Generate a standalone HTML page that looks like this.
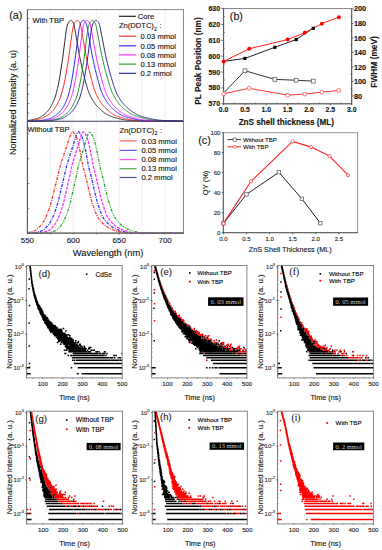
<!DOCTYPE html>
<html><head><meta charset="utf-8"><style>
html,body{margin:0;padding:0;background:#fff;width:382px;height:550px;overflow:hidden}
svg{display:block;font-family:"Liberation Sans", sans-serif}
text{stroke:#222;stroke-width:0.12px;paint-order:stroke}
text.w{stroke:none}
</style></head><body>
<svg width="382" height="550" viewBox="0 0 382 550">
<line x1="50.35" y1="9.60" x2="50.35" y2="233.10" stroke="#e4e4e4" stroke-width="0.6"/>
<line x1="73.30" y1="9.60" x2="73.30" y2="233.10" stroke="#e4e4e4" stroke-width="0.6"/>
<line x1="96.25" y1="9.60" x2="96.25" y2="233.10" stroke="#e4e4e4" stroke-width="0.6"/>
<line x1="119.20" y1="9.60" x2="119.20" y2="233.10" stroke="#e4e4e4" stroke-width="0.6"/>
<line x1="142.15" y1="9.60" x2="142.15" y2="233.10" stroke="#e4e4e4" stroke-width="0.6"/>
<line x1="165.10" y1="9.60" x2="165.10" y2="233.10" stroke="#e4e4e4" stroke-width="0.6"/>
<polyline points="27.40,120.59 27.71,120.55 28.03,120.51 28.34,120.46 28.65,120.41 28.96,120.36 29.28,120.31 29.59,120.26 29.90,120.21 30.22,120.15 30.53,120.10 30.84,120.04 31.15,119.98 31.47,119.92 31.78,119.86 32.09,119.80 32.41,119.73 32.72,119.67 33.03,119.60 33.34,119.53 33.66,119.47 33.97,119.40 34.28,119.33 34.59,119.25 34.91,119.18 35.22,119.11 35.53,119.03 35.85,118.96 36.16,118.88 36.47,118.80 36.78,118.71 37.10,118.61 37.41,118.50 37.72,118.38 38.04,118.26 38.35,118.13 38.66,117.99 38.97,117.84 39.29,117.69 39.60,117.53 39.91,117.36 40.23,117.18 40.54,117.00 40.85,116.81 41.16,116.61 41.48,116.41 41.79,116.20 42.10,115.98 42.42,115.76 42.73,115.54 43.04,115.30 43.35,115.06 43.67,114.82 43.98,114.57 44.29,114.31 44.61,114.05 44.92,113.79 45.23,113.52 45.54,113.24 45.86,112.96 46.17,112.68 46.48,112.39 46.80,112.09 47.11,111.77 47.42,111.44 47.73,111.08 48.05,110.71 48.36,110.32 48.67,109.91 48.98,109.49 49.30,109.04 49.61,108.58 49.92,108.10 50.24,107.60 50.55,107.08 50.86,106.55 51.17,106.00 51.49,105.42 51.80,104.83 52.11,104.23 52.43,103.60 52.74,102.96 53.05,102.29 53.36,101.61 53.68,100.92 53.99,100.20 54.30,99.46 54.62,98.69 54.93,97.84 55.24,96.91 55.55,95.90 55.87,94.82 56.18,93.68 56.49,92.48 56.81,91.23 57.12,89.94 57.43,88.60 57.74,87.23 58.06,85.83 58.37,84.37 58.68,82.82 59.00,81.19 59.31,79.48 59.62,77.71 59.93,75.88 60.25,73.99 60.56,72.04 60.87,70.06 61.19,68.03 61.50,65.96 61.81,63.87 62.12,61.75 62.44,59.62 62.75,57.42 63.06,55.06 63.37,52.59 63.69,50.06 64.00,47.51 64.31,44.99 64.63,42.54 64.94,40.21 65.25,37.84 65.56,35.38 65.88,32.96 66.19,30.71 66.50,28.74 66.82,27.19 67.13,26.05 67.44,25.02 67.75,24.10 68.07,23.30 68.38,22.62 68.69,22.09 69.01,21.69 69.32,21.34 69.63,21.01 69.94,20.73 70.26,20.51 70.57,20.36 70.88,20.30 71.20,20.36 71.51,20.52 71.82,20.78 72.13,21.12 72.45,21.50 72.76,21.92 73.07,22.40 73.39,23.07 73.70,23.92 74.01,24.93 74.32,26.26 74.64,27.88 74.95,29.67 75.26,31.51 75.58,33.29 75.89,35.02 76.20,36.79 76.51,38.61 76.83,40.45 77.14,42.32 77.45,44.19 77.76,46.06 78.08,47.91 78.39,49.74 78.70,51.53 79.02,53.27 79.33,54.96 79.64,56.57 79.95,58.12 80.27,59.65 80.58,61.16 80.89,62.63 81.21,64.09 81.52,65.51 81.83,66.91 82.14,68.28 82.46,69.62 82.77,70.94 83.08,72.22 83.40,73.48 83.71,74.71 84.02,75.91 84.33,77.11 84.65,78.30 84.96,79.50 85.27,80.68 85.59,81.86 85.90,83.02 86.21,84.16 86.52,85.27 86.84,86.37 87.15,87.42 87.46,88.45 87.78,89.44 88.09,90.38 88.40,91.28 88.71,92.14 89.03,92.93 89.34,93.67 89.65,94.36 89.97,95.02 90.28,95.67 90.59,96.30 90.90,96.92 91.22,97.52 91.53,98.11 91.84,98.68 92.15,99.24 92.47,99.78 92.78,100.31 93.09,100.82 93.41,101.32 93.72,101.81 94.03,102.28 94.34,102.74 94.66,103.18 94.97,103.62 95.28,104.04 95.60,104.44 95.91,104.84 96.22,105.22 96.53,105.59 96.85,105.94 97.16,106.29 97.47,106.62 97.79,106.94 98.10,107.26 98.41,107.57 98.72,107.87 99.04,108.18 99.35,108.48 99.66,108.78 99.98,109.07 100.29,109.36 100.60,109.64 100.91,109.92 101.23,110.20 101.54,110.47 101.85,110.74 102.17,111.01 102.48,111.27 102.79,111.52 103.10,111.77 103.42,112.02 103.73,112.26 104.04,112.50 104.36,112.73 104.67,112.96 104.98,113.18 105.29,113.39 105.61,113.61 105.92,113.81 106.23,114.01 106.54,114.21 106.86,114.39 107.17,114.58 107.48,114.76 107.80,114.93 108.11,115.09 108.42,115.25 108.73,115.40 109.05,115.55 109.36,115.69 109.67,115.82 109.99,115.95 110.30,116.07 110.61,116.18 110.92,116.29 111.24,116.40 111.55,116.50 111.86,116.60 112.18,116.71 112.49,116.81 112.80,116.91 113.11,117.01 113.43,117.11 113.74,117.20 114.05,117.30 114.37,117.39 114.68,117.49 114.99,117.58 115.30,117.67 115.62,117.76 115.93,117.85 116.24,117.94 116.56,118.03 116.87,118.11 117.18,118.20 117.49,118.28 117.81,118.37 118.12,118.45 118.43,118.53 118.75,118.60 119.06,118.68 119.37,118.76 119.68,118.83 120.00,118.90 120.31,118.98 120.62,119.05 120.93,119.11 121.25,119.18 121.56,119.25 121.87,119.31 122.19,119.38 122.50,119.44 122.81,119.50 123.12,119.56 123.44,119.61 123.75,119.67 124.06,119.72 124.38,119.78 124.69,119.83 125.00,119.88 125.31,119.92 125.63,119.97 125.94,120.02 126.25,120.06 126.57,120.10 126.88,120.14 127.19,120.18 127.50,120.21 127.82,120.25 128.13,120.28 128.44,120.31 128.76,120.34 129.07,120.37 129.38,120.39 129.69,120.42 130.01,120.44 130.32,120.46 130.63,120.48 130.95,120.49 131.26,120.51 131.57,120.53 131.88,120.54 132.20,120.56 132.51,120.57 132.82,120.59 133.14,120.60 133.45,120.62 133.76,120.63 134.07,120.64 134.39,120.66 134.70,120.67 135.01,120.69 135.32,120.70 135.64,120.72 135.95,120.73 136.26,120.74 136.58,120.76 136.89,120.77 137.20,120.78 137.51,120.79 137.83,120.81 138.14,120.82 138.45,120.83 138.77,120.85 139.08,120.86 139.39,120.87 139.70,120.88 140.02,120.89 140.33,120.90 140.64,120.92 140.96,120.93 141.27,120.94 141.58,120.95 141.89,120.96 142.21,120.97 142.52,120.98 142.83,120.99 143.15,121.00 143.46,121.01 143.77,121.02 144.08,121.03 144.40,121.04 144.71,121.05 145.02,121.06 145.34,121.07 145.65,121.08 145.96,121.09 146.27,121.10 146.59,121.10 146.90,121.11 147.21,121.12 147.53,121.13 147.84,121.14 148.15,121.14 148.46,121.15 148.78,121.16 149.09,121.16 149.40,121.17 149.71,121.18 150.03,121.19 150.34,121.19 150.65,121.20 150.97,121.20 151.28,121.20 151.59,121.20 151.90,121.20 152.22,121.20 152.53,121.20 152.84,121.20 153.16,121.20 153.47,121.20 153.78,121.20 154.09,121.20 154.41,121.20 154.72,121.20 155.03,121.20 155.35,121.20 155.66,121.20 155.97,121.20 156.28,121.20 156.60,121.20 156.91,121.20 157.22,121.20 157.54,121.20 157.85,121.20 158.16,121.20 158.47,121.20 158.79,121.20 159.10,121.20 159.41,121.20 159.73,121.20 160.04,121.20 160.35,121.20 160.66,121.20 160.98,121.20 161.29,121.20 161.60,121.20 161.92,121.20 162.23,121.20 162.54,121.20 162.85,121.20 163.17,121.20 163.48,121.20 163.79,121.20 164.10,121.20 164.42,121.20 164.73,121.20 165.04,121.20 165.36,121.20 165.67,121.20 165.98,121.20 166.29,121.20 166.61,121.20 166.92,121.20 167.23,121.20 167.55,121.20 167.86,121.20 168.17,121.20 168.48,121.20 168.80,121.20 169.11,121.20 169.42,121.20 169.74,121.20 170.05,121.20 170.36,121.20 170.67,121.20 170.99,121.20 171.30,121.20 171.61,121.20 171.93,121.20 172.24,121.20 172.55,121.20 172.86,121.20 173.18,121.20 173.49,121.20 173.80,121.20 174.12,121.20 174.43,121.20 174.74,121.20 175.05,121.20 175.37,121.20 175.68,121.20 175.99,121.20 176.31,121.20 176.62,121.20 176.93,121.20 177.24,121.20 177.56,121.20 177.87,121.20 178.18,121.20 178.49,121.20 178.81,121.20 179.12,121.20 179.43,121.20 179.75,121.20 180.06,121.20 180.37,121.20 180.68,121.20 181.00,121.20 181.31,121.20 181.62,121.20 181.94,121.20 182.25,121.20 182.56,121.20 182.87,121.20 183.19,121.20 183.50,121.20" fill="none" stroke="#222222" stroke-width="1.0" stroke-linejoin="round"/>
<polyline points="27.40,120.91 27.71,120.89 28.03,120.86 28.34,120.83 28.65,120.80 28.96,120.77 29.28,120.74 29.59,120.70 29.90,120.67 30.22,120.63 30.53,120.59 30.84,120.55 31.15,120.51 31.47,120.47 31.78,120.43 32.09,120.38 32.41,120.33 32.72,120.29 33.03,120.24 33.34,120.19 33.66,120.14 33.97,120.08 34.28,120.03 34.59,119.98 34.91,119.92 35.22,119.86 35.53,119.81 35.85,119.75 36.16,119.69 36.47,119.63 36.78,119.56 37.10,119.50 37.41,119.44 37.72,119.37 38.04,119.31 38.35,119.24 38.66,119.17 38.97,119.11 39.29,119.04 39.60,118.97 39.91,118.90 40.23,118.82 40.54,118.74 40.85,118.65 41.16,118.55 41.48,118.45 41.79,118.34 42.10,118.22 42.42,118.10 42.73,117.97 43.04,117.83 43.35,117.69 43.67,117.54 43.98,117.38 44.29,117.22 44.61,117.06 44.92,116.88 45.23,116.70 45.54,116.52 45.86,116.33 46.17,116.13 46.48,115.93 46.80,115.72 47.11,115.51 47.42,115.30 47.73,115.07 48.05,114.85 48.36,114.62 48.67,114.38 48.98,114.14 49.30,113.90 49.61,113.65 49.92,113.40 50.24,113.14 50.55,112.88 50.86,112.62 51.17,112.35 51.49,112.07 51.80,111.78 52.11,111.47 52.43,111.14 52.74,110.80 53.05,110.44 53.36,110.07 53.68,109.68 53.99,109.28 54.30,108.86 54.62,108.43 54.93,107.98 55.24,107.51 55.55,107.03 55.87,106.54 56.18,106.02 56.49,105.50 56.81,104.95 57.12,104.39 57.43,103.82 57.74,103.23 58.06,102.62 58.37,102.00 58.68,101.37 59.00,100.71 59.31,100.05 59.62,99.36 59.93,98.64 60.25,97.85 60.56,96.99 60.87,96.06 61.19,95.08 61.50,94.04 61.81,92.95 62.12,91.81 62.44,90.63 62.75,89.41 63.06,88.17 63.37,86.89 63.69,85.59 64.00,84.22 64.31,82.78 64.63,81.27 64.94,79.70 65.25,78.07 65.56,76.38 65.88,74.65 66.19,72.87 66.50,71.04 66.82,69.19 67.13,67.29 67.44,65.37 67.75,63.43 68.07,61.47 68.38,59.49 68.69,57.45 69.01,55.27 69.32,53.00 69.63,50.66 69.94,48.30 70.26,45.95 70.57,43.65 70.88,41.43 71.20,39.29 71.51,37.05 71.82,34.77 72.13,32.55 72.45,30.50 72.76,28.70 73.07,27.26 73.39,26.18 73.70,25.21 74.01,24.34 74.32,23.56 74.64,22.89 74.95,22.34 75.26,21.90 75.58,21.56 75.89,21.24 76.20,20.95 76.51,20.70 76.83,20.49 77.14,20.36 77.45,20.30 77.76,20.34 78.08,20.50 78.39,20.75 78.70,21.08 79.02,21.46 79.33,21.88 79.64,22.34 79.95,22.99 80.27,23.83 80.58,24.81 80.89,26.11 81.21,27.71 81.52,29.49 81.83,31.33 82.14,33.13 82.46,34.85 82.77,36.62 83.08,38.43 83.40,40.27 83.71,42.13 84.02,44.00 84.33,45.87 84.65,47.73 84.96,49.56 85.27,51.35 85.59,53.10 85.90,54.79 86.21,56.42 86.52,57.97 86.84,59.50 87.15,61.01 87.46,62.49 87.78,63.95 88.09,65.37 88.40,66.77 88.71,68.15 89.03,69.49 89.34,70.81 89.65,72.10 89.97,73.36 90.28,74.59 90.59,75.79 90.90,76.99 91.22,78.19 91.53,79.38 91.84,80.57 92.15,81.74 92.47,82.90 92.78,84.05 93.09,85.17 93.41,86.26 93.72,87.32 94.03,88.35 94.34,89.34 94.66,90.29 94.97,91.20 95.28,92.05 95.60,92.86 95.91,93.60 96.22,94.29 96.53,94.96 96.85,95.61 97.16,96.24 97.47,96.86 97.79,97.46 98.10,98.05 98.41,98.62 98.72,99.18 99.04,99.73 99.35,100.26 99.66,100.77 99.98,101.27 100.29,101.76 100.60,102.23 100.91,102.69 101.23,103.14 101.54,103.57 101.85,104.00 102.17,104.40 102.48,104.80 102.79,105.18 103.10,105.55 103.42,105.91 103.73,106.26 104.04,106.59 104.36,106.91 104.67,107.23 104.98,107.54 105.29,107.84 105.61,108.15 105.92,108.45 106.23,108.75 106.54,109.04 106.86,109.33 107.17,109.61 107.48,109.90 107.80,110.17 108.11,110.45 108.42,110.72 108.73,110.98 109.05,111.24 109.36,111.50 109.67,111.75 109.99,112.00 110.30,112.24 110.61,112.48 110.92,112.71 111.24,112.94 111.55,113.16 111.86,113.37 112.18,113.59 112.49,113.79 112.80,113.99 113.11,114.19 113.43,114.38 113.74,114.56 114.05,114.74 114.37,114.91 114.68,115.08 114.99,115.24 115.30,115.39 115.62,115.54 115.93,115.68 116.24,115.81 116.56,115.94 116.87,116.06 117.18,116.17 117.49,116.28 117.81,116.39 118.12,116.49 118.43,116.59 118.75,116.70 119.06,116.80 119.37,116.90 119.68,117.00 120.00,117.10 120.31,117.19 120.62,117.29 120.93,117.39 121.25,117.48 121.56,117.57 121.87,117.66 122.19,117.76 122.50,117.84 122.81,117.93 123.12,118.02 123.44,118.11 123.75,118.19 124.06,118.27 124.38,118.36 124.69,118.44 125.00,118.52 125.31,118.60 125.63,118.67 125.94,118.75 126.25,118.82 126.57,118.90 126.88,118.97 127.19,119.04 127.50,119.11 127.82,119.18 128.13,119.24 128.44,119.31 128.76,119.37 129.07,119.43 129.38,119.49 129.69,119.55 130.01,119.61 130.32,119.66 130.63,119.72 130.95,119.77 131.26,119.82 131.57,119.87 131.88,119.92 132.20,119.97 132.51,120.01 132.82,120.05 133.14,120.10 133.45,120.14 133.76,120.17 134.07,120.21 134.39,120.24 134.70,120.28 135.01,120.31 135.32,120.34 135.64,120.37 135.95,120.39 136.26,120.42 136.58,120.44 136.89,120.46 137.20,120.48 137.51,120.49 137.83,120.51 138.14,120.52 138.45,120.54 138.77,120.55 139.08,120.57 139.39,120.58 139.70,120.60 140.02,120.61 140.33,120.63 140.64,120.64 140.96,120.66 141.27,120.67 141.58,120.69 141.89,120.70 142.21,120.71 142.52,120.73 142.83,120.74 143.15,120.75 143.46,120.77 143.77,120.78 144.08,120.79 144.40,120.81 144.71,120.82 145.02,120.83 145.34,120.84 145.65,120.86 145.96,120.87 146.27,120.88 146.59,120.89 146.90,120.90 147.21,120.91 147.53,120.93 147.84,120.94 148.15,120.95 148.46,120.96 148.78,120.97 149.09,120.98 149.40,120.99 149.71,121.00 150.03,121.01 150.34,121.02 150.65,121.03 150.97,121.04 151.28,121.05 151.59,121.06 151.90,121.07 152.22,121.08 152.53,121.09 152.84,121.09 153.16,121.10 153.47,121.11 153.78,121.12 154.09,121.13 154.41,121.13 154.72,121.14 155.03,121.15 155.35,121.16 155.66,121.16 155.97,121.17 156.28,121.18 156.60,121.18 156.91,121.19 157.22,121.20 157.54,121.20 157.85,121.20 158.16,121.20 158.47,121.20 158.79,121.20 159.10,121.20 159.41,121.20 159.73,121.20 160.04,121.20 160.35,121.20 160.66,121.20 160.98,121.20 161.29,121.20 161.60,121.20 161.92,121.20 162.23,121.20 162.54,121.20 162.85,121.20 163.17,121.20 163.48,121.20 163.79,121.20 164.10,121.20 164.42,121.20 164.73,121.20 165.04,121.20 165.36,121.20 165.67,121.20 165.98,121.20 166.29,121.20 166.61,121.20 166.92,121.20 167.23,121.20 167.55,121.20 167.86,121.20 168.17,121.20 168.48,121.20 168.80,121.20 169.11,121.20 169.42,121.20 169.74,121.20 170.05,121.20 170.36,121.20 170.67,121.20 170.99,121.20 171.30,121.20 171.61,121.20 171.93,121.20 172.24,121.20 172.55,121.20 172.86,121.20 173.18,121.20 173.49,121.20 173.80,121.20 174.12,121.20 174.43,121.20 174.74,121.20 175.05,121.20 175.37,121.20 175.68,121.20 175.99,121.20 176.31,121.20 176.62,121.20 176.93,121.20 177.24,121.20 177.56,121.20 177.87,121.20 178.18,121.20 178.49,121.20 178.81,121.20 179.12,121.20 179.43,121.20 179.75,121.20 180.06,121.20 180.37,121.20 180.68,121.20 181.00,121.20 181.31,121.20 181.62,121.20 181.94,121.20 182.25,121.20 182.56,121.20 182.87,121.20 183.19,121.20 183.50,121.20" fill="none" stroke="#ff2020" stroke-width="1.0" stroke-linejoin="round"/>
<polyline points="27.40,121.17 27.71,121.17 28.03,121.17 28.34,121.16 28.65,121.16 28.96,121.16 29.28,121.15 29.59,121.15 29.90,121.15 30.22,121.14 30.53,121.14 30.84,121.13 31.15,121.13 31.47,121.13 31.78,121.12 32.09,121.12 32.41,121.11 32.72,121.11 33.03,121.10 33.34,121.10 33.66,121.10 33.97,121.09 34.28,121.08 34.59,121.07 34.91,121.06 35.22,121.04 35.53,121.03 35.85,121.01 36.16,120.99 36.47,120.97 36.78,120.94 37.10,120.92 37.41,120.89 37.72,120.86 38.04,120.83 38.35,120.79 38.66,120.76 38.97,120.72 39.29,120.69 39.60,120.65 39.91,120.61 40.23,120.56 40.54,120.52 40.85,120.47 41.16,120.43 41.48,120.38 41.79,120.33 42.10,120.27 42.42,120.22 42.73,120.17 43.04,120.11 43.35,120.05 43.67,120.00 43.98,119.94 44.29,119.88 44.61,119.81 44.92,119.75 45.23,119.69 45.54,119.62 45.86,119.55 46.17,119.48 46.48,119.42 46.80,119.35 47.11,119.27 47.42,119.20 47.73,119.13 48.05,119.05 48.36,118.98 48.67,118.90 48.98,118.82 49.30,118.73 49.61,118.64 49.92,118.53 50.24,118.42 50.55,118.30 50.86,118.17 51.17,118.03 51.49,117.88 51.80,117.73 52.11,117.57 52.43,117.40 52.74,117.23 53.05,117.05 53.36,116.86 53.68,116.67 53.99,116.47 54.30,116.26 54.62,116.04 54.93,115.82 55.24,115.60 55.55,115.37 55.87,115.13 56.18,114.89 56.49,114.64 56.81,114.38 57.12,114.12 57.43,113.86 57.74,113.59 58.06,113.32 58.37,113.04 58.68,112.76 59.00,112.47 59.31,112.17 59.62,111.86 59.93,111.53 60.25,111.18 60.56,110.82 60.87,110.43 61.19,110.03 61.50,109.61 61.81,109.17 62.12,108.71 62.44,108.24 62.75,107.74 63.06,107.23 63.37,106.70 63.69,106.15 64.00,105.59 64.31,105.00 64.63,104.40 64.94,103.78 65.25,103.14 65.56,102.48 65.88,101.80 66.19,101.11 66.50,100.40 66.82,99.67 67.13,98.92 67.44,98.09 67.75,97.17 68.07,96.19 68.38,95.13 68.69,94.00 69.01,92.82 69.32,91.58 69.63,90.30 69.94,88.98 70.26,87.62 70.57,86.23 70.88,84.78 71.20,83.26 71.51,81.65 71.82,79.96 72.13,78.21 72.45,76.39 72.76,74.52 73.07,72.59 73.39,70.61 73.70,68.60 74.01,66.54 74.32,64.46 74.64,62.35 74.95,60.22 75.26,58.05 75.58,55.73 75.89,53.29 76.20,50.77 76.51,48.22 76.83,45.69 77.14,43.21 77.45,40.85 77.76,38.51 78.08,36.06 78.39,33.62 78.70,31.31 79.02,29.25 79.33,27.58 79.64,26.35 79.95,25.29 80.27,24.34 80.58,23.51 80.89,22.80 81.21,22.22 81.52,21.79 81.83,21.43 82.14,21.10 82.46,20.80 82.77,20.56 83.08,20.39 83.40,20.31 83.71,20.33 84.02,20.46 84.33,20.69 84.65,20.99 84.96,21.36 85.27,21.76 85.59,22.18 85.90,22.75 86.21,23.52 86.52,24.43 86.84,25.57 87.15,27.03 87.46,28.71 87.78,30.51 88.09,32.30 88.40,34.00 88.71,35.71 89.03,37.47 89.34,39.26 89.65,41.08 89.97,42.91 90.28,44.74 90.59,46.57 90.90,48.38 91.22,50.17 91.53,51.91 91.84,53.61 92.15,55.25 92.47,56.82 92.78,58.34 93.09,59.84 93.41,61.31 93.72,62.75 94.03,64.18 94.34,65.57 94.66,66.94 94.97,68.28 95.28,69.60 95.60,70.89 95.91,72.15 96.22,73.39 96.53,74.59 96.85,75.77 97.16,76.95 97.47,78.12 97.79,79.29 98.10,80.46 98.41,81.61 98.72,82.75 99.04,83.87 99.35,84.97 99.66,86.05 99.98,87.10 100.29,88.12 100.60,89.10 100.91,90.04 101.23,90.94 101.54,91.79 101.85,92.60 102.17,93.35 102.48,94.04 102.79,94.70 103.10,95.34 103.42,95.97 103.73,96.58 104.04,97.18 104.36,97.77 104.67,98.34 104.98,98.89 105.29,99.43 105.61,99.96 105.92,100.47 106.23,100.97 106.54,101.46 106.86,101.93 107.17,102.39 107.48,102.84 107.80,103.27 108.11,103.69 108.42,104.10 108.73,104.50 109.05,104.88 109.36,105.26 109.67,105.62 109.99,105.97 110.30,106.30 110.61,106.63 110.92,106.94 111.24,107.25 111.55,107.56 111.86,107.86 112.18,108.16 112.49,108.45 112.80,108.74 113.11,109.03 113.43,109.31 113.74,109.59 114.05,109.87 114.37,110.14 114.68,110.41 114.99,110.68 115.30,110.94 115.62,111.19 115.93,111.44 116.24,111.69 116.56,111.93 116.87,112.17 117.18,112.41 117.49,112.64 117.81,112.86 118.12,113.08 118.43,113.29 118.75,113.50 119.06,113.71 119.37,113.91 119.68,114.10 120.00,114.29 120.31,114.47 120.62,114.65 120.93,114.82 121.25,114.99 121.56,115.15 121.87,115.30 122.19,115.45 122.50,115.59 122.81,115.73 123.12,115.85 123.44,115.98 123.75,116.09 124.06,116.20 124.38,116.31 124.69,116.41 125.00,116.51 125.31,116.62 125.63,116.72 125.94,116.81 126.25,116.91 126.57,117.01 126.88,117.11 127.19,117.20 127.50,117.30 127.82,117.39 128.13,117.48 128.44,117.57 128.76,117.66 129.07,117.75 129.38,117.84 129.69,117.93 130.01,118.01 130.32,118.10 130.63,118.18 130.95,118.26 131.26,118.34 131.57,118.42 131.88,118.50 132.20,118.58 132.51,118.65 132.82,118.73 133.14,118.80 133.45,118.87 133.76,118.95 134.07,119.01 134.39,119.08 134.70,119.15 135.01,119.22 135.32,119.28 135.64,119.34 135.95,119.40 136.26,119.46 136.58,119.52 136.89,119.58 137.20,119.63 137.51,119.69 137.83,119.74 138.14,119.79 138.45,119.84 138.77,119.89 139.08,119.94 139.39,119.98 139.70,120.02 140.02,120.07 140.33,120.11 140.64,120.14 140.96,120.18 141.27,120.22 141.58,120.25 141.89,120.28 142.21,120.31 142.52,120.34 142.83,120.37 143.15,120.39 143.46,120.42 143.77,120.44 144.08,120.46 144.40,120.48 144.71,120.49 145.02,120.51 145.34,120.52 145.65,120.54 145.96,120.55 146.27,120.57 146.59,120.58 146.90,120.60 147.21,120.61 147.53,120.63 147.84,120.64 148.15,120.65 148.46,120.67 148.78,120.68 149.09,120.70 149.40,120.71 149.71,120.72 150.03,120.74 150.34,120.75 150.65,120.76 150.97,120.78 151.28,120.79 151.59,120.80 151.90,120.81 152.22,120.83 152.53,120.84 152.84,120.85 153.16,120.86 153.47,120.87 153.78,120.88 154.09,120.90 154.41,120.91 154.72,120.92 155.03,120.93 155.35,120.94 155.66,120.95 155.97,120.96 156.28,120.97 156.60,120.98 156.91,120.99 157.22,121.00 157.54,121.01 157.85,121.02 158.16,121.03 158.47,121.04 158.79,121.05 159.10,121.06 159.41,121.07 159.73,121.08 160.04,121.09 160.35,121.09 160.66,121.10 160.98,121.11 161.29,121.12 161.60,121.13 161.92,121.13 162.23,121.14 162.54,121.15 162.85,121.16 163.17,121.16 163.48,121.17 163.79,121.18 164.10,121.18 164.42,121.19 164.73,121.20 165.04,121.20 165.36,121.20 165.67,121.20 165.98,121.20 166.29,121.20 166.61,121.20 166.92,121.20 167.23,121.20 167.55,121.20 167.86,121.20 168.17,121.20 168.48,121.20 168.80,121.20 169.11,121.20 169.42,121.20 169.74,121.20 170.05,121.20 170.36,121.20 170.67,121.20 170.99,121.20 171.30,121.20 171.61,121.20 171.93,121.20 172.24,121.20 172.55,121.20 172.86,121.20 173.18,121.20 173.49,121.20 173.80,121.20 174.12,121.20 174.43,121.20 174.74,121.20 175.05,121.20 175.37,121.20 175.68,121.20 175.99,121.20 176.31,121.20 176.62,121.20 176.93,121.20 177.24,121.20 177.56,121.20 177.87,121.20 178.18,121.20 178.49,121.20 178.81,121.20 179.12,121.20 179.43,121.20 179.75,121.20 180.06,121.20 180.37,121.20 180.68,121.20 181.00,121.20 181.31,121.20 181.62,121.20 181.94,121.20 182.25,121.20 182.56,121.20 182.87,121.20 183.19,121.20 183.50,121.20" fill="none" stroke="#2020ff" stroke-width="1.0" stroke-linejoin="round"/>
<polyline points="27.40,121.21 27.71,121.21 28.03,121.21 28.34,121.20 28.65,121.20 28.96,121.20 29.28,121.19 29.59,121.19 29.90,121.19 30.22,121.18 30.53,121.18 30.84,121.18 31.15,121.17 31.47,121.17 31.78,121.17 32.09,121.16 32.41,121.16 32.72,121.16 33.03,121.15 33.34,121.15 33.66,121.14 33.97,121.14 34.28,121.14 34.59,121.13 34.91,121.13 35.22,121.12 35.53,121.12 35.85,121.12 36.16,121.11 36.47,121.11 36.78,121.10 37.10,121.10 37.41,121.09 37.72,121.09 38.04,121.08 38.35,121.06 38.66,121.05 38.97,121.03 39.29,121.02 39.60,121.00 39.91,120.98 40.23,120.95 40.54,120.93 40.85,120.90 41.16,120.87 41.48,120.84 41.79,120.81 42.10,120.78 42.42,120.74 42.73,120.71 43.04,120.67 43.35,120.63 43.67,120.58 43.98,120.54 44.29,120.50 44.61,120.45 44.92,120.40 45.23,120.35 45.54,120.30 45.86,120.25 46.17,120.20 46.48,120.14 46.80,120.08 47.11,120.03 47.42,119.97 47.73,119.91 48.05,119.85 48.36,119.78 48.67,119.72 48.98,119.65 49.30,119.59 49.61,119.52 49.92,119.45 50.24,119.38 50.55,119.31 50.86,119.24 51.17,119.17 51.49,119.09 51.80,119.02 52.11,118.94 52.43,118.86 52.74,118.78 53.05,118.69 53.36,118.59 53.68,118.48 53.99,118.36 54.30,118.23 54.62,118.10 54.93,117.96 55.24,117.81 55.55,117.65 55.87,117.49 56.18,117.32 56.49,117.14 56.81,116.96 57.12,116.77 57.43,116.57 57.74,116.36 58.06,116.15 58.37,115.94 58.68,115.71 59.00,115.49 59.31,115.25 59.62,115.01 59.93,114.76 60.25,114.51 60.56,114.26 60.87,114.00 61.19,113.73 61.50,113.46 61.81,113.18 62.12,112.90 62.44,112.62 62.75,112.33 63.06,112.02 63.37,111.70 63.69,111.36 64.00,111.00 64.31,110.63 64.63,110.24 64.94,109.82 65.25,109.39 65.56,108.95 65.88,108.48 66.19,107.99 66.50,107.49 66.82,106.97 67.13,106.43 67.44,105.88 67.75,105.30 68.07,104.71 68.38,104.09 68.69,103.46 69.01,102.82 69.32,102.15 69.63,101.47 69.94,100.76 70.26,100.04 70.57,99.30 70.88,98.52 71.20,97.65 71.51,96.70 71.82,95.67 72.13,94.58 72.45,93.43 72.76,92.22 73.07,90.96 73.39,89.65 73.70,88.31 74.01,86.94 74.32,85.53 74.64,84.04 74.95,82.48 75.26,80.83 75.58,79.11 75.89,77.33 76.20,75.48 76.51,73.58 76.83,71.62 77.14,69.63 77.45,67.59 77.76,65.52 78.08,63.42 78.39,61.30 78.70,59.16 79.02,56.93 79.33,54.54 79.64,52.06 79.95,49.52 80.27,46.97 80.58,44.46 80.89,42.03 81.21,39.72 81.52,37.31 81.83,34.85 82.14,32.46 82.46,30.26 82.77,28.37 83.08,26.93 83.40,25.82 83.71,24.81 84.02,23.92 84.33,23.14 84.65,22.50 84.96,21.99 85.27,21.62 85.59,21.27 85.90,20.95 86.21,20.68 86.52,20.47 86.84,20.34 87.15,20.30 87.46,20.38 87.78,20.55 88.09,20.81 88.40,21.14 88.71,21.51 89.03,21.91 89.34,22.36 89.65,22.99 89.97,23.79 90.28,24.73 90.59,25.94 90.90,27.45 91.22,29.14 91.53,30.90 91.84,32.65 92.15,34.31 92.47,36.00 92.78,37.72 93.09,39.48 93.41,41.27 93.72,43.06 94.03,44.86 94.34,46.66 94.66,48.43 94.97,50.18 95.28,51.89 95.60,53.56 95.91,55.17 96.22,56.72 96.53,58.21 96.85,59.68 97.16,61.12 97.47,62.54 97.79,63.94 98.10,65.32 98.41,66.66 98.72,67.99 99.04,69.29 99.35,70.56 99.66,71.80 99.98,73.02 100.29,74.21 100.60,75.38 100.91,76.53 101.23,77.68 101.54,78.83 101.85,79.97 102.17,81.11 102.48,82.24 102.79,83.34 103.10,84.43 103.42,85.50 103.73,86.55 104.04,87.56 104.36,88.54 104.67,89.49 104.98,90.40 105.29,91.26 105.61,92.08 105.92,92.86 106.23,93.57 106.54,94.24 106.86,94.88 107.17,95.51 107.48,96.12 107.80,96.72 108.11,97.30 108.42,97.87 108.73,98.43 109.05,98.97 109.36,99.50 109.67,100.01 109.99,100.51 110.30,101.00 110.61,101.48 110.92,101.94 111.24,102.39 111.55,102.83 111.86,103.26 112.18,103.67 112.49,104.07 112.80,104.46 113.11,104.84 113.43,105.21 113.74,105.56 114.05,105.91 114.37,106.24 114.68,106.56 114.99,106.88 115.30,107.18 115.62,107.48 115.93,107.77 116.24,108.07 116.56,108.36 116.87,108.64 117.18,108.93 117.49,109.21 117.81,109.48 118.12,109.76 118.43,110.02 118.75,110.29 119.06,110.55 119.37,110.81 119.68,111.06 120.00,111.31 120.31,111.56 120.62,111.80 120.93,112.03 121.25,112.27 121.56,112.49 121.87,112.72 122.19,112.93 122.50,113.15 122.81,113.36 123.12,113.56 123.44,113.76 123.75,113.95 124.06,114.14 124.38,114.33 124.69,114.50 125.00,114.68 125.31,114.84 125.63,115.01 125.94,115.16 126.25,115.31 126.57,115.46 126.88,115.60 127.19,115.73 127.50,115.86 127.82,115.98 128.13,116.09 128.44,116.20 128.76,116.30 129.07,116.40 129.38,116.50 129.69,116.60 130.01,116.70 130.32,116.80 130.63,116.90 130.95,116.99 131.26,117.09 131.57,117.18 131.88,117.27 132.20,117.36 132.51,117.45 132.82,117.54 133.14,117.63 133.45,117.72 133.76,117.81 134.07,117.89 134.39,117.98 134.70,118.06 135.01,118.14 135.32,118.22 135.64,118.30 135.95,118.38 136.26,118.46 136.58,118.54 136.89,118.61 137.20,118.69 137.51,118.76 137.83,118.83 138.14,118.90 138.45,118.97 138.77,119.04 139.08,119.10 139.39,119.17 139.70,119.23 140.02,119.29 140.33,119.36 140.64,119.42 140.96,119.47 141.27,119.53 141.58,119.59 141.89,119.64 142.21,119.69 142.52,119.75 142.83,119.80 143.15,119.84 143.46,119.89 143.77,119.94 144.08,119.98 144.40,120.02 144.71,120.06 145.02,120.10 145.34,120.14 145.65,120.18 145.96,120.21 146.27,120.25 146.59,120.28 146.90,120.31 147.21,120.34 147.53,120.36 147.84,120.39 148.15,120.41 148.46,120.43 148.78,120.45 149.09,120.47 149.40,120.49 149.71,120.50 150.03,120.52 150.34,120.53 150.65,120.55 150.97,120.56 151.28,120.58 151.59,120.59 151.90,120.60 152.22,120.62 152.53,120.63 152.84,120.65 153.16,120.66 153.47,120.67 153.78,120.69 154.09,120.70 154.41,120.71 154.72,120.73 155.03,120.74 155.35,120.75 155.66,120.77 155.97,120.78 156.28,120.79 156.60,120.80 156.91,120.82 157.22,120.83 157.54,120.84 157.85,120.85 158.16,120.86 158.47,120.87 158.79,120.89 159.10,120.90 159.41,120.91 159.73,120.92 160.04,120.93 160.35,120.94 160.66,120.95 160.98,120.96 161.29,120.97 161.60,120.98 161.92,120.99 162.23,121.00 162.54,121.01 162.85,121.02 163.17,121.03 163.48,121.04 163.79,121.05 164.10,121.06 164.42,121.07 164.73,121.07 165.04,121.08 165.36,121.09 165.67,121.10 165.98,121.11 166.29,121.12 166.61,121.12 166.92,121.13 167.23,121.14 167.55,121.15 167.86,121.15 168.17,121.16 168.48,121.17 168.80,121.17 169.11,121.18 169.42,121.19 169.74,121.19 170.05,121.20 170.36,121.20 170.67,121.20 170.99,121.20 171.30,121.20 171.61,121.20 171.93,121.20 172.24,121.20 172.55,121.20 172.86,121.20 173.18,121.20 173.49,121.20 173.80,121.20 174.12,121.20 174.43,121.20 174.74,121.20 175.05,121.20 175.37,121.20 175.68,121.20 175.99,121.20 176.31,121.20 176.62,121.20 176.93,121.20 177.24,121.20 177.56,121.20 177.87,121.20 178.18,121.20 178.49,121.20 178.81,121.20 179.12,121.20 179.43,121.20 179.75,121.20 180.06,121.20 180.37,121.20 180.68,121.20 181.00,121.20 181.31,121.20 181.62,121.20 181.94,121.20 182.25,121.20 182.56,121.20 182.87,121.20 183.19,121.20 183.50,121.20" fill="none" stroke="#ff20ff" stroke-width="1.0" stroke-linejoin="round"/>
<polyline points="27.40,121.25 27.71,121.25 28.03,121.24 28.34,121.24 28.65,121.24 28.96,121.24 29.28,121.23 29.59,121.23 29.90,121.23 30.22,121.23 30.53,121.22 30.84,121.22 31.15,121.22 31.47,121.22 31.78,121.21 32.09,121.21 32.41,121.21 32.72,121.21 33.03,121.20 33.34,121.20 33.66,121.20 33.97,121.19 34.28,121.19 34.59,121.19 34.91,121.18 35.22,121.18 35.53,121.18 35.85,121.17 36.16,121.17 36.47,121.17 36.78,121.16 37.10,121.16 37.41,121.16 37.72,121.15 38.04,121.15 38.35,121.14 38.66,121.14 38.97,121.14 39.29,121.13 39.60,121.13 39.91,121.13 40.23,121.12 40.54,121.12 40.85,121.11 41.16,121.11 41.48,121.10 41.79,121.10 42.10,121.09 42.42,121.09 42.73,121.08 43.04,121.07 43.35,121.06 43.67,121.04 43.98,121.02 44.29,121.01 44.61,120.99 44.92,120.96 45.23,120.94 45.54,120.91 45.86,120.89 46.17,120.86 46.48,120.83 46.80,120.79 47.11,120.76 47.42,120.72 47.73,120.69 48.05,120.65 48.36,120.61 48.67,120.57 48.98,120.52 49.30,120.48 49.61,120.43 49.92,120.38 50.24,120.33 50.55,120.28 50.86,120.23 51.17,120.18 51.49,120.12 51.80,120.06 52.11,120.01 52.43,119.95 52.74,119.89 53.05,119.83 53.36,119.76 53.68,119.70 53.99,119.64 54.30,119.57 54.62,119.50 54.93,119.43 55.24,119.36 55.55,119.29 55.87,119.22 56.18,119.15 56.49,119.08 56.81,119.00 57.12,118.93 57.43,118.85 57.74,118.77 58.06,118.67 58.37,118.57 58.68,118.46 59.00,118.34 59.31,118.22 59.62,118.09 59.93,117.95 60.25,117.80 60.56,117.64 60.87,117.48 61.19,117.31 61.50,117.14 61.81,116.95 62.12,116.76 62.44,116.57 62.75,116.37 63.06,116.16 63.37,115.94 63.69,115.72 64.00,115.50 64.31,115.26 64.63,115.03 64.94,114.78 65.25,114.53 65.56,114.28 65.88,114.02 66.19,113.76 66.50,113.49 66.82,113.22 67.13,112.94 67.44,112.66 67.75,112.37 68.07,112.08 68.38,111.76 68.69,111.43 69.01,111.08 69.32,110.71 69.63,110.32 69.94,109.92 70.26,109.50 70.57,109.06 70.88,108.60 71.20,108.13 71.51,107.64 71.82,107.12 72.13,106.60 72.45,106.05 72.76,105.49 73.07,104.90 73.39,104.30 73.70,103.69 74.01,103.05 74.32,102.40 74.64,101.73 74.95,101.04 75.26,100.33 75.58,99.61 75.89,98.86 76.20,98.03 76.51,97.12 76.83,96.14 77.14,95.09 77.45,93.98 77.76,92.80 78.08,91.58 78.39,90.31 78.70,89.00 79.02,87.65 79.33,86.28 79.64,84.85 79.95,83.35 80.27,81.76 80.58,80.10 80.89,78.37 81.21,76.57 81.52,74.72 81.83,72.82 82.14,70.86 82.46,68.87 82.77,66.84 83.08,64.78 83.40,62.70 83.71,60.59 84.02,58.46 84.33,56.19 84.65,53.80 84.96,51.32 85.27,48.79 85.59,46.28 85.90,43.81 86.21,41.44 86.52,39.14 86.84,36.74 87.15,34.31 87.46,31.97 87.78,29.84 88.09,28.05 88.40,26.72 88.71,25.64 89.03,24.66 89.34,23.79 89.65,23.04 89.97,22.42 90.28,21.94 90.59,21.57 90.90,21.23 91.22,20.92 91.53,20.66 91.84,20.45 92.15,20.33 92.47,20.30 92.78,20.38 93.09,20.54 93.41,20.78 93.72,21.08 94.03,21.42 94.34,21.80 94.66,22.19 94.97,22.72 95.28,23.42 95.60,24.24 95.91,25.23 96.22,26.50 96.53,28.00 96.85,29.63 97.16,31.31 97.47,32.94 97.79,34.51 98.10,36.10 98.41,37.74 98.72,39.40 99.04,41.09 99.35,42.79 99.66,44.49 99.98,46.19 100.29,47.87 100.60,49.53 100.91,51.17 101.23,52.76 101.54,54.32 101.85,55.81 102.17,57.25 102.48,58.65 102.79,60.03 103.10,61.40 103.42,62.74 103.73,64.06 104.04,65.35 104.36,66.63 104.67,67.88 104.98,69.11 105.29,70.32 105.61,71.50 105.92,72.66 106.23,73.79 106.54,74.90 106.86,75.99 107.17,77.08 107.48,78.17 107.80,79.26 108.11,80.34 108.42,81.41 108.73,82.47 109.05,83.51 109.36,84.54 109.67,85.55 109.99,86.54 110.30,87.50 110.61,88.43 110.92,89.33 111.24,90.20 111.55,91.03 111.86,91.81 112.18,92.56 112.49,93.26 112.80,93.91 113.11,94.53 113.43,95.13 113.74,95.71 114.05,96.29 114.37,96.85 114.68,97.40 114.99,97.94 115.30,98.46 115.62,98.97 115.93,99.47 116.24,99.96 116.56,100.44 116.87,100.90 117.18,101.36 117.49,101.80 117.81,102.23 118.12,102.65 118.43,103.05 118.75,103.45 119.06,103.84 119.37,104.21 119.68,104.58 120.00,104.93 120.31,105.28 120.62,105.61 120.93,105.94 121.25,106.25 121.56,106.56 121.87,106.85 122.19,107.14 122.50,107.42 122.81,107.70 123.12,107.98 123.44,108.25 123.75,108.53 124.06,108.80 124.38,109.06 124.69,109.33 125.00,109.59 125.31,109.84 125.63,110.09 125.94,110.34 126.25,110.59 126.57,110.83 126.88,111.07 127.19,111.31 127.50,111.54 127.82,111.77 128.13,111.99 128.44,112.21 128.76,112.43 129.07,112.64 129.38,112.85 129.69,113.05 130.01,113.25 130.32,113.45 130.63,113.64 130.95,113.83 131.26,114.01 131.57,114.18 131.88,114.36 132.20,114.52 132.51,114.69 132.82,114.85 133.14,115.00 133.45,115.15 133.76,115.29 134.07,115.43 134.39,115.56 134.70,115.69 135.01,115.81 135.32,115.93 135.64,116.04 135.95,116.14 136.26,116.24 136.58,116.34 136.89,116.43 137.20,116.53 137.51,116.62 137.83,116.71 138.14,116.81 138.45,116.90 138.77,116.99 139.08,117.08 139.39,117.17 139.70,117.25 140.02,117.34 140.33,117.43 140.64,117.51 140.96,117.60 141.27,117.68 141.58,117.76 141.89,117.84 142.21,117.92 142.52,118.00 142.83,118.08 143.15,118.16 143.46,118.24 143.77,118.31 144.08,118.39 144.40,118.46 144.71,118.53 145.02,118.60 145.34,118.67 145.65,118.74 145.96,118.81 146.27,118.88 146.59,118.94 146.90,119.01 147.21,119.07 147.53,119.13 147.84,119.19 148.15,119.25 148.46,119.31 148.78,119.37 149.09,119.43 149.40,119.48 149.71,119.53 150.03,119.59 150.34,119.64 150.65,119.69 150.97,119.74 151.28,119.78 151.59,119.83 151.90,119.88 152.22,119.92 152.53,119.96 152.84,120.00 153.16,120.04 153.47,120.08 153.78,120.12 154.09,120.15 154.41,120.19 154.72,120.22 155.03,120.25 155.35,120.28 155.66,120.31 155.97,120.33 156.28,120.36 156.60,120.38 156.91,120.41 157.22,120.43 157.54,120.45 157.85,120.46 158.16,120.48 158.47,120.50 158.79,120.51 159.10,120.52 159.41,120.54 159.73,120.55 160.04,120.57 160.35,120.58 160.66,120.59 160.98,120.61 161.29,120.62 161.60,120.63 161.92,120.65 162.23,120.66 162.54,120.67 162.85,120.68 163.17,120.70 163.48,120.71 163.79,120.72 164.10,120.73 164.42,120.75 164.73,120.76 165.04,120.77 165.36,120.78 165.67,120.79 165.98,120.81 166.29,120.82 166.61,120.83 166.92,120.84 167.23,120.85 167.55,120.86 167.86,120.87 168.17,120.88 168.48,120.89 168.80,120.91 169.11,120.92 169.42,120.93 169.74,120.94 170.05,120.95 170.36,120.96 170.67,120.97 170.99,120.98 171.30,120.98 171.61,120.99 171.93,121.00 172.24,121.01 172.55,121.02 172.86,121.03 173.18,121.04 173.49,121.05 173.80,121.06 174.12,121.06 174.43,121.07 174.74,121.08 175.05,121.09 175.37,121.10 175.68,121.10 175.99,121.11 176.31,121.12 176.62,121.13 176.93,121.13 177.24,121.14 177.56,121.15 177.87,121.15 178.18,121.16 178.49,121.17 178.81,121.17 179.12,121.18 179.43,121.18 179.75,121.19 180.06,121.20 180.37,121.20 180.68,121.20 181.00,121.20 181.31,121.20 181.62,121.20 181.94,121.20 182.25,121.20 182.56,121.20 182.87,121.20 183.19,121.20 183.50,121.20" fill="none" stroke="#208f20" stroke-width="1.0" stroke-linejoin="round"/>
<polyline points="27.40,121.27 27.71,121.26 28.03,121.26 28.34,121.26 28.65,121.26 28.96,121.26 29.28,121.26 29.59,121.25 29.90,121.25 30.22,121.25 30.53,121.25 30.84,121.24 31.15,121.24 31.47,121.24 31.78,121.24 32.09,121.24 32.41,121.23 32.72,121.23 33.03,121.23 33.34,121.23 33.66,121.22 33.97,121.22 34.28,121.22 34.59,121.22 34.91,121.21 35.22,121.21 35.53,121.21 35.85,121.20 36.16,121.20 36.47,121.20 36.78,121.20 37.10,121.19 37.41,121.19 37.72,121.19 38.04,121.18 38.35,121.18 38.66,121.18 38.97,121.17 39.29,121.17 39.60,121.17 39.91,121.16 40.23,121.16 40.54,121.16 40.85,121.15 41.16,121.15 41.48,121.14 41.79,121.14 42.10,121.14 42.42,121.13 42.73,121.13 43.04,121.12 43.35,121.12 43.67,121.12 43.98,121.11 44.29,121.11 44.61,121.10 44.92,121.10 45.23,121.09 45.54,121.09 45.86,121.08 46.17,121.07 46.48,121.06 46.80,121.04 47.11,121.02 47.42,121.01 47.73,120.99 48.05,120.96 48.36,120.94 48.67,120.92 48.98,120.89 49.30,120.86 49.61,120.83 49.92,120.80 50.24,120.76 50.55,120.73 50.86,120.69 51.17,120.65 51.49,120.61 51.80,120.57 52.11,120.53 52.43,120.48 52.74,120.44 53.05,120.39 53.36,120.34 53.68,120.29 53.99,120.24 54.30,120.19 54.62,120.13 54.93,120.08 55.24,120.02 55.55,119.96 55.87,119.90 56.18,119.84 56.49,119.78 56.81,119.72 57.12,119.65 57.43,119.59 57.74,119.52 58.06,119.46 58.37,119.39 58.68,119.32 59.00,119.25 59.31,119.18 59.62,119.10 59.93,119.03 60.25,118.96 60.56,118.88 60.87,118.80 61.19,118.71 61.50,118.62 61.81,118.51 62.12,118.40 62.44,118.28 62.75,118.15 63.06,118.01 63.37,117.87 63.69,117.72 64.00,117.56 64.31,117.40 64.63,117.23 64.94,117.05 65.25,116.87 65.56,116.68 65.88,116.48 66.19,116.28 66.50,116.07 66.82,115.85 67.13,115.63 67.44,115.41 67.75,115.17 68.07,114.94 68.38,114.69 68.69,114.45 69.01,114.19 69.32,113.94 69.63,113.67 69.94,113.41 70.26,113.14 70.57,112.86 70.88,112.58 71.20,112.29 71.51,112.00 71.82,111.68 72.13,111.35 72.45,111.00 72.76,110.63 73.07,110.24 73.39,109.84 73.70,109.42 74.01,108.98 74.32,108.52 74.64,108.05 74.95,107.56 75.26,107.05 75.58,106.53 75.89,105.98 76.20,105.42 76.51,104.84 76.83,104.25 77.14,103.64 77.45,103.00 77.76,102.36 78.08,101.69 78.39,101.01 78.70,100.31 79.02,99.59 79.33,98.85 79.64,98.03 79.95,97.13 80.27,96.16 80.58,95.12 80.89,94.02 81.21,92.86 81.52,91.65 81.83,90.39 82.14,89.10 82.46,87.77 82.77,86.41 83.08,85.00 83.40,83.52 83.71,81.96 84.02,80.32 84.33,78.62 84.65,76.85 84.96,75.02 85.27,73.15 85.59,71.22 85.90,69.26 86.21,67.25 86.52,65.22 86.84,63.16 87.15,61.08 87.46,58.98 87.78,56.77 88.09,54.43 88.40,51.99 88.71,49.50 89.03,47.00 89.34,44.54 89.65,42.16 89.97,39.89 90.28,37.54 90.59,35.12 90.90,32.76 91.22,30.57 91.53,28.67 91.84,27.16 92.15,26.04 92.47,25.03 92.78,24.13 93.09,23.34 93.41,22.67 93.72,22.13 94.03,21.73 94.34,21.38 94.66,21.06 94.97,20.77 95.28,20.54 95.60,20.38 95.91,20.30 96.22,20.32 96.53,20.44 96.85,20.63 97.16,20.89 97.47,21.20 97.79,21.55 98.10,21.92 98.41,22.33 98.72,22.89 99.04,23.60 99.35,24.43 99.66,25.44 99.98,26.72 100.29,28.20 100.60,29.80 100.91,31.43 101.23,33.02 101.54,34.54 101.85,36.10 102.17,37.69 102.48,39.31 102.79,40.95 103.10,42.60 103.42,44.25 103.73,45.91 104.04,47.55 104.36,49.17 104.67,50.77 104.98,52.34 105.29,53.86 105.61,55.33 105.92,56.75 106.23,58.13 106.54,59.48 106.86,60.81 107.17,62.13 107.48,63.42 107.80,64.70 108.11,65.95 108.42,67.18 108.73,68.39 109.05,69.58 109.36,70.74 109.67,71.89 109.99,73.01 110.30,74.11 110.61,75.18 110.92,76.24 111.24,77.30 111.55,78.36 111.86,79.41 112.18,80.47 112.49,81.51 112.80,82.54 113.11,83.56 113.43,84.56 113.74,85.54 114.05,86.50 114.37,87.43 114.68,88.34 114.99,89.22 115.30,90.07 115.62,90.88 115.93,91.66 116.24,92.40 116.56,93.09 116.87,93.74 117.18,94.34 117.49,94.93 117.81,95.51 118.12,96.07 118.43,96.62 118.75,97.16 119.06,97.69 119.37,98.20 119.68,98.71 120.00,99.20 120.31,99.68 120.62,100.15 120.93,100.61 121.25,101.06 121.56,101.50 121.87,101.93 122.19,102.34 122.50,102.75 122.81,103.14 123.12,103.53 123.44,103.90 123.75,104.26 124.06,104.62 124.38,104.96 124.69,105.30 125.00,105.62 125.31,105.94 125.63,106.24 125.94,106.54 126.25,106.83 126.57,107.11 126.88,107.38 127.19,107.66 127.50,107.93 127.82,108.20 128.13,108.46 128.44,108.73 128.76,108.99 129.07,109.24 129.38,109.50 129.69,109.75 130.01,110.00 130.32,110.24 130.63,110.48 130.95,110.72 131.26,110.95 131.57,111.19 131.88,111.41 132.20,111.64 132.51,111.86 132.82,112.07 133.14,112.29 133.45,112.50 133.76,112.70 134.07,112.90 134.39,113.10 134.70,113.29 135.01,113.48 135.32,113.67 135.64,113.85 135.95,114.03 136.26,114.20 136.58,114.37 136.89,114.53 137.20,114.69 137.51,114.84 137.83,114.99 138.14,115.13 138.45,115.27 138.77,115.41 139.08,115.54 139.39,115.66 139.70,115.78 140.02,115.90 140.33,116.01 140.64,116.11 140.96,116.21 141.27,116.30 141.58,116.40 141.89,116.49 142.21,116.58 142.52,116.67 142.83,116.76 143.15,116.85 143.46,116.94 143.77,117.03 144.08,117.11 144.40,117.20 144.71,117.29 145.02,117.37 145.34,117.45 145.65,117.54 145.96,117.62 146.27,117.70 146.59,117.78 146.90,117.86 147.21,117.94 147.53,118.01 147.84,118.09 148.15,118.16 148.46,118.24 148.78,118.31 149.09,118.38 149.40,118.46 149.71,118.53 150.03,118.60 150.34,118.66 150.65,118.73 150.97,118.80 151.28,118.86 151.59,118.93 151.90,118.99 152.22,119.05 152.53,119.11 152.84,119.17 153.16,119.23 153.47,119.29 153.78,119.35 154.09,119.40 154.41,119.46 154.72,119.51 155.03,119.56 155.35,119.61 155.66,119.66 155.97,119.71 156.28,119.76 156.60,119.80 156.91,119.85 157.22,119.89 157.54,119.93 157.85,119.97 158.16,120.01 158.47,120.05 158.79,120.09 159.10,120.12 159.41,120.16 159.73,120.19 160.04,120.22 160.35,120.25 160.66,120.28 160.98,120.31 161.29,120.33 161.60,120.36 161.92,120.38 162.23,120.40 162.54,120.42 162.85,120.44 163.17,120.46 163.48,120.48 163.79,120.49 164.10,120.51 164.42,120.52 164.73,120.53 165.04,120.55 165.36,120.56 165.67,120.57 165.98,120.59 166.29,120.60 166.61,120.61 166.92,120.63 167.23,120.64 167.55,120.65 167.86,120.66 168.17,120.68 168.48,120.69 168.80,120.70 169.11,120.71 169.42,120.73 169.74,120.74 170.05,120.75 170.36,120.76 170.67,120.77 170.99,120.78 171.30,120.80 171.61,120.81 171.93,120.82 172.24,120.83 172.55,120.84 172.86,120.85 173.18,120.86 173.49,120.87 173.80,120.88 174.12,120.89 174.43,120.90 174.74,120.91 175.05,120.92 175.37,120.93 175.68,120.94 175.99,120.95 176.31,120.96 176.62,120.97 176.93,120.98 177.24,120.99 177.56,121.00 177.87,121.01 178.18,121.02 178.49,121.03 178.81,121.03 179.12,121.04 179.43,121.05 179.75,121.06 180.06,121.07 180.37,121.08 180.68,121.08 181.00,121.09 181.31,121.10 181.62,121.11 181.94,121.11 182.25,121.12 182.56,121.13 182.87,121.13 183.19,121.14 183.50,121.15" fill="none" stroke="#202090" stroke-width="1.0" stroke-linejoin="round"/>
<polyline points="27.40,232.66 27.71,232.60 28.03,232.54 28.34,232.48 28.65,232.41 28.96,232.34 29.28,232.27 29.59,232.19 29.90,232.11 30.22,232.03 30.53,231.95 30.84,231.87 31.15,231.78 31.47,231.69 31.78,231.60 32.09,231.51 32.41,231.41 32.72,231.31 33.03,231.22 33.34,231.12 33.66,231.02 33.97,230.91 34.28,230.79 34.59,230.66 34.91,230.51 35.22,230.34 35.53,230.16 35.85,229.96 36.16,229.75 36.47,229.53 36.78,229.29 37.10,229.04 37.41,228.78 37.72,228.51 38.04,228.23 38.35,227.94 38.66,227.64 38.97,227.33 39.29,227.02 39.60,226.69 39.91,226.36 40.23,226.02 40.54,225.67 40.85,225.32 41.16,224.97 41.48,224.61 41.79,224.23 42.10,223.83 42.42,223.39 42.73,222.93 43.04,222.45 43.35,221.94 43.67,221.40 43.98,220.85 44.29,220.27 44.61,219.68 44.92,219.06 45.23,218.44 45.54,217.80 45.86,217.14 46.17,216.48 46.48,215.80 46.80,215.10 47.11,214.37 47.42,213.61 47.73,212.83 48.05,212.01 48.36,211.16 48.67,210.29 48.98,209.39 49.30,208.47 49.61,207.52 49.92,206.56 50.24,205.57 50.55,204.57 50.86,203.54 51.17,202.49 51.49,201.38 51.80,200.20 52.11,198.98 52.43,197.72 52.74,196.44 53.05,195.13 53.36,193.83 53.68,192.53 53.99,191.25 54.30,190.00 54.62,188.76 54.93,187.51 55.24,186.27 55.55,185.03 55.87,183.78 56.18,182.53 56.49,181.28 56.81,180.03 57.12,178.77 57.43,177.51 57.74,176.22 58.06,174.90 58.37,173.57 58.68,172.22 59.00,170.89 59.31,169.57 59.62,168.29 59.93,167.05 60.25,165.87 60.56,164.75 60.87,163.71 61.19,162.73 61.50,161.78 61.81,160.84 62.12,159.91 62.44,158.97 62.75,158.03 63.06,157.09 63.37,156.17 63.69,155.24 64.00,154.32 64.31,153.40 64.63,152.49 64.94,151.57 65.25,150.65 65.56,149.73 65.88,148.80 66.19,147.86 66.50,146.91 66.82,145.94 67.13,144.97 67.44,144.00 67.75,143.03 68.07,142.06 68.38,141.10 68.69,140.16 69.01,139.24 69.32,138.34 69.63,137.46 69.94,136.59 70.26,135.68 70.57,134.80 70.88,134.01 71.20,133.38 71.51,132.93 71.82,132.51 72.13,132.15 72.45,131.88 72.76,131.71 73.07,131.94 73.39,132.26 73.70,132.63 74.01,133.04 74.32,133.49 74.64,133.97 74.95,134.49 75.26,135.06 75.58,135.69 75.89,136.38 76.20,137.12 76.51,137.91 76.83,138.75 77.14,139.64 77.45,140.59 77.76,141.66 78.08,142.83 78.39,144.07 78.70,145.37 79.02,146.71 79.33,148.05 79.64,149.43 79.95,150.87 80.27,152.36 80.58,153.90 80.89,155.47 81.21,157.06 81.52,158.69 81.83,160.46 82.14,162.27 82.46,163.96 82.77,165.43 83.08,166.78 83.40,168.05 83.71,169.26 84.02,170.41 84.33,171.54 84.65,172.65 84.96,173.75 85.27,174.87 85.59,176.03 85.90,177.23 86.21,178.50 86.52,179.82 86.84,181.19 87.15,182.59 87.46,184.00 87.78,185.41 88.09,186.82 88.40,188.20 88.71,189.54 89.03,190.83 89.34,192.07 89.65,193.31 89.97,194.53 90.28,195.75 90.59,196.94 90.90,198.11 91.22,199.25 91.53,200.37 91.84,201.45 92.15,202.49 92.47,203.49 92.78,204.44 93.09,205.38 93.41,206.32 93.72,207.24 94.03,208.16 94.34,209.06 94.66,209.95 94.97,210.81 95.28,211.65 95.60,212.46 95.91,213.24 96.22,213.99 96.53,214.70 96.85,215.37 97.16,215.99 97.47,216.57 97.79,217.10 98.10,217.59 98.41,218.05 98.72,218.51 99.04,218.95 99.35,219.38 99.66,219.80 99.98,220.20 100.29,220.60 100.60,220.98 100.91,221.35 101.23,221.71 101.54,222.06 101.85,222.40 102.17,222.73 102.48,223.05 102.79,223.36 103.10,223.66 103.42,223.95 103.73,224.23 104.04,224.50 104.36,224.77 104.67,225.02 104.98,225.27 105.29,225.51 105.61,225.75 105.92,225.97 106.23,226.19 106.54,226.40 106.86,226.61 107.17,226.82 107.48,227.02 107.80,227.21 108.11,227.40 108.42,227.59 108.73,227.77 109.05,227.95 109.36,228.13 109.67,228.30 109.99,228.46 110.30,228.62 110.61,228.78 110.92,228.93 111.24,229.08 111.55,229.22 111.86,229.36 112.18,229.49 112.49,229.62 112.80,229.74 113.11,229.86 113.43,229.97 113.74,230.08 114.05,230.18 114.37,230.28 114.68,230.38 114.99,230.47 115.30,230.57 115.62,230.67 115.93,230.76 116.24,230.86 116.56,230.95 116.87,231.05 117.18,231.14 117.49,231.23 117.81,231.33 118.12,231.42 118.43,231.51 118.75,231.60 119.06,231.68 119.37,231.77 119.68,231.85 120.00,231.94 120.31,232.02 120.62,232.09 120.93,232.17 121.25,232.25 121.56,232.32 121.87,232.39 122.19,232.45 122.50,232.52 122.81,232.58 123.12,232.64 123.44,232.70 123.75,232.75 124.06,232.80 124.38,232.84 124.69,232.89 125.00,232.93 125.31,232.96 125.63,232.99 125.94,233.02 126.25,233.04 126.57,233.06 126.88,233.08 127.19,233.09 127.50,233.10 127.82,233.10 128.13,233.10 128.44,233.10 128.76,233.10 129.07,233.10 129.38,233.10 129.69,233.10 130.01,233.10 130.32,233.10 130.63,233.10 130.95,233.10 131.26,233.10 131.57,233.10 131.88,233.10 132.20,233.10 132.51,233.10 132.82,233.10 133.14,233.10 133.45,233.10 133.76,233.10 134.07,233.10 134.39,233.10 134.70,233.10 135.01,233.10 135.32,233.10 135.64,233.10 135.95,233.10 136.26,233.10 136.58,233.10 136.89,233.10 137.20,233.10 137.51,233.10 137.83,233.10 138.14,233.10 138.45,233.10 138.77,233.10 139.08,233.10 139.39,233.10 139.70,233.10 140.02,233.10 140.33,233.10 140.64,233.10 140.96,233.10 141.27,233.10 141.58,233.10 141.89,233.10 142.21,233.10 142.52,233.10 142.83,233.10 143.15,233.10 143.46,233.10 143.77,233.10 144.08,233.10 144.40,233.10 144.71,233.10 145.02,233.10 145.34,233.10 145.65,233.10 145.96,233.10 146.27,233.10 146.59,233.10 146.90,233.10 147.21,233.10 147.53,233.10 147.84,233.10 148.15,233.10 148.46,233.10 148.78,233.10 149.09,233.10 149.40,233.10 149.71,233.10 150.03,233.10 150.34,233.10 150.65,233.10 150.97,233.10 151.28,233.10 151.59,233.10 151.90,233.10 152.22,233.10 152.53,233.10 152.84,233.10 153.16,233.10 153.47,233.10 153.78,233.10 154.09,233.10 154.41,233.10 154.72,233.10 155.03,233.10 155.35,233.10 155.66,233.10 155.97,233.10 156.28,233.10 156.60,233.10 156.91,233.10 157.22,233.10 157.54,233.10 157.85,233.10 158.16,233.10 158.47,233.10 158.79,233.10 159.10,233.10 159.41,233.10 159.73,233.10 160.04,233.10 160.35,233.10 160.66,233.10 160.98,233.10 161.29,233.10 161.60,233.10 161.92,233.10 162.23,233.10 162.54,233.10 162.85,233.10 163.17,233.10 163.48,233.10 163.79,233.10 164.10,233.10 164.42,233.10 164.73,233.10 165.04,233.10 165.36,233.10 165.67,233.10 165.98,233.10 166.29,233.10 166.61,233.10 166.92,233.10 167.23,233.10 167.55,233.10 167.86,233.10 168.17,233.10 168.48,233.10 168.80,233.10 169.11,233.10 169.42,233.10 169.74,233.10 170.05,233.10 170.36,233.10 170.67,233.10 170.99,233.10 171.30,233.10 171.61,233.10 171.93,233.10 172.24,233.10 172.55,233.10 172.86,233.10 173.18,233.10 173.49,233.10 173.80,233.10 174.12,233.10 174.43,233.10 174.74,233.10 175.05,233.10 175.37,233.10 175.68,233.10 175.99,233.10 176.31,233.10 176.62,233.10 176.93,233.10 177.24,233.10 177.56,233.10 177.87,233.10 178.18,233.10 178.49,233.10 178.81,233.10 179.12,233.10 179.43,233.10 179.75,233.10 180.06,233.10 180.37,233.10 180.68,233.10 181.00,233.10 181.31,233.10 181.62,233.10 181.94,233.10 182.25,233.10 182.56,233.10 182.87,233.10 183.19,233.10 183.50,233.10" fill="none" stroke="#ff3030" stroke-width="1.3" stroke-linejoin="round" stroke-dasharray="3,1.2,1,1.2"/>
<polyline points="27.40,233.10 27.71,233.10 28.03,233.10 28.34,233.10 28.65,233.10 28.96,233.10 29.28,233.10 29.59,233.10 29.90,233.10 30.22,233.10 30.53,233.10 30.84,233.10 31.15,233.09 31.47,233.09 31.78,233.07 32.09,233.05 32.41,233.03 32.72,233.00 33.03,232.97 33.34,232.93 33.66,232.90 33.97,232.85 34.28,232.80 34.59,232.75 34.91,232.70 35.22,232.64 35.53,232.58 35.85,232.51 36.16,232.44 36.47,232.37 36.78,232.30 37.10,232.22 37.41,232.14 37.72,232.06 38.04,231.97 38.35,231.89 38.66,231.80 38.97,231.70 39.29,231.61 39.60,231.51 39.91,231.41 40.23,231.31 40.54,231.21 40.85,231.11 41.16,231.00 41.48,230.89 41.79,230.76 42.10,230.62 42.42,230.46 42.73,230.28 43.04,230.08 43.35,229.87 43.67,229.65 43.98,229.41 44.29,229.15 44.61,228.89 44.92,228.61 45.23,228.32 45.54,228.02 45.86,227.71 46.17,227.39 46.48,227.06 46.80,226.73 47.11,226.38 47.42,226.03 47.73,225.67 48.05,225.30 48.36,224.93 48.67,224.56 48.98,224.16 49.30,223.73 49.61,223.27 49.92,222.79 50.24,222.27 50.55,221.73 50.86,221.16 51.17,220.58 51.49,219.97 51.80,219.34 52.11,218.69 52.43,218.03 52.74,217.35 53.05,216.66 53.36,215.96 53.68,215.24 53.99,214.49 54.30,213.70 54.62,212.88 54.93,212.03 55.24,211.15 55.55,210.24 55.87,209.30 56.18,208.34 56.49,207.35 56.81,206.34 57.12,205.31 57.43,204.25 57.74,203.18 58.06,202.07 58.37,200.88 58.68,199.63 59.00,198.34 59.31,197.01 59.62,195.66 59.93,194.30 60.25,192.94 60.56,191.60 60.87,190.29 61.19,189.00 61.50,187.70 61.81,186.41 62.12,185.11 62.44,183.81 62.75,182.51 63.06,181.21 63.37,179.90 63.69,178.59 64.00,177.28 64.31,175.93 64.63,174.55 64.94,173.15 65.25,171.76 65.56,170.37 65.88,169.01 66.19,167.70 66.50,166.43 66.82,165.24 67.13,164.12 67.44,163.07 67.75,162.07 68.07,161.10 68.38,160.13 68.69,159.15 69.01,158.17 69.32,157.20 69.63,156.23 69.94,155.27 70.26,154.31 70.57,153.35 70.88,152.40 71.20,151.44 71.51,150.48 71.82,149.52 72.13,148.55 72.45,147.57 72.76,146.57 73.07,145.57 73.39,144.55 73.70,143.54 74.01,142.53 74.32,141.53 74.64,140.54 74.95,139.57 75.26,138.62 75.58,137.70 75.89,136.80 76.20,135.86 76.51,134.93 76.83,134.09 77.14,133.42 77.45,132.94 77.76,132.50 78.08,132.14 78.39,131.86 78.70,131.70 79.02,131.99 79.33,132.33 79.64,132.72 79.95,133.16 80.27,133.63 80.58,134.14 80.89,134.68 81.21,135.29 81.52,135.97 81.83,136.70 82.14,137.49 82.46,138.34 82.77,139.23 83.08,140.17 83.40,141.22 83.71,142.39 84.02,143.65 84.33,144.98 84.65,146.34 84.96,147.72 85.27,149.13 85.59,150.61 85.90,152.14 86.21,153.72 86.52,155.33 86.84,156.97 87.15,158.65 87.46,160.47 87.78,162.33 88.09,164.07 88.40,165.57 88.71,166.95 89.03,168.25 89.34,169.48 89.65,170.67 89.97,171.82 90.28,172.96 90.59,174.10 90.90,175.27 91.22,176.48 91.53,177.74 91.84,179.07 92.15,180.46 92.47,181.89 92.78,183.34 93.09,184.79 93.41,186.25 93.72,187.68 94.03,189.08 94.34,190.43 94.66,191.72 94.97,193.00 95.28,194.26 95.60,195.52 95.91,196.75 96.22,197.96 96.53,199.14 96.85,200.30 97.16,201.41 97.47,202.49 97.79,203.52 98.10,204.50 98.41,205.47 98.72,206.43 99.04,207.38 99.35,208.32 99.66,209.25 99.98,210.16 100.29,211.04 100.60,211.90 100.91,212.73 101.23,213.52 101.54,214.27 101.85,214.99 102.17,215.66 102.48,216.28 102.79,216.86 103.10,217.37 103.42,217.86 103.73,218.33 104.04,218.80 104.36,219.24 104.67,219.68 104.98,220.10 105.29,220.51 105.61,220.90 105.92,221.29 106.23,221.66 106.54,222.02 106.86,222.38 107.17,222.72 107.48,223.04 107.80,223.36 108.11,223.67 108.42,223.97 108.73,224.26 109.05,224.54 109.36,224.81 109.67,225.08 109.99,225.33 110.30,225.58 110.61,225.81 110.92,226.04 111.24,226.27 111.55,226.49 111.86,226.70 112.18,226.91 112.49,227.11 112.80,227.31 113.11,227.51 113.43,227.70 113.74,227.88 114.05,228.06 114.37,228.24 114.68,228.41 114.99,228.58 115.30,228.74 115.62,228.90 115.93,229.05 116.24,229.20 116.56,229.34 116.87,229.48 117.18,229.61 117.49,229.74 117.81,229.86 118.12,229.98 118.43,230.09 118.75,230.19 119.06,230.29 119.37,230.39 119.68,230.49 120.00,230.59 120.31,230.69 120.62,230.79 120.93,230.89 121.25,230.99 121.56,231.08 121.87,231.18 122.19,231.27 122.50,231.37 122.81,231.46 123.12,231.55 123.44,231.64 123.75,231.73 124.06,231.82 124.38,231.91 124.69,231.99 125.00,232.07 125.31,232.15 125.63,232.23 125.94,232.30 126.25,232.38 126.57,232.45 126.88,232.51 127.19,232.58 127.50,232.64 127.82,232.69 128.13,232.75 128.44,232.80 128.76,232.85 129.07,232.89 129.38,232.93 129.69,232.97 130.01,233.00 130.32,233.03 130.63,233.05 130.95,233.07 131.26,233.08 131.57,233.09 131.88,233.10 132.20,233.10 132.51,233.10 132.82,233.10 133.14,233.10 133.45,233.10 133.76,233.10 134.07,233.10 134.39,233.10 134.70,233.10 135.01,233.10 135.32,233.10 135.64,233.10 135.95,233.10 136.26,233.10 136.58,233.10 136.89,233.10 137.20,233.10 137.51,233.10 137.83,233.10 138.14,233.10 138.45,233.10 138.77,233.10 139.08,233.10 139.39,233.10 139.70,233.10 140.02,233.10 140.33,233.10 140.64,233.10 140.96,233.10 141.27,233.10 141.58,233.10 141.89,233.10 142.21,233.10 142.52,233.10 142.83,233.10 143.15,233.10 143.46,233.10 143.77,233.10 144.08,233.10 144.40,233.10 144.71,233.10 145.02,233.10 145.34,233.10 145.65,233.10 145.96,233.10 146.27,233.10 146.59,233.10 146.90,233.10 147.21,233.10 147.53,233.10 147.84,233.10 148.15,233.10 148.46,233.10 148.78,233.10 149.09,233.10 149.40,233.10 149.71,233.10 150.03,233.10 150.34,233.10 150.65,233.10 150.97,233.10 151.28,233.10 151.59,233.10 151.90,233.10 152.22,233.10 152.53,233.10 152.84,233.10 153.16,233.10 153.47,233.10 153.78,233.10 154.09,233.10 154.41,233.10 154.72,233.10 155.03,233.10 155.35,233.10 155.66,233.10 155.97,233.10 156.28,233.10 156.60,233.10 156.91,233.10 157.22,233.10 157.54,233.10 157.85,233.10 158.16,233.10 158.47,233.10 158.79,233.10 159.10,233.10 159.41,233.10 159.73,233.10 160.04,233.10 160.35,233.10 160.66,233.10 160.98,233.10 161.29,233.10 161.60,233.10 161.92,233.10 162.23,233.10 162.54,233.10 162.85,233.10 163.17,233.10 163.48,233.10 163.79,233.10 164.10,233.10 164.42,233.10 164.73,233.10 165.04,233.10 165.36,233.10 165.67,233.10 165.98,233.10 166.29,233.10 166.61,233.10 166.92,233.10 167.23,233.10 167.55,233.10 167.86,233.10 168.17,233.10 168.48,233.10 168.80,233.10 169.11,233.10 169.42,233.10 169.74,233.10 170.05,233.10 170.36,233.10 170.67,233.10 170.99,233.10 171.30,233.10 171.61,233.10 171.93,233.10 172.24,233.10 172.55,233.10 172.86,233.10 173.18,233.10 173.49,233.10 173.80,233.10 174.12,233.10 174.43,233.10 174.74,233.10 175.05,233.10 175.37,233.10 175.68,233.10 175.99,233.10 176.31,233.10 176.62,233.10 176.93,233.10 177.24,233.10 177.56,233.10 177.87,233.10 178.18,233.10 178.49,233.10 178.81,233.10 179.12,233.10 179.43,233.10 179.75,233.10 180.06,233.10 180.37,233.10 180.68,233.10 181.00,233.10 181.31,233.10 181.62,233.10 181.94,233.10 182.25,233.10 182.56,233.10 182.87,233.10 183.19,233.10 183.50,233.10" fill="none" stroke="#3030ff" stroke-width="1.3" stroke-linejoin="round" stroke-dasharray="3,1.2,1,1.2"/>
<polyline points="27.40,233.10 27.71,233.10 28.03,233.10 28.34,233.10 28.65,233.10 28.96,233.10 29.28,233.10 29.59,233.10 29.90,233.10 30.22,233.10 30.53,233.10 30.84,233.10 31.15,233.10 31.47,233.10 31.78,233.10 32.09,233.10 32.41,233.10 32.72,233.10 33.03,233.10 33.34,233.10 33.66,233.10 33.97,233.10 34.28,233.10 34.59,233.10 34.91,233.10 35.22,233.10 35.53,233.10 35.85,233.10 36.16,233.10 36.47,233.10 36.78,233.10 37.10,233.10 37.41,233.10 37.72,233.10 38.04,233.09 38.35,233.08 38.66,233.06 38.97,233.04 39.29,233.02 39.60,232.99 39.91,232.95 40.23,232.91 40.54,232.87 40.85,232.82 41.16,232.76 41.48,232.71 41.79,232.65 42.10,232.58 42.42,232.52 42.73,232.44 43.04,232.37 43.35,232.29 43.67,232.21 43.98,232.13 44.29,232.04 44.61,231.95 44.92,231.86 45.23,231.76 45.54,231.67 45.86,231.57 46.17,231.47 46.48,231.36 46.80,231.26 47.11,231.15 47.42,231.04 47.73,230.93 48.05,230.80 48.36,230.65 48.67,230.49 48.98,230.30 49.30,230.10 49.61,229.88 49.92,229.65 50.24,229.40 50.55,229.13 50.86,228.86 51.17,228.57 51.49,228.26 51.80,227.95 52.11,227.62 52.43,227.28 52.74,226.94 53.05,226.58 53.36,226.22 53.68,225.85 53.99,225.47 54.30,225.08 54.62,224.69 54.93,224.29 55.24,223.85 55.55,223.38 55.87,222.88 56.18,222.35 56.49,221.78 56.81,221.20 57.12,220.58 57.43,219.95 57.74,219.29 58.06,218.61 58.37,217.92 58.68,217.21 59.00,216.49 59.31,215.75 59.62,214.99 59.93,214.19 60.25,213.36 60.56,212.49 60.87,211.58 61.19,210.65 61.50,209.68 61.81,208.69 62.12,207.66 62.44,206.62 62.75,205.54 63.06,204.45 63.37,203.33 63.69,202.18 64.00,200.94 64.31,199.64 64.63,198.29 64.94,196.91 65.25,195.50 65.56,194.08 65.88,192.66 66.19,191.27 66.50,189.91 66.82,188.56 67.13,187.21 67.44,185.86 67.75,184.50 68.07,183.15 68.38,181.79 68.69,180.43 69.01,179.06 69.32,177.69 69.63,176.30 69.94,174.86 70.26,173.41 70.57,171.95 70.88,170.51 71.20,169.09 71.51,167.71 71.82,166.39 72.13,165.15 72.45,163.99 72.76,162.91 73.07,161.87 73.39,160.86 73.70,159.85 74.01,158.82 74.32,157.80 74.64,156.78 74.95,155.78 75.26,154.78 75.58,153.78 75.89,152.78 76.20,151.78 76.51,150.78 76.83,149.78 77.14,148.77 77.45,147.75 77.76,146.71 78.08,145.66 78.39,144.61 78.70,143.55 79.02,142.50 79.33,141.45 79.64,140.42 79.95,139.41 80.27,138.43 80.58,137.48 80.89,136.53 81.21,135.54 81.52,134.60 81.83,133.78 82.14,133.18 82.46,132.71 82.77,132.29 83.08,131.96 83.40,131.74 83.71,131.88 84.02,132.21 84.33,132.58 84.65,133.00 84.96,133.46 85.27,133.96 85.59,134.49 85.90,135.08 86.21,135.73 86.52,136.44 86.84,137.22 87.15,138.04 87.46,138.91 87.78,139.83 88.09,140.85 88.40,141.98 88.71,143.21 89.03,144.51 89.34,145.87 89.65,147.25 89.97,148.64 90.28,150.09 90.59,151.61 90.90,153.17 91.22,154.77 91.53,156.41 91.84,158.06 92.15,159.83 92.47,161.70 92.78,163.49 93.09,165.07 93.41,166.49 93.72,167.81 94.03,169.06 94.34,170.26 94.66,171.43 94.97,172.57 95.28,173.71 95.60,174.86 95.91,176.06 96.22,177.30 96.53,178.61 96.85,179.98 97.16,181.39 97.47,182.83 97.79,184.29 98.10,185.75 98.41,187.19 98.72,188.60 99.04,189.97 99.35,191.28 99.66,192.56 99.98,193.83 100.29,195.09 100.60,196.33 100.91,197.55 101.23,198.74 101.54,199.90 101.85,201.03 102.17,202.12 102.48,203.17 102.79,204.16 103.10,205.13 103.42,206.10 103.73,207.05 104.04,208.00 104.36,208.93 104.67,209.85 104.98,210.74 105.29,211.61 105.61,212.44 105.92,213.25 106.23,214.02 106.54,214.75 106.86,215.44 107.17,216.08 107.48,216.66 107.80,217.20 108.11,217.69 108.42,218.17 108.73,218.64 109.05,219.09 109.36,219.53 109.67,219.95 109.99,220.37 110.30,220.77 110.61,221.16 110.92,221.54 111.24,221.90 111.55,222.26 111.86,222.60 112.18,222.93 112.49,223.25 112.80,223.57 113.11,223.87 113.43,224.16 113.74,224.45 114.05,224.72 114.37,224.99 114.68,225.24 114.99,225.49 115.30,225.73 115.62,225.97 115.93,226.19 116.24,226.41 116.56,226.63 116.87,226.84 117.18,227.04 117.49,227.24 117.81,227.44 118.12,227.63 118.43,227.82 118.75,228.00 119.06,228.18 119.37,228.35 119.68,228.52 120.00,228.69 120.31,228.85 120.62,229.00 120.93,229.15 121.25,229.29 121.56,229.43 121.87,229.57 122.19,229.70 122.50,229.82 122.81,229.94 123.12,230.05 123.44,230.16 123.75,230.26 124.06,230.36 124.38,230.46 124.69,230.56 125.00,230.66 125.31,230.76 125.63,230.85 125.94,230.95 126.25,231.05 126.57,231.15 126.88,231.24 127.19,231.34 127.50,231.43 127.82,231.52 128.13,231.61 128.44,231.70 128.76,231.79 129.07,231.88 129.38,231.96 129.69,232.04 130.01,232.12 130.32,232.20 130.63,232.28 130.95,232.35 131.26,232.42 131.57,232.49 131.88,232.55 132.20,232.62 132.51,232.68 132.82,232.73 133.14,232.78 133.45,232.83 133.76,232.88 134.07,232.92 134.39,232.96 134.70,232.99 135.01,233.02 135.32,233.04 135.64,233.06 135.95,233.08 136.26,233.09 136.58,233.10 136.89,233.10 137.20,233.10 137.51,233.10 137.83,233.10 138.14,233.10 138.45,233.10 138.77,233.10 139.08,233.10 139.39,233.10 139.70,233.10 140.02,233.10 140.33,233.10 140.64,233.10 140.96,233.10 141.27,233.10 141.58,233.10 141.89,233.10 142.21,233.10 142.52,233.10 142.83,233.10 143.15,233.10 143.46,233.10 143.77,233.10 144.08,233.10 144.40,233.10 144.71,233.10 145.02,233.10 145.34,233.10 145.65,233.10 145.96,233.10 146.27,233.10 146.59,233.10 146.90,233.10 147.21,233.10 147.53,233.10 147.84,233.10 148.15,233.10 148.46,233.10 148.78,233.10 149.09,233.10 149.40,233.10 149.71,233.10 150.03,233.10 150.34,233.10 150.65,233.10 150.97,233.10 151.28,233.10 151.59,233.10 151.90,233.10 152.22,233.10 152.53,233.10 152.84,233.10 153.16,233.10 153.47,233.10 153.78,233.10 154.09,233.10 154.41,233.10 154.72,233.10 155.03,233.10 155.35,233.10 155.66,233.10 155.97,233.10 156.28,233.10 156.60,233.10 156.91,233.10 157.22,233.10 157.54,233.10 157.85,233.10 158.16,233.10 158.47,233.10 158.79,233.10 159.10,233.10 159.41,233.10 159.73,233.10 160.04,233.10 160.35,233.10 160.66,233.10 160.98,233.10 161.29,233.10 161.60,233.10 161.92,233.10 162.23,233.10 162.54,233.10 162.85,233.10 163.17,233.10 163.48,233.10 163.79,233.10 164.10,233.10 164.42,233.10 164.73,233.10 165.04,233.10 165.36,233.10 165.67,233.10 165.98,233.10 166.29,233.10 166.61,233.10 166.92,233.10 167.23,233.10 167.55,233.10 167.86,233.10 168.17,233.10 168.48,233.10 168.80,233.10 169.11,233.10 169.42,233.10 169.74,233.10 170.05,233.10 170.36,233.10 170.67,233.10 170.99,233.10 171.30,233.10 171.61,233.10 171.93,233.10 172.24,233.10 172.55,233.10 172.86,233.10 173.18,233.10 173.49,233.10 173.80,233.10 174.12,233.10 174.43,233.10 174.74,233.10 175.05,233.10 175.37,233.10 175.68,233.10 175.99,233.10 176.31,233.10 176.62,233.10 176.93,233.10 177.24,233.10 177.56,233.10 177.87,233.10 178.18,233.10 178.49,233.10 178.81,233.10 179.12,233.10 179.43,233.10 179.75,233.10 180.06,233.10 180.37,233.10 180.68,233.10 181.00,233.10 181.31,233.10 181.62,233.10 181.94,233.10 182.25,233.10 182.56,233.10 182.87,233.10 183.19,233.10 183.50,233.10" fill="none" stroke="#ff30ff" stroke-width="1.3" stroke-linejoin="round" stroke-dasharray="3,1.2"/>
<polyline points="27.40,233.10 27.71,233.10 28.03,233.10 28.34,233.10 28.65,233.10 28.96,233.10 29.28,233.10 29.59,233.10 29.90,233.10 30.22,233.10 30.53,233.10 30.84,233.10 31.15,233.10 31.47,233.10 31.78,233.10 32.09,233.10 32.41,233.10 32.72,233.10 33.03,233.10 33.34,233.10 33.66,233.10 33.97,233.10 34.28,233.10 34.59,233.10 34.91,233.10 35.22,233.10 35.53,233.10 35.85,233.10 36.16,233.10 36.47,233.10 36.78,233.10 37.10,233.10 37.41,233.10 37.72,233.10 38.04,233.10 38.35,233.10 38.66,233.10 38.97,233.10 39.29,233.10 39.60,233.10 39.91,233.10 40.23,233.10 40.54,233.10 40.85,233.10 41.16,233.10 41.48,233.10 41.79,233.10 42.10,233.10 42.42,233.10 42.73,233.10 43.04,233.10 43.35,233.10 43.67,233.10 43.98,233.10 44.29,233.10 44.61,233.10 44.92,233.10 45.23,233.09 45.54,233.08 45.86,233.07 46.17,233.05 46.48,233.02 46.80,232.99 47.11,232.96 47.42,232.92 47.73,232.87 48.05,232.82 48.36,232.77 48.67,232.71 48.98,232.65 49.30,232.58 49.61,232.52 49.92,232.44 50.24,232.37 50.55,232.29 50.86,232.20 51.17,232.12 51.49,232.03 51.80,231.94 52.11,231.84 52.43,231.74 52.74,231.64 53.05,231.54 53.36,231.44 53.68,231.33 53.99,231.22 54.30,231.11 54.62,231.00 54.93,230.88 55.24,230.74 55.55,230.58 55.87,230.41 56.18,230.21 56.49,229.99 56.81,229.76 57.12,229.52 57.43,229.25 57.74,228.97 58.06,228.68 58.37,228.38 58.68,228.06 59.00,227.73 59.31,227.39 59.62,227.04 59.93,226.67 60.25,226.30 60.56,225.93 60.87,225.54 61.19,225.15 61.50,224.75 61.81,224.34 62.12,223.90 62.44,223.42 62.75,222.91 63.06,222.37 63.37,221.79 63.69,221.19 64.00,220.56 64.31,219.91 64.63,219.24 64.94,218.55 65.25,217.84 65.56,217.11 65.88,216.37 66.19,215.61 66.50,214.83 66.82,214.00 67.13,213.14 67.44,212.24 67.75,211.31 68.07,210.34 68.38,209.35 68.69,208.32 69.01,207.27 69.32,206.18 69.63,205.08 69.94,203.95 70.26,202.80 70.57,201.58 70.88,200.28 71.20,198.92 71.51,197.52 71.82,196.08 72.13,194.64 72.45,193.19 72.76,191.76 73.07,190.36 73.39,188.97 73.70,187.59 74.01,186.21 74.32,184.83 74.64,183.44 74.95,182.05 75.26,180.66 75.58,179.27 75.89,177.87 76.20,176.45 76.51,174.98 76.83,173.50 77.14,172.01 77.45,170.53 77.76,169.08 78.08,167.67 78.39,166.33 78.70,165.06 79.02,163.89 79.33,162.79 79.64,161.73 79.95,160.70 80.27,159.66 80.58,158.61 80.89,157.57 81.21,156.53 81.52,155.50 81.83,154.48 82.14,153.46 82.46,152.44 82.77,151.42 83.08,150.40 83.40,149.37 83.71,148.34 84.02,147.29 84.33,146.22 84.65,145.14 84.96,144.06 85.27,142.98 85.59,141.91 85.90,140.85 86.21,139.81 86.52,138.79 86.84,137.81 87.15,136.84 87.46,135.84 87.78,134.85 88.09,133.98 88.40,133.30 88.71,132.81 89.03,132.37 89.34,132.01 89.65,131.76 89.97,131.84 90.28,132.15 90.59,132.51 90.90,132.91 91.22,133.35 91.53,133.83 91.84,134.34 92.15,134.90 92.47,135.52 92.78,136.20 93.09,136.94 93.41,137.73 93.72,138.57 94.03,139.45 94.34,140.39 94.66,141.45 94.97,142.62 95.28,143.86 95.60,145.17 95.91,146.51 96.22,147.87 96.53,149.25 96.85,150.70 97.16,152.20 97.47,153.75 97.79,155.33 98.10,156.94 98.41,158.58 98.72,160.36 99.04,162.19 99.35,163.90 99.66,165.40 99.98,166.76 100.29,168.05 100.60,169.26 100.91,170.43 101.23,171.57 101.54,172.68 101.85,173.80 102.17,174.94 102.48,176.11 102.79,177.33 103.10,178.61 103.42,179.95 103.73,181.34 104.04,182.75 104.36,184.18 104.67,185.61 104.98,187.02 105.29,188.41 105.61,189.76 105.92,191.05 106.23,192.30 106.54,193.55 106.86,194.79 107.17,196.01 107.48,197.21 107.80,198.38 108.11,199.53 108.42,200.65 108.73,201.73 109.05,202.77 109.36,203.77 109.67,204.72 109.99,205.67 110.30,206.61 110.61,207.55 110.92,208.47 111.24,209.37 111.55,210.26 111.86,211.12 112.18,211.96 112.49,212.77 112.80,213.54 113.11,214.28 113.43,214.98 113.74,215.64 114.05,216.25 114.37,216.82 114.68,217.33 114.99,217.81 115.30,218.27 115.62,218.73 115.93,219.17 116.24,219.60 116.56,220.01 116.87,220.41 117.18,220.81 117.49,221.19 117.81,221.56 118.12,221.91 118.43,222.26 118.75,222.60 119.06,222.92 119.37,223.24 119.68,223.55 120.00,223.84 120.31,224.13 120.62,224.41 120.93,224.68 121.25,224.94 121.56,225.19 121.87,225.44 122.19,225.68 122.50,225.91 122.81,226.13 123.12,226.35 123.44,226.56 123.75,226.77 124.06,226.97 124.38,227.17 124.69,227.36 125.00,227.55 125.31,227.74 125.63,227.92 125.94,228.10 126.25,228.27 126.57,228.44 126.88,228.60 127.19,228.76 127.50,228.91 127.82,229.06 128.13,229.21 128.44,229.35 128.76,229.48 129.07,229.61 129.38,229.73 129.69,229.85 130.01,229.97 130.32,230.08 130.63,230.18 130.95,230.28 131.26,230.38 131.57,230.47 131.88,230.57 132.20,230.67 132.51,230.77 132.82,230.86 133.14,230.96 133.45,231.05 133.76,231.15 134.07,231.24 134.39,231.33 134.70,231.43 135.01,231.52 135.32,231.61 135.64,231.69 135.95,231.78 136.26,231.87 136.58,231.95 136.89,232.03 137.20,232.11 137.51,232.19 137.83,232.26 138.14,232.33 138.45,232.40 138.77,232.47 139.08,232.53 139.39,232.60 139.70,232.65 140.02,232.71 140.33,232.76 140.64,232.81 140.96,232.86 141.27,232.90 141.58,232.94 141.89,232.97 142.21,233.00 142.52,233.03 142.83,233.05 143.15,233.07 143.46,233.08 143.77,233.09 144.08,233.10 144.40,233.10 144.71,233.10 145.02,233.10 145.34,233.10 145.65,233.10 145.96,233.10 146.27,233.10 146.59,233.10 146.90,233.10 147.21,233.10 147.53,233.10 147.84,233.10 148.15,233.10 148.46,233.10 148.78,233.10 149.09,233.10 149.40,233.10 149.71,233.10 150.03,233.10 150.34,233.10 150.65,233.10 150.97,233.10 151.28,233.10 151.59,233.10 151.90,233.10 152.22,233.10 152.53,233.10 152.84,233.10 153.16,233.10 153.47,233.10 153.78,233.10 154.09,233.10 154.41,233.10 154.72,233.10 155.03,233.10 155.35,233.10 155.66,233.10 155.97,233.10 156.28,233.10 156.60,233.10 156.91,233.10 157.22,233.10 157.54,233.10 157.85,233.10 158.16,233.10 158.47,233.10 158.79,233.10 159.10,233.10 159.41,233.10 159.73,233.10 160.04,233.10 160.35,233.10 160.66,233.10 160.98,233.10 161.29,233.10 161.60,233.10 161.92,233.10 162.23,233.10 162.54,233.10 162.85,233.10 163.17,233.10 163.48,233.10 163.79,233.10 164.10,233.10 164.42,233.10 164.73,233.10 165.04,233.10 165.36,233.10 165.67,233.10 165.98,233.10 166.29,233.10 166.61,233.10 166.92,233.10 167.23,233.10 167.55,233.10 167.86,233.10 168.17,233.10 168.48,233.10 168.80,233.10 169.11,233.10 169.42,233.10 169.74,233.10 170.05,233.10 170.36,233.10 170.67,233.10 170.99,233.10 171.30,233.10 171.61,233.10 171.93,233.10 172.24,233.10 172.55,233.10 172.86,233.10 173.18,233.10 173.49,233.10 173.80,233.10 174.12,233.10 174.43,233.10 174.74,233.10 175.05,233.10 175.37,233.10 175.68,233.10 175.99,233.10 176.31,233.10 176.62,233.10 176.93,233.10 177.24,233.10 177.56,233.10 177.87,233.10 178.18,233.10 178.49,233.10 178.81,233.10 179.12,233.10 179.43,233.10 179.75,233.10 180.06,233.10 180.37,233.10 180.68,233.10 181.00,233.10 181.31,233.10 181.62,233.10 181.94,233.10 182.25,233.10 182.56,233.10 182.87,233.10 183.19,233.10 183.50,233.10" fill="none" stroke="#30a030" stroke-width="1.3" stroke-linejoin="round" stroke-dasharray="3,1.2,1,1.2,1,1.2"/>
<rect x="27.4" y="9.6" width="156.1" height="223.5" fill="none" stroke="#8a8a8a" stroke-width="1"/>
<line x1="27.40" y1="9.60" x2="27.40" y2="233.10" stroke="#555" stroke-width="1"/>
<line x1="27.40" y1="121.30" x2="183.50" y2="121.30" stroke="#3a3a5a" stroke-width="1.1"/>
<line x1="27.40" y1="233.10" x2="183.50" y2="233.10" stroke="#555" stroke-width="1"/>
<line x1="27.40" y1="113.00" x2="29.20" y2="113.00" stroke="#555" stroke-width="0.8"/>
<line x1="27.40" y1="103.55" x2="29.20" y2="103.55" stroke="#555" stroke-width="0.8"/>
<line x1="27.40" y1="94.10" x2="29.20" y2="94.10" stroke="#555" stroke-width="0.8"/>
<line x1="27.40" y1="84.65" x2="29.20" y2="84.65" stroke="#555" stroke-width="0.8"/>
<line x1="27.40" y1="75.20" x2="29.20" y2="75.20" stroke="#555" stroke-width="0.8"/>
<line x1="27.40" y1="65.75" x2="29.20" y2="65.75" stroke="#555" stroke-width="0.8"/>
<line x1="27.40" y1="56.30" x2="29.20" y2="56.30" stroke="#555" stroke-width="0.8"/>
<line x1="27.40" y1="46.85" x2="29.20" y2="46.85" stroke="#555" stroke-width="0.8"/>
<line x1="27.40" y1="37.40" x2="29.20" y2="37.40" stroke="#555" stroke-width="0.8"/>
<line x1="27.40" y1="27.95" x2="29.20" y2="27.95" stroke="#555" stroke-width="0.8"/>
<line x1="27.40" y1="18.50" x2="29.20" y2="18.50" stroke="#555" stroke-width="0.8"/>
<line x1="27.40" y1="208.30" x2="29.20" y2="208.30" stroke="#555" stroke-width="0.8"/>
<line x1="27.40" y1="183.50" x2="29.20" y2="183.50" stroke="#555" stroke-width="0.8"/>
<line x1="27.40" y1="158.70" x2="29.20" y2="158.70" stroke="#555" stroke-width="0.8"/>
<line x1="27.40" y1="133.90" x2="29.20" y2="133.90" stroke="#555" stroke-width="0.8"/>
<line x1="27.40" y1="233.10" x2="27.40" y2="234.50" stroke="#555" stroke-width="0.8"/>
<line x1="50.35" y1="233.10" x2="50.35" y2="234.50" stroke="#555" stroke-width="0.8"/>
<line x1="73.30" y1="233.10" x2="73.30" y2="234.50" stroke="#555" stroke-width="0.8"/>
<line x1="96.25" y1="233.10" x2="96.25" y2="234.50" stroke="#555" stroke-width="0.8"/>
<line x1="119.20" y1="233.10" x2="119.20" y2="234.50" stroke="#555" stroke-width="0.8"/>
<line x1="142.15" y1="233.10" x2="142.15" y2="234.50" stroke="#555" stroke-width="0.8"/>
<line x1="165.10" y1="233.10" x2="165.10" y2="234.50" stroke="#555" stroke-width="0.8"/>
<text x="15.80" y="18.50" font-size="10.8" text-anchor="middle" fill="#111">(a)</text>
<text x="32.40" y="22.60" font-size="7.5" text-anchor="start" fill="#111">With TBP</text>
<text x="27.50" y="132.30" font-size="7.5" text-anchor="start" fill="#111">Without TBP</text>
<line x1="119.00" y1="16.30" x2="135.80" y2="16.30" stroke="#222" stroke-width="1.2"/>
<text x="137.80" y="19.05" font-size="7.6" text-anchor="start" fill="#111">Core</text>
<text x="118.90" y="28.40" font-size="7.6" text-anchor="start" fill="#111">Zn(DDTC)<tspan font-size="5.2" dy="2.2">2</tspan><tspan dy="-2.2" dx="2.8">:</tspan></text>
<line x1="119.00" y1="36.20" x2="136.10" y2="36.20" stroke="#ff3030" stroke-width="1.2"/>
<text x="140.50" y="38.95" font-size="7.6" text-anchor="start" fill="#111">0.03 mmol</text>
<line x1="119.00" y1="45.80" x2="136.10" y2="45.80" stroke="#3030ff" stroke-width="1.2"/>
<text x="140.50" y="48.55" font-size="7.6" text-anchor="start" fill="#111">0.05 mmol</text>
<line x1="119.00" y1="54.90" x2="136.10" y2="54.90" stroke="#ff30ff" stroke-width="1.2"/>
<text x="140.50" y="57.65" font-size="7.6" text-anchor="start" fill="#111">0.08 mmol</text>
<line x1="119.00" y1="64.10" x2="136.10" y2="64.10" stroke="#30a030" stroke-width="1.2"/>
<text x="140.50" y="66.85" font-size="7.6" text-anchor="start" fill="#111">0.13 mmol</text>
<line x1="119.00" y1="73.30" x2="136.10" y2="73.30" stroke="#303090" stroke-width="1.2"/>
<text x="140.50" y="76.05" font-size="7.6" text-anchor="start" fill="#111">0.2 mmol</text>
<text x="119.40" y="132.60" font-size="7.6" text-anchor="start" fill="#111">Zn(DDTC)<tspan font-size="5.2" dy="2.2">2</tspan><tspan dy="-2.2" dx="2.8">:</tspan></text>
<line x1="119.60" y1="140.90" x2="136.60" y2="140.90" stroke="#ff6060" stroke-width="1.2"/>
<text x="141.40" y="143.65" font-size="7.6" text-anchor="start" fill="#111">0.03 mmol</text>
<line x1="119.60" y1="150.40" x2="136.60" y2="150.40" stroke="#5a5aff" stroke-width="1.2"/>
<text x="141.40" y="153.15" font-size="7.6" text-anchor="start" fill="#111">0.05 mmol</text>
<line x1="119.60" y1="159.60" x2="136.60" y2="159.60" stroke="#ff50ff" stroke-width="1.2"/>
<text x="141.40" y="162.35" font-size="7.6" text-anchor="start" fill="#111">0.08 mmol</text>
<line x1="119.60" y1="168.70" x2="136.60" y2="168.70" stroke="#50a850" stroke-width="1.2"/>
<text x="141.40" y="171.45" font-size="7.6" text-anchor="start" fill="#111">0.13 mmol</text>
<line x1="119.60" y1="177.50" x2="136.60" y2="177.50" stroke="#5050a0" stroke-width="1.2"/>
<text x="141.40" y="180.25" font-size="7.6" text-anchor="start" fill="#111">0.2 mmol</text>
<text x="27.40" y="243.00" font-size="7.9" text-anchor="middle" fill="#111">550</text>
<text x="73.30" y="243.00" font-size="7.9" text-anchor="middle" fill="#111">600</text>
<text x="119.20" y="243.00" font-size="7.9" text-anchor="middle" fill="#111">650</text>
<text x="165.10" y="243.00" font-size="7.9" text-anchor="middle" fill="#111">700</text>
<text x="108.10" y="256.10" font-size="9.3" text-anchor="middle" fill="#111">Wavelength (nm)</text>
<text x="16.30" y="102.50" font-size="9.0" text-anchor="middle" fill="#111" transform="rotate(-90 16.30 102.50)">Normalized Intensity (a. u)</text>
<rect x="223.6" y="8.6" width="128.1" height="95.2" fill="none" stroke="#777" stroke-width="0.9"/>
<line x1="223.60" y1="8.60" x2="223.60" y2="103.80" stroke="#555" stroke-width="0.9"/>
<line x1="223.60" y1="103.80" x2="351.70" y2="103.80" stroke="#555" stroke-width="0.9"/>
<line x1="351.70" y1="8.60" x2="351.70" y2="103.80" stroke="#555" stroke-width="0.9"/>
<line x1="221.40" y1="103.80" x2="223.60" y2="103.80" stroke="#444" stroke-width="0.8"/>
<text x="220.10" y="106.30" font-size="7.0" text-anchor="end" font-weight="bold" fill="#111">570</text>
<line x1="221.40" y1="87.93" x2="223.60" y2="87.93" stroke="#444" stroke-width="0.8"/>
<text x="220.10" y="90.43" font-size="7.0" text-anchor="end" font-weight="bold" fill="#111">580</text>
<line x1="221.40" y1="72.07" x2="223.60" y2="72.07" stroke="#444" stroke-width="0.8"/>
<text x="220.10" y="74.57" font-size="7.0" text-anchor="end" font-weight="bold" fill="#111">590</text>
<line x1="221.40" y1="56.20" x2="223.60" y2="56.20" stroke="#444" stroke-width="0.8"/>
<text x="220.10" y="58.70" font-size="7.0" text-anchor="end" font-weight="bold" fill="#111">600</text>
<line x1="221.40" y1="40.33" x2="223.60" y2="40.33" stroke="#444" stroke-width="0.8"/>
<text x="220.10" y="42.83" font-size="7.0" text-anchor="end" font-weight="bold" fill="#111">610</text>
<line x1="221.40" y1="24.47" x2="223.60" y2="24.47" stroke="#444" stroke-width="0.8"/>
<text x="220.10" y="26.97" font-size="7.0" text-anchor="end" font-weight="bold" fill="#111">620</text>
<line x1="221.40" y1="8.60" x2="223.60" y2="8.60" stroke="#444" stroke-width="0.8"/>
<text x="220.10" y="11.10" font-size="7.0" text-anchor="end" font-weight="bold" fill="#111">630</text>
<line x1="223.60" y1="95.87" x2="224.90" y2="95.87" stroke="#555" stroke-width="0.7"/>
<line x1="223.60" y1="80.00" x2="224.90" y2="80.00" stroke="#555" stroke-width="0.7"/>
<line x1="223.60" y1="64.13" x2="224.90" y2="64.13" stroke="#555" stroke-width="0.7"/>
<line x1="223.60" y1="48.27" x2="224.90" y2="48.27" stroke="#555" stroke-width="0.7"/>
<line x1="223.60" y1="32.40" x2="224.90" y2="32.40" stroke="#555" stroke-width="0.7"/>
<line x1="223.60" y1="16.53" x2="224.90" y2="16.53" stroke="#555" stroke-width="0.7"/>
<line x1="351.70" y1="96.00" x2="353.50" y2="96.00" stroke="#444" stroke-width="0.8"/>
<text x="354.00" y="98.60" font-size="7.3" text-anchor="start" font-weight="bold" fill="#111">80</text>
<line x1="351.70" y1="81.48" x2="353.50" y2="81.48" stroke="#444" stroke-width="0.8"/>
<text x="354.00" y="84.08" font-size="7.3" text-anchor="start" font-weight="bold" fill="#111">100</text>
<line x1="351.70" y1="66.96" x2="353.50" y2="66.96" stroke="#444" stroke-width="0.8"/>
<text x="354.00" y="69.56" font-size="7.3" text-anchor="start" font-weight="bold" fill="#111">120</text>
<line x1="351.70" y1="52.44" x2="353.50" y2="52.44" stroke="#444" stroke-width="0.8"/>
<text x="354.00" y="55.04" font-size="7.3" text-anchor="start" font-weight="bold" fill="#111">140</text>
<line x1="351.70" y1="37.92" x2="353.50" y2="37.92" stroke="#444" stroke-width="0.8"/>
<text x="354.00" y="40.52" font-size="7.3" text-anchor="start" font-weight="bold" fill="#111">160</text>
<line x1="351.70" y1="23.40" x2="353.50" y2="23.40" stroke="#444" stroke-width="0.8"/>
<text x="354.00" y="26.00" font-size="7.3" text-anchor="start" font-weight="bold" fill="#111">180</text>
<line x1="351.70" y1="8.88" x2="353.50" y2="8.88" stroke="#444" stroke-width="0.8"/>
<text x="354.00" y="11.48" font-size="7.3" text-anchor="start" font-weight="bold" fill="#111">200</text>
<line x1="351.70" y1="88.74" x2="350.40" y2="88.74" stroke="#555" stroke-width="0.7"/>
<line x1="351.70" y1="74.22" x2="350.40" y2="74.22" stroke="#555" stroke-width="0.7"/>
<line x1="351.70" y1="59.70" x2="350.40" y2="59.70" stroke="#555" stroke-width="0.7"/>
<line x1="351.70" y1="45.18" x2="350.40" y2="45.18" stroke="#555" stroke-width="0.7"/>
<line x1="351.70" y1="30.66" x2="350.40" y2="30.66" stroke="#555" stroke-width="0.7"/>
<line x1="351.70" y1="16.14" x2="350.40" y2="16.14" stroke="#555" stroke-width="0.7"/>
<line x1="223.60" y1="103.80" x2="223.60" y2="105.30" stroke="#444" stroke-width="0.8"/>
<text x="223.60" y="112.30" font-size="6.9" text-anchor="middle" font-weight="bold" fill="#111">0.0</text>
<line x1="244.95" y1="103.80" x2="244.95" y2="105.30" stroke="#444" stroke-width="0.8"/>
<text x="244.95" y="112.30" font-size="6.9" text-anchor="middle" font-weight="bold" fill="#111">0.5</text>
<line x1="266.30" y1="103.80" x2="266.30" y2="105.30" stroke="#444" stroke-width="0.8"/>
<text x="266.30" y="112.30" font-size="6.9" text-anchor="middle" font-weight="bold" fill="#111">1.0</text>
<line x1="287.65" y1="103.80" x2="287.65" y2="105.30" stroke="#444" stroke-width="0.8"/>
<text x="287.65" y="112.30" font-size="6.9" text-anchor="middle" font-weight="bold" fill="#111">1.5</text>
<line x1="309.00" y1="103.80" x2="309.00" y2="105.30" stroke="#444" stroke-width="0.8"/>
<text x="309.00" y="112.30" font-size="6.9" text-anchor="middle" font-weight="bold" fill="#111">2.0</text>
<line x1="330.35" y1="103.80" x2="330.35" y2="105.30" stroke="#444" stroke-width="0.8"/>
<text x="330.35" y="112.30" font-size="6.9" text-anchor="middle" font-weight="bold" fill="#111">2.5</text>
<line x1="351.70" y1="103.80" x2="351.70" y2="105.30" stroke="#444" stroke-width="0.8"/>
<text x="351.70" y="112.30" font-size="6.9" text-anchor="middle" font-weight="bold" fill="#111">3.0</text>
<line x1="234.28" y1="103.80" x2="234.28" y2="102.50" stroke="#555" stroke-width="0.7"/>
<line x1="255.62" y1="103.80" x2="255.62" y2="102.50" stroke="#555" stroke-width="0.7"/>
<line x1="276.98" y1="103.80" x2="276.98" y2="102.50" stroke="#555" stroke-width="0.7"/>
<line x1="298.32" y1="103.80" x2="298.32" y2="102.50" stroke="#555" stroke-width="0.7"/>
<line x1="319.67" y1="103.80" x2="319.67" y2="102.50" stroke="#555" stroke-width="0.7"/>
<line x1="341.02" y1="103.80" x2="341.02" y2="102.50" stroke="#555" stroke-width="0.7"/>
<text x="236.40" y="19.50" font-size="10.7" text-anchor="middle" fill="#111">(b)</text>
<text x="286.30" y="125.10" font-size="8.15" text-anchor="middle" font-weight="bold" fill="#111">ZnS shell thickness (ML)</text>
<text x="200.70" y="61.00" font-size="8.3" text-anchor="middle" font-weight="bold" fill="#111" transform="rotate(-90 200.70 61.00)">PL Peak Position (nm)</text>
<text x="377.00" y="61.90" font-size="8.36" text-anchor="middle" font-weight="bold" fill="#111" transform="rotate(-90 377.00 61.90)">FWHM (meV)</text>
<polyline points="223.60,61.44 244.95,58.42 274.84,47.31 296.19,39.54 313.27,28.27" fill="none" stroke="#222" stroke-width="1.0" stroke-linejoin="round"/>
<polyline points="223.60,93.10 244.95,70.74 274.84,79.37 296.19,80.25 313.27,81.12" fill="none" stroke="#333" stroke-width="1.0" stroke-linejoin="round"/>
<polyline points="223.60,93.82 249.22,88.30 287.65,95.13 304.73,94.11 321.81,92.08 338.89,90.56" fill="none" stroke="#ff3535" stroke-width="1.0" stroke-linejoin="round"/>
<rect x="243.05" y="68.84" width="3.8" height="3.8" fill="#fff" stroke="#666" stroke-width="0.8"/>
<rect x="272.94" y="77.47" width="3.8" height="3.8" fill="#fff" stroke="#666" stroke-width="0.8"/>
<rect x="294.29" y="78.35" width="3.8" height="3.8" fill="#fff" stroke="#666" stroke-width="0.8"/>
<rect x="311.37" y="79.22" width="3.8" height="3.8" fill="#fff" stroke="#666" stroke-width="0.8"/>
<circle cx="223.60" cy="93.82" r="1.9" fill="#fff" stroke="#ff5050" stroke-width="0.8"/>
<circle cx="249.22" cy="88.30" r="1.9" fill="#fff" stroke="#ff5050" stroke-width="0.8"/>
<circle cx="287.65" cy="95.13" r="1.9" fill="#fff" stroke="#ff5050" stroke-width="0.8"/>
<circle cx="304.73" cy="94.11" r="1.9" fill="#fff" stroke="#ff5050" stroke-width="0.8"/>
<circle cx="321.81" cy="92.08" r="1.9" fill="#fff" stroke="#ff5050" stroke-width="0.8"/>
<circle cx="338.89" cy="90.56" r="1.9" fill="#fff" stroke="#ff5050" stroke-width="0.8"/>
<polyline points="223.60,61.44 249.22,48.74 287.65,39.54 304.73,32.72 321.81,23.67 338.89,17.17" fill="none" stroke="#ff2020" stroke-width="1.0" stroke-linejoin="round"/>
<rect x="243.35" y="56.82" width="3.2" height="3.2" fill="#000"/>
<rect x="273.24" y="45.71" width="3.2" height="3.2" fill="#000"/>
<rect x="294.59" y="37.94" width="3.2" height="3.2" fill="#000"/>
<rect x="311.67" y="26.67" width="3.2" height="3.2" fill="#000"/>
<circle cx="223.60" cy="61.44" r="2.0" fill="#ff0000"/>
<circle cx="249.22" cy="48.74" r="2.0" fill="#ff0000"/>
<circle cx="287.65" cy="39.54" r="2.0" fill="#ff0000"/>
<circle cx="304.73" cy="32.72" r="2.0" fill="#ff0000"/>
<circle cx="321.81" cy="23.67" r="2.0" fill="#ff0000"/>
<circle cx="338.89" cy="17.17" r="2.0" fill="#ff0000"/>
<rect x="223.3" y="132.7" width="134.3" height="100.0" fill="none" stroke="#888" stroke-width="0.9"/>
<line x1="223.30" y1="132.70" x2="223.30" y2="232.70" stroke="#555" stroke-width="0.9"/>
<line x1="223.30" y1="232.70" x2="357.60" y2="232.70" stroke="#555" stroke-width="0.9"/>
<line x1="221.70" y1="232.60" x2="223.30" y2="232.60" stroke="#444" stroke-width="0.8"/>
<text x="220.40" y="234.70" font-size="6.0" text-anchor="end" fill="#222">0</text>
<line x1="221.70" y1="212.60" x2="223.30" y2="212.60" stroke="#444" stroke-width="0.8"/>
<text x="220.40" y="214.70" font-size="6.0" text-anchor="end" fill="#222">20</text>
<line x1="221.70" y1="192.60" x2="223.30" y2="192.60" stroke="#444" stroke-width="0.8"/>
<text x="220.40" y="194.70" font-size="6.0" text-anchor="end" fill="#222">40</text>
<line x1="221.70" y1="172.60" x2="223.30" y2="172.60" stroke="#444" stroke-width="0.8"/>
<text x="220.40" y="174.70" font-size="6.0" text-anchor="end" fill="#222">60</text>
<line x1="221.70" y1="152.60" x2="223.30" y2="152.60" stroke="#444" stroke-width="0.8"/>
<text x="220.40" y="154.70" font-size="6.0" text-anchor="end" fill="#222">80</text>
<line x1="221.70" y1="132.60" x2="223.30" y2="132.60" stroke="#444" stroke-width="0.8"/>
<text x="220.40" y="134.70" font-size="6.0" text-anchor="end" fill="#222">100</text>
<line x1="223.30" y1="222.60" x2="224.30" y2="222.60" stroke="#555" stroke-width="0.6"/>
<line x1="223.30" y1="202.60" x2="224.30" y2="202.60" stroke="#555" stroke-width="0.6"/>
<line x1="223.30" y1="182.60" x2="224.30" y2="182.60" stroke="#555" stroke-width="0.6"/>
<line x1="223.30" y1="162.60" x2="224.30" y2="162.60" stroke="#555" stroke-width="0.6"/>
<line x1="223.30" y1="142.60" x2="224.30" y2="142.60" stroke="#555" stroke-width="0.6"/>
<line x1="223.40" y1="232.70" x2="223.40" y2="234.30" stroke="#444" stroke-width="0.8"/>
<text x="223.40" y="240.70" font-size="6.0" text-anchor="middle" fill="#222">0.0</text>
<line x1="246.48" y1="232.70" x2="246.48" y2="234.30" stroke="#444" stroke-width="0.8"/>
<text x="246.48" y="240.70" font-size="6.0" text-anchor="middle" fill="#222">0.5</text>
<line x1="269.56" y1="232.70" x2="269.56" y2="234.30" stroke="#444" stroke-width="0.8"/>
<text x="269.56" y="240.70" font-size="6.0" text-anchor="middle" fill="#222">1.0</text>
<line x1="292.64" y1="232.70" x2="292.64" y2="234.30" stroke="#444" stroke-width="0.8"/>
<text x="292.64" y="240.70" font-size="6.0" text-anchor="middle" fill="#222">1.5</text>
<line x1="315.72" y1="232.70" x2="315.72" y2="234.30" stroke="#444" stroke-width="0.8"/>
<text x="315.72" y="240.70" font-size="6.0" text-anchor="middle" fill="#222">2.0</text>
<line x1="338.80" y1="232.70" x2="338.80" y2="234.30" stroke="#444" stroke-width="0.8"/>
<text x="338.80" y="240.70" font-size="6.0" text-anchor="middle" fill="#222">2.5</text>
<line x1="234.94" y1="232.70" x2="234.94" y2="231.70" stroke="#555" stroke-width="0.6"/>
<line x1="258.02" y1="232.70" x2="258.02" y2="231.70" stroke="#555" stroke-width="0.6"/>
<line x1="281.10" y1="232.70" x2="281.10" y2="231.70" stroke="#555" stroke-width="0.6"/>
<line x1="304.18" y1="232.70" x2="304.18" y2="231.70" stroke="#555" stroke-width="0.6"/>
<line x1="327.26" y1="232.70" x2="327.26" y2="231.70" stroke="#555" stroke-width="0.6"/>
<line x1="350.34" y1="232.70" x2="350.34" y2="231.70" stroke="#555" stroke-width="0.6"/>
<text x="204.50" y="143.60" font-size="10.8" text-anchor="middle" fill="#111">(c)</text>
<text x="290.20" y="251.50" font-size="7.25" text-anchor="middle" fill="#111">ZnS Shell Thickness (ML)</text>
<text x="207.80" y="182.90" font-size="7.5" text-anchor="middle" fill="#111" transform="rotate(-90 207.80 182.90)">QY (%)</text>
<polyline points="223.40,223.40 246.48,194.40 278.79,172.30 301.87,198.80 320.34,223.20" fill="none" stroke="#222" stroke-width="1.0" stroke-linejoin="round"/>
<polyline points="223.40,223.40 251.10,181.30 292.64,141.40 311.10,147.10 329.57,156.10 348.03,175.10" fill="none" stroke="#ff2020" stroke-width="1.1" stroke-linejoin="round"/>
<rect x="221.70" y="221.70" width="3.4" height="3.4" fill="#fff" stroke="#555" stroke-width="0.7"/>
<rect x="244.78" y="192.70" width="3.4" height="3.4" fill="#fff" stroke="#555" stroke-width="0.7"/>
<rect x="277.09" y="170.60" width="3.4" height="3.4" fill="#fff" stroke="#555" stroke-width="0.7"/>
<rect x="300.17" y="197.10" width="3.4" height="3.4" fill="#fff" stroke="#555" stroke-width="0.7"/>
<rect x="318.64" y="221.50" width="3.4" height="3.4" fill="#fff" stroke="#555" stroke-width="0.7"/>
<circle cx="223.40" cy="223.40" r="1.6" fill="#fff" stroke="#ff3030" stroke-width="0.7"/>
<circle cx="251.10" cy="181.30" r="1.6" fill="#fff" stroke="#ff3030" stroke-width="0.7"/>
<circle cx="292.64" cy="141.40" r="1.6" fill="#fff" stroke="#ff3030" stroke-width="0.7"/>
<circle cx="311.10" cy="147.10" r="1.6" fill="#fff" stroke="#ff3030" stroke-width="0.7"/>
<circle cx="329.57" cy="156.10" r="1.6" fill="#fff" stroke="#ff3030" stroke-width="0.7"/>
<circle cx="348.03" cy="175.10" r="1.6" fill="#fff" stroke="#ff3030" stroke-width="0.7"/>
<line x1="227.50" y1="139.60" x2="241.00" y2="139.60" stroke="#222" stroke-width="0.9"/>
<rect x="233.10" y="138.00" width="3.2" height="3.2" fill="#fff" stroke="#555" stroke-width="0.7"/>
<text x="243.00" y="141.80" font-size="6.05" text-anchor="start" fill="#111">Without TBP</text>
<line x1="227.50" y1="146.80" x2="241.00" y2="146.80" stroke="#ff2020" stroke-width="1.0"/>
<circle cx="234.7" cy="146.8" r="1.5" fill="#fff" stroke="#ff3030" stroke-width="0.7"/>
<text x="243.00" y="149.00" font-size="6.05" text-anchor="start" fill="#111">With TBP</text>
<clipPath id="cpd"><rect x="26.4" y="265.5" width="95.80000000000001" height="112.39999999999998"/></clipPath>
<g clip-path="url(#cpd)">
<path d="M29.25 265.5h1.5v1h-1.5zM29.25 266.5h1.75v1.25h-1.75zM29.5 267.75h1.5v0.25h-1.5zM29.5 268h1.75v1.75h-1.75zM29.75 269.75h1.5v0.5h-1.5zM29.75 270.25h1.75v1.75h-1.75zM30 272h1.5v0.5h-1.5zM30 272.5h1.75v1.75h-1.75zM30.25 274.25h1.5v1h-1.5zM30.25 275.25h1.75v1.25h-1.75zM30.25 276.5h2v0.25h-2zM30.5 276.75h1.75v1.5h-1.75zM30.75 278.25h1.5v1h-1.5zM28.5 278.25h1.5v1.5h-1.5zM30.75 279.25h1.75v1.5h-1.75zM31 280.75h1.5v0.25h-1.5zM31 281h1.75v2.25h-1.75zM31 283.25h2v0.25h-2zM31.25 283.5h1.75v0.5h-1.75zM31.25 284h2v0.25h-2zM31.5 284.25h1.75v0.5h-1.75zM31.5 284.75h2v2h-2zM31.75 286.75h1.75v0.25h-1.75zM32 287h1.5v0.25h-1.5zM32 287.25h1.75v0.5h-1.75zM32 287.75h2v0.75h-2zM28.25 288h1.5v1.5h-1.5zM32.25 288.5h2v1.75h-2zM32.5 290.25h2v1h-2zM32.75 291.25h2v1.25h-2zM32.75 292.5h2.25v0.25h-2.25zM33 292.75h2v0.5h-2zM33 293.25h2.25v0.25h-2.25zM33.25 293.5h2v0.75h-2zM33.25 294.25h2.25v0.75h-2.25zM33.25 295h2.75v0.25h-2.75zM33.5 295.25h2.5v1.25h-2.5zM33.75 296.5h2.75v0.25h-2.75zM34 296.75h2.5v1.25h-2.5zM34.25 298h2.25v0.25h-2.25zM34.25 298.25h2.5v0.5h-2.5zM34.5 298.75h2.5v0.75h-2.5zM34.75 299.5h2.25v0.25h-2.25zM34.75 299.75h2.75v0.75h-2.75zM35 300.5h2.5v0.25h-2.5zM35 300.75h2.75v0.5h-2.75zM35.25 301.25h2.75v0.5h-2.75zM35.5 301.75h2.75v1.25h-2.75zM35.75 303h2.5v0.25h-2.5zM36 303.25h2.75v1h-2.75zM36.25 304.25h3v0.5h-3zM36.25 304.75h3.25v0.25h-3.25zM36.5 305h3.5v0.5h-3.5zM36.75 305.5h3.5v0.5h-3.5zM28.75 304.75h1.5v1.5h-1.5zM37 306h3.5v0.75h-3.5zM37.25 306.75h3.5v1h-3.5zM37.25 307.75h4.25v0.25h-4.25zM37.5 308h4v0.25h-4zM37.5 308.25h4.75v0.5h-4.75zM37.75 308.75h4.5v0.5h-4.5zM37.75 309.25h4.75v0.75h-4.75zM38.75 310h3.75v0.25h-3.75zM38.75 310.25h4.5v1h-4.5zM39.25 311.25h4v1h-4zM39.25 312.25h4.25v0.25h-4.25zM39.25 312.5h4.5v0.5h-4.5zM39.75 313h4v0.75h-4zM39.75 313.75h4.25v0.5h-4.25zM40.25 314.25h5.25v1h-5.25zM41 315.25h4.5v0.5h-4.5zM41 315.75h5.5v0.75h-5.5zM41.75 316.5h4.75v0.5h-4.75zM41.75 317h6v0.25h-6zM41.75 317.25h6.5v0.75h-6.5zM42 318h6.25v0.25h-6.25zM42.25 318.25h6v0.5h-6zM42.5 318.75h6v0.75h-6zM42.5 319.5h6.75v0.5h-6.75zM43 320h6.25v0.5h-6.25zM43 320.5h7v0.25h-7zM43 320.75h7.5v0.25h-7.5zM44.25 321h6.25v0.75h-6.25zM44 321.75h7.75v0.5h-7.75zM44 322.25h8v0.25h-8zM44 322.5h8.25v0.75h-8.25zM44.25 323.25h8v0.25h-8zM28.5 322.25h1.5v1.5h-1.5zM45 323.5h8.25v1h-8.25zM46 324.5h7.25v0.25h-7.25zM46 324.75h8.25v0.25h-8.25zM46 325h9.75v0.75h-9.75zM46.75 325.75h9.25v1h-9.25zM56.25 326.5h1.5v0.75h-1.5zM47 326.75h9v0.5h-9zM47 327.25h10.75v0.5h-10.75zM47.5 327.75h10.25v0.25h-10.25zM47.5 328h10v0.25h-10zM49.25 328.25h8.25v0.25h-8.25zM47.5 328.25h1.5v0.25h-1.5zM59.25 328.5h1.5v0.25h-1.5zM47.5 328.5h11.5v0.25h-11.5zM62.75 327.75h1.5v1.5h-1.5zM59.25 328.75h3v0.75h-3zM48.75 328.75h10.25v0.75h-10.25zM48.75 329.5h13.5v0.5h-13.5zM48.75 330h13.75v0.25h-13.75zM49.25 330.25h13.25v0.75h-13.25zM50 331h12.5v0.25h-12.5zM65.25 330.25h1.5v1.5h-1.5zM49.75 331.25h13v1.25h-13zM49.75 332.5h15.75v0.25h-15.75zM52.25 332.75h13.25v0.75h-13.25zM52.25 333.5h13.5v0.5h-13.5zM66.25 334h1.5v0.5h-1.5zM53 334h12.75v0.5h-12.75zM53 334.5h14.75v0.5h-14.75zM68 334h1.5v1h-1.5zM53.75 335h14v0.5h-14zM68 335h2.5v0.5h-2.5zM54 335.5h13.75v0.5h-13.75zM54 336h13.5v0.5h-13.5zM69 335.5h1.5v1h-1.5zM56.75 336.5h10.75v0.25h-10.75zM68.75 336.75h1.5v0.5h-1.5zM55.75 336.75h12.25v0.5h-12.25zM55.75 337.25h15.75v0.25h-15.75zM57.5 337.5h14v0.5h-14zM55.75 337.5h1.5v0.5h-1.5zM55.75 338h16.75v0.25h-16.75zM57 338.25h15.5v1h-15.5zM57 339.25h17v0.25h-17zM58 339.5h16v1.25h-16zM60.5 340.75h13.5v0.75h-13.5zM75 340h1.5v1.5h-1.5zM58 340.75h2.25v1h-2.25zM77.75 340.75h1.5v1h-1.5zM61.5 341.5h12v0.25h-12zM56.75 341.75h3.5v0.5h-3.5zM76.75 341.75h2.5v0.5h-2.5zM60.75 341.75h15.5v0.5h-15.5zM76.75 342.25h2.25v1h-2.25zM62.5 342.25h13.75v1h-13.75zM60.75 342.25h1.5v1h-1.5zM56.75 342.25h1.5v1h-1.5zM62.75 343.25h13.25v0.25h-13.25zM62.75 343.5h15v0.5h-15zM63.25 344h14.5v0.5h-14.5zM79 343.5h2v1h-2zM63.25 344.5h14.75v0.5h-14.75zM60 343.5h1.5v1.5h-1.5zM69.75 345h8.25v0.5h-8.25zM78.5 344.5h2.5v1h-2.5zM65.25 345h3.25v0.5h-3.25zM64.5 345.5h18v0.5h-18zM28.5 345.25h1.5v1.5h-1.5zM64.5 346h14.75v0.75h-14.75zM83.5 345.5h1.5v1.25h-1.5zM80.25 346h2.25v0.75h-2.25zM64.5 346.75h21v0.25h-21zM88.5 346.75h3v1.25h-3zM81.25 347h2.25v1h-2.25zM84 347h1.5v1h-1.5zM65.5 347h15.5v1h-15.5zM65.5 348h21.25v0.25h-21.25zM88 348h3.5v0.25h-3.5zM66.25 348.25h20.5v1.25h-20.5zM88 348.25h2.25v1.25h-2.25zM65.5 349.5h2v1.5h-2zM68.5 349.5h17.5v1.5h-17.5zM86.75 349.5h1.5v1.5h-1.5zM63.75 349.5h1.5v1.5h-1.5zM90.5 349.5h4.5v1.5h-4.5zM87.25 351h4v1.5h-4zM68.25 351h18.75v1.5h-18.75zM95.25 351h2.75v1.5h-2.75zM98.25 351h1.5v1.5h-1.5zM103.75 351h2v1.5h-2zM101.75 352.75h3.75v1.5h-3.75zM72.75 352.75h25.25v1.5h-25.25zM106.25 352.75h1.5v1.5h-1.5zM98.5 352.75h2.75v1.5h-2.75zM121.25 352.75h1v1.5h-1zM64.25 352.75h2.25v1.5h-2.25zM113.25 354.75h2v1.5h-2zM105.25 354.75h1.5v1.5h-1.5zM67.5 354.75h1.5v1.5h-1.5zM70 354.75h2.75v1.5h-2.75zM115.5 354.75h1.5v1.5h-1.5zM73 354.75h31.75v1.5h-31.75zM121.75 357h0.5v1.5h-0.5zM109.25 357h4.25v1.5h-4.25zM71.75 357h37.25v1.5h-37.25zM114 357h1.5v1.5h-1.5zM117.5 357h3.5v1.5h-3.5zM119.5 359.5h2.75v1.5h-2.75zM73.75 359.5h1.5v1.5h-1.5zM72 359.5h1.5v1.5h-1.5zM110.75 359.5h8.5v1.5h-8.5zM75.75 359.5h34.75v1.5h-34.75zM73.75 362.75h48.5v1.5h-48.5zM28.75 362.75h1.5v1.5h-1.5zM28.75 366.5h1.5v0.5h-1.5zM26.5 367h3.75v1h-3.75zM26.5 368h3.5v0.5h-3.5zM77.75 367h44.5v1.5h-44.5zM70.75 367h1.5v1.5h-1.5zM81.5 373h1.5v1.5h-1.5zM83.25 373h39v1.5h-39zM26.5 373h4.25v1.5h-4.25zM76.75 373h2v1.5h-2z" fill="#000"/>
</g>
<rect x="26.4" y="265.5" width="95.80000000000001" height="112.39999999999998" fill="none" stroke="#777" stroke-width="0.9"/>
<line x1="25.10" y1="266.80" x2="27.20" y2="266.80" stroke="#444" stroke-width="0.7"/>
<text x="23.90" y="269.00" font-size="6.0" text-anchor="end" fill="#333">10<tspan font-size="4.2" dy="-2.8">0</tspan></text>
<line x1="26.40" y1="290.33" x2="27.40" y2="290.33" stroke="#555" stroke-width="0.5"/>
<line x1="26.40" y1="284.41" x2="27.40" y2="284.41" stroke="#555" stroke-width="0.5"/>
<line x1="26.40" y1="280.20" x2="27.40" y2="280.20" stroke="#555" stroke-width="0.5"/>
<line x1="26.40" y1="276.94" x2="27.40" y2="276.94" stroke="#555" stroke-width="0.5"/>
<line x1="26.40" y1="274.27" x2="27.40" y2="274.27" stroke="#555" stroke-width="0.5"/>
<line x1="26.40" y1="272.02" x2="27.40" y2="272.02" stroke="#555" stroke-width="0.5"/>
<line x1="26.40" y1="270.06" x2="27.40" y2="270.06" stroke="#555" stroke-width="0.5"/>
<line x1="26.40" y1="268.34" x2="27.40" y2="268.34" stroke="#555" stroke-width="0.5"/>
<line x1="25.10" y1="300.47" x2="27.20" y2="300.47" stroke="#444" stroke-width="0.7"/>
<text x="23.90" y="302.67" font-size="6.0" text-anchor="end" fill="#333">10<tspan font-size="4.2" dy="-2.8">-1</tspan></text>
<line x1="26.40" y1="324.00" x2="27.40" y2="324.00" stroke="#555" stroke-width="0.5"/>
<line x1="26.40" y1="318.08" x2="27.40" y2="318.08" stroke="#555" stroke-width="0.5"/>
<line x1="26.40" y1="313.87" x2="27.40" y2="313.87" stroke="#555" stroke-width="0.5"/>
<line x1="26.40" y1="310.61" x2="27.40" y2="310.61" stroke="#555" stroke-width="0.5"/>
<line x1="26.40" y1="307.94" x2="27.40" y2="307.94" stroke="#555" stroke-width="0.5"/>
<line x1="26.40" y1="305.69" x2="27.40" y2="305.69" stroke="#555" stroke-width="0.5"/>
<line x1="26.40" y1="303.73" x2="27.40" y2="303.73" stroke="#555" stroke-width="0.5"/>
<line x1="26.40" y1="302.01" x2="27.40" y2="302.01" stroke="#555" stroke-width="0.5"/>
<line x1="25.10" y1="334.14" x2="27.20" y2="334.14" stroke="#444" stroke-width="0.7"/>
<text x="23.90" y="336.34" font-size="6.0" text-anchor="end" fill="#333">10<tspan font-size="4.2" dy="-2.8">-2</tspan></text>
<line x1="26.40" y1="357.67" x2="27.40" y2="357.67" stroke="#555" stroke-width="0.5"/>
<line x1="26.40" y1="351.75" x2="27.40" y2="351.75" stroke="#555" stroke-width="0.5"/>
<line x1="26.40" y1="347.54" x2="27.40" y2="347.54" stroke="#555" stroke-width="0.5"/>
<line x1="26.40" y1="344.28" x2="27.40" y2="344.28" stroke="#555" stroke-width="0.5"/>
<line x1="26.40" y1="341.61" x2="27.40" y2="341.61" stroke="#555" stroke-width="0.5"/>
<line x1="26.40" y1="339.36" x2="27.40" y2="339.36" stroke="#555" stroke-width="0.5"/>
<line x1="26.40" y1="337.40" x2="27.40" y2="337.40" stroke="#555" stroke-width="0.5"/>
<line x1="26.40" y1="335.68" x2="27.40" y2="335.68" stroke="#555" stroke-width="0.5"/>
<line x1="25.10" y1="367.81" x2="27.20" y2="367.81" stroke="#444" stroke-width="0.7"/>
<text x="23.90" y="370.01" font-size="6.0" text-anchor="end" fill="#333">10<tspan font-size="4.2" dy="-2.8">-3</tspan></text>
<line x1="26.40" y1="375.28" x2="27.40" y2="375.28" stroke="#555" stroke-width="0.5"/>
<line x1="26.40" y1="373.03" x2="27.40" y2="373.03" stroke="#555" stroke-width="0.5"/>
<line x1="26.40" y1="371.07" x2="27.40" y2="371.07" stroke="#555" stroke-width="0.5"/>
<line x1="26.40" y1="369.35" x2="27.40" y2="369.35" stroke="#555" stroke-width="0.5"/>
<line x1="42.80" y1="377.90" x2="42.80" y2="378.90" stroke="#444" stroke-width="0.7"/>
<text x="42.80" y="385.70" font-size="6.2" text-anchor="middle" fill="#222">100</text>
<line x1="62.65" y1="377.90" x2="62.65" y2="378.90" stroke="#444" stroke-width="0.7"/>
<text x="62.65" y="385.70" font-size="6.2" text-anchor="middle" fill="#222">200</text>
<line x1="82.50" y1="377.90" x2="82.50" y2="378.90" stroke="#444" stroke-width="0.7"/>
<text x="82.50" y="385.70" font-size="6.2" text-anchor="middle" fill="#222">300</text>
<line x1="102.35" y1="377.90" x2="102.35" y2="378.90" stroke="#444" stroke-width="0.7"/>
<text x="102.35" y="385.70" font-size="6.2" text-anchor="middle" fill="#222">400</text>
<line x1="122.20" y1="377.90" x2="122.20" y2="378.90" stroke="#444" stroke-width="0.7"/>
<text x="122.20" y="385.70" font-size="6.2" text-anchor="middle" fill="#222">500</text>
<line x1="32.88" y1="377.90" x2="32.88" y2="378.70" stroke="#555" stroke-width="0.6"/>
<line x1="52.72" y1="377.90" x2="52.72" y2="378.70" stroke="#555" stroke-width="0.6"/>
<line x1="72.58" y1="377.90" x2="72.58" y2="378.70" stroke="#555" stroke-width="0.6"/>
<line x1="92.42" y1="377.90" x2="92.42" y2="378.70" stroke="#555" stroke-width="0.6"/>
<line x1="112.28" y1="377.90" x2="112.28" y2="378.70" stroke="#555" stroke-width="0.6"/>
<text x="59.20" y="399.50" font-size="7.3" text-anchor="start" fill="#111">Time (ns)</text>
<text x="11.70" y="321.50" font-size="7.9" text-anchor="middle" fill="#111" transform="rotate(-90 11.70 321.50)">Normalized Intensity (a. u.)</text>
<text x="38.50" y="276.70" font-size="9.6" text-anchor="start" fill="#222">(d)</text>
<rect x="85.9" y="273.4" width="1.6" height="1.6" fill="#000"/>
<text x="95.50" y="276.50" font-size="6.5" text-anchor="start" fill="#000">CdSe</text>
<clipPath id="cpe"><rect x="151.6" y="265.5" width="95.30000000000001" height="112.39999999999998"/></clipPath>
<g clip-path="url(#cpe)">
<path d="M156 266h0.25v0.5h-0.25zM156.25 267.25h0.25v0.5h-0.25zM156.75 268.5h0.25v0.75h-0.25zM157 269.75h0.25v0.25h-0.25zM157.25 270.75h0.25v0.25h-0.25zM153.5 270h1.5v1.5h-1.5zM157.5 271.5h0.25v0.5h-0.25zM157.75 272.25h0.25v0.75h-0.25zM158 273.25h0.25v0.25h-0.25zM158 273.5h0.5v0.5h-0.5zM158.25 274h0.25v0.75h-0.25zM158.25 274.75h0.5v0.25h-0.5zM158.5 275h0.25v0.75h-0.25zM158.75 275.75h0.25v1h-0.25zM159 276.75h0.25v0.5h-0.25zM159 277.25h0.5v0.25h-0.5zM159.25 277.5h0.25v0.75h-0.25zM159.5 278.25h0.25v0.25h-0.25zM159.5 278.5h0.5v1h-0.5zM159.75 279.5h0.25v0.5h-0.25zM159.75 280h0.5v0.25h-0.5zM160 280.25h0.25v0.5h-0.25zM160.25 280.75h0.25v0.5h-0.25zM160.5 281.5h0.25v0.25h-0.25zM160.5 281.75h0.5v1h-0.5zM161 282.75h0.25v1.25h-0.25zM161.25 284h0.5v1h-0.5zM161.25 285h0.75v0.25h-0.75zM161.5 285.25h0.75v0.5h-0.75zM161.75 285.75h0.5v0.75h-0.5zM161.75 286.5h0.75v0.25h-0.75zM162 286.75h0.75v0.5h-0.75zM162.25 287.25h0.75v0.5h-0.75zM162.5 287.75h0.5v0.25h-0.5zM162.5 288h0.75v0.75h-0.75zM162.75 288.75h0.5v0.25h-0.5zM162.75 289h0.75v0.25h-0.75zM162.75 289.25h1v0.5h-1zM163 289.75h0.75v0.25h-0.75zM153.75 289h1.5v1.5h-1.5zM163.25 290h0.75v0.75h-0.75zM163.5 290.75h0.5v0.25h-0.5zM163.75 291h0.5v0.25h-0.5zM163.75 291.25h0.75v0.5h-0.75zM163.75 291.75h1v0.75h-1zM164 292.5h1.25v0.25h-1.25zM164.25 292.75h1v0.25h-1zM164.5 293h0.75v0.25h-0.75zM164.5 293.25h1v1h-1zM164.5 294.25h1.25v0.25h-1.25zM165.25 294.5h0.5v0.5h-0.5zM165.25 295h0.75v0.25h-0.75zM166.25 295.75h0.25v1h-0.25zM166 296.75h1v0.25h-1zM166 297h1.25v0.25h-1.25zM166.25 297.25h1v0.5h-1zM166.75 297.75h0.5v0.5h-0.5zM166.75 298.25h1v1h-1zM167 299.25h1.25v0.5h-1.25zM167.25 299.75h1.25v0.25h-1.25zM168 300h0.5v0.75h-0.5zM168 300.75h0.75v0.25h-0.75zM168.5 301h0.25v0.75h-0.25zM168.5 301.75h0.75v0.5h-0.75zM168.5 302.25h1v0.25h-1zM168.25 302.5h2v1h-2zM168.75 303.5h1.5v0.25h-1.5zM153.75 303h1.5v1.5h-1.5zM169.25 303.75h1v1h-1zM169.25 304.75h1.5v0.25h-1.5zM170 305h0.75v0.25h-0.75zM170 305.25h1.5v1h-1.5zM171.25 306.25h0.5v0.5h-0.5zM171.25 306.75h0.75v0.75h-0.75zM171.25 307.5h1.75v0.25h-1.75zM171.75 307.75h1.25v1.25h-1.25zM172.25 309h0.75v0.75h-0.75zM172.5 309.75h1.25v0.25h-1.25zM172.5 310h1.5v0.5h-1.5zM172.5 310.5h1.75v0.25h-1.75zM173.25 310.75h1v0.25h-1zM174.5 310.75h1.5v0.25h-1.5zM173.75 311h2.25v1h-2.25zM174.25 312h1.75v0.75h-1.75zM174.25 312.75h2.75v0.25h-2.75zM176 313h1v1.75h-1zM175.5 314.75h0.25v0.25h-0.25zM177.25 315h0.25v0.25h-0.25zM178.5 314.5h1.5v0.75h-1.5zM177.25 315.25h2.75v0.25h-2.75zM177.5 315.5h2.5v0.5h-2.5zM177.5 316h2v0.5h-2zM177.5 316.5h2.25v0.25h-2.25zM177.5 316.75h3.25v0.25h-3.25zM177.75 317h3v0.25h-3zM178.25 317.25h3.5v0.5h-3.5zM179.75 317.75h2v0.75h-2zM180 318.5h1.75v0.25h-1.75zM180.25 318.75h1.5v0.25h-1.5zM181 319h2.75v0.25h-2.75zM181.25 319.25h2.5v0.75h-2.5zM181.25 320h3.25v0.75h-3.25zM181.5 320.75h3v0.25h-3zM183 321h1.5v0.5h-1.5zM153.75 320h1.5v1.5h-1.5zM183 321.5h1.25v0.25h-1.25zM183 321.75h1.5v0.5h-1.5zM183 322.25h2v0.25h-2zM184.5 322.5h0.5v0.25h-0.5zM184.5 322.75h1.25v0.25h-1.25zM184.5 323h2.25v0.75h-2.25zM185.75 323.75h1v0.25h-1zM186 324h0.75v0.25h-0.75zM187.25 324.25h0.25v0.25h-0.25zM187.25 324.5h2.25v0.5h-2.25zM187.25 325h2.75v0.25h-2.75zM187.25 325.25h1.5v0.5h-1.5zM186.75 325.75h2v0.5h-2zM190.25 326.25h0.5v0.25h-0.5zM190.25 326.5h1v0.25h-1zM186.75 326.25h0.75v0.5h-0.75zM189 326.75h2.25v0.5h-2.25zM191.25 328.25h0.5v0.5h-0.5zM191 328.75h1.75v0.5h-1.75zM193.5 327.75h1.5v1.5h-1.5zM191 329.25h2v0.75h-2zM193.5 329.5h1.5v0.5h-1.5zM192.5 330h2.5v0.25h-2.5zM195.5 330h1.5v0.25h-1.5zM192.5 330.25h4.5v0.5h-4.5zM194.75 330.75h3.75v0.75h-3.75zM196.5 331.5h2v0.5h-2zM196.5 332h3.5v0.25h-3.5zM194.75 331.5h0.25v1.25h-0.25zM196.5 332.25h1.75v0.75h-1.75zM194 332.75h1v0.25h-1zM198.5 332.25h1.5v0.75h-1.5zM195.25 333h4.75v0.5h-4.75zM200.75 333.5h2.5v0.5h-2.5zM195.25 333.5h4.5v0.5h-4.5zM197 334h3v0.5h-3zM200.25 334h3v0.5h-3zM198 334.5h5.25v0.5h-5.25zM184.25 334.5h0.5v0.5h-0.5zM208.25 335h1.5v0.5h-1.5zM198 335h5v0.5h-5zM204.75 335h1.5v1h-1.5zM199.75 335.5h4.75v0.5h-4.75zM203.5 336h2.75v0.5h-2.75zM207 335.5h2.75v1h-2.75zM207 336.5h1.5v0.25h-1.5zM201 336h1v0.75h-1zM208 336.75h0.5v0.25h-0.5zM203.5 336.5h1.5v0.75h-1.5zM203.5 337.25h0.25v0.25h-0.25zM201.75 336.75h0.25v0.75h-0.25zM205.5 336.75h1v1.25h-1zM205.25 338h1.25v0.25h-1.25zM208 337.25h0.5v1h-0.5zM201.75 337.5h2v0.75h-2zM207 338.25h1.5v0.25h-1.5zM205.25 338.25h1.5v0.25h-1.5zM201 338.25h2.75v0.25h-2.75zM203.25 338.5h0.5v0.25h-0.5zM210.25 338.5h1.5v0.75h-1.5zM206.25 338.5h3.25v0.75h-3.25zM203.25 338.75h1.5v0.5h-1.5zM206.25 339.25h5.5v0.75h-5.5zM215.75 339.25h1.5v1.5h-1.5zM207 340h1.25v0.75h-1.25zM213.25 340h1.5v1.5h-1.5zM191.25 340.75h0.25v0.75h-0.25zM211.25 340h1v1.5h-1zM205.25 341.5h1.25v0.25h-1.25zM210.25 341.75h0.25v0.5h-0.25zM210 342.25h0.5v0.25h-0.5zM216.25 341.75h1.5v0.75h-1.5zM221.75 341.75h2.75v0.75h-2.75zM190.25 341.75h1.25v0.75h-1.25zM212 341.75h1.25v0.75h-1.25zM207 342.25h1.5v0.25h-1.5zM214.25 341.75h1.5v0.75h-1.5zM190.25 342.5h1v0.75h-1zM217 342.5h2.25v0.75h-2.25zM222 342.5h2.5v0.75h-2.5zM217 343.25h0.25v0.25h-0.25zM217.75 343.25h1.5v0.25h-1.5zM213.5 342.5h2v1h-2zM222.5 343.25h1.5v0.25h-1.5zM222 343.5h2.25v0.5h-2.25zM215.25 343.5h0.25v0.5h-0.25zM219 343.5h0.25v1h-0.25zM227.25 343.5h1.5v1h-1.5zM230.25 343.5h1.5v1h-1.5zM212.75 344h0.5v0.5h-0.5zM229.75 344.5h2v0.5h-2zM217.25 343.5h0.25v1.5h-0.25zM221.75 344h2.5v1h-2.5zM226 344.5h3v1h-3zM216.5 345h1.25v0.5h-1.25zM221 345h1.75v0.5h-1.75zM229.75 345h1.5v0.5h-1.5zM213.5 345h0.5v0.5h-0.5zM218.25 345h0.25v0.5h-0.25zM226 345.5h0.75v0.5h-0.75zM217.75 345.5h0.75v0.5h-0.75zM228.25 345.5h3v0.5h-3zM228.75 346h2.25v0.75h-2.25zM217.75 346h1.5v0.75h-1.5zM238.25 345.5h2v1.25h-2zM236.75 346.75h3.5v0.25h-3.5zM228.25 346.75h0.25v0.25h-0.25zM222.75 345.5h1.5v1.5h-1.5zM225.75 346.75h1v0.25h-1zM228.75 346.75h3v0.25h-3zM222.75 347h5.75v1h-5.75zM238.5 347h1.5v1h-1.5zM229.5 347h2.25v1h-2.25zM236.75 347h1.5v1h-1.5zM220.75 347h0.5v1h-0.5zM198.25 347h0.25v1.25h-0.25zM230 348h1.75v0.25h-1.75zM228.25 348h0.25v0.25h-0.25zM238.5 348h3.25v0.25h-3.25zM244.5 348h1v0.25h-1zM231.5 348.25h1.5v1.25h-1.5zM222 348.25h0.5v1.25h-0.5zM226.25 348h0.25v1.5h-0.25zM238.75 348.25h3v1.25h-3zM230 348.25h0.75v1.25h-0.75zM235 348h3.25v1.5h-3.25zM244 348.25h1.5v1.25h-1.5zM244.75 349.5h2.25v1.5h-2.25zM235.75 349.5h0.5v1.5h-0.5zM198.75 349.5h0.5v1.5h-0.5zM240.25 349.5h0.5v1.5h-0.5zM229.5 349.5h3.25v1.5h-3.25zM225 349.5h1.25v1.5h-1.25zM238.25 351h3v1.5h-3zM241.5 351h5v1.5h-5zM232 352.75h0.25v1.5h-0.25zM242.25 352.75h1v1.5h-1zM203.25 352.75h1.5v1.5h-1.5zM235.75 352.75h1.75v1.5h-1.75zM246.5 352.75h0.5v1.5h-0.5zM240.75 354.75h0.75v1.5h-0.75zM243.75 354.75h0.75v1.5h-0.75zM206 359.5h1.5v1.5h-1.5zM212.75 362.75h0.25v1.5h-0.25zM217.25 367h0.75v1.5h-0.75zM207.5 367h0.25v1.5h-0.25zM213.25 367h0.5v1.5h-0.5zM155 373h0.75v1.5h-0.75z" fill="#ff0000"/>
<path d="M154.25 265.5h1.75v1h-1.75zM154.25 266.5h2v1.25h-2zM154.25 267.75h2.25v0.25h-2.25zM154.5 268h2v0.25h-2zM154.5 268.25h2.25v0.5h-2.25zM154.75 268.75h2v0.5h-2zM154.75 269.25h2.25v0.25h-2.25zM155 269.5h2v0.5h-2zM155.25 270h2v1h-2zM155.25 271h2.25v0.25h-2.25zM155.5 271.25h2v0.75h-2zM155.5 272h2.25v0.25h-2.25zM155.75 272.25h2v0.75h-2zM153.5 271.75h1.5v1.5h-1.5zM155.75 273h2.25v0.25h-2.25zM156 273.25h2v0.75h-2zM156.25 274h2v1h-2zM156.5 275h2v0.75h-2zM156.5 275.75h2.25v0.25h-2.25zM156.75 276h2v0.75h-2zM156.75 276.75h2.25v0.5h-2.25zM157 277.25h2v0.25h-2zM157 277.5h2.25v0.25h-2.25zM157.25 277.75h2v0.5h-2zM157.25 278.25h2.25v0.5h-2.25zM157.5 278.75h2v0.75h-2zM153.5 278.5h1.5v1.5h-1.5zM157.75 279.5h2v0.75h-2zM157.75 280.25h2.25v0.5h-2.25zM157.75 280.75h2.5v0.5h-2.5zM158 281.25h2.5v0.5h-2.5zM158.25 281.75h2.25v0.5h-2.25zM158.5 282.25h2v0.5h-2zM158.5 282.75h2.5v0.5h-2.5zM158.75 283.25h2.25v0.75h-2.25zM159 284h2.25v1.25h-2.25zM159.25 285.25h2.25v0.5h-2.25zM159.5 285.75h2.25v0.75h-2.25zM159.75 286.5h2v0.25h-2zM159.75 286.75h2.25v0.5h-2.25zM160 287.25h2.25v0.5h-2.25zM160 287.75h2.5v0.25h-2.5zM160.25 288h2.25v0.75h-2.25zM160.25 288.75h2.5v0.75h-2.5zM160.5 289.5h2.25v0.25h-2.25zM160.75 289.75h2.25v0.25h-2.25zM160.75 290h2.5v0.25h-2.5zM161 290.25h2.25v0.5h-2.25zM161.25 290.75h2.25v0.25h-2.25zM161.25 291h2.5v0.75h-2.5zM161.5 291.75h2.25v0.75h-2.25zM161.5 292.5h2.5v0.25h-2.5zM161.5 292.75h2.75v0.25h-2.75zM161.5 293h3v0.5h-3zM153.5 292.25h1.5v1.5h-1.5zM162 293.5h2.5v0.75h-2.5zM162.25 294.25h2.25v0.25h-2.25zM162.25 294.5h3v0.5h-3zM162.5 295h2.75v0.25h-2.75zM162.75 295.25h3.5v1h-3.5zM163 296.25h3.25v0.5h-3.25zM163 296.75h3v0.5h-3zM163 297.25h3.25v0.25h-3.25zM163.5 297.5h2.75v0.25h-2.75zM163.5 297.75h3.25v0.75h-3.25zM163.75 298.5h3v0.75h-3zM163.75 299.25h3.25v0.5h-3.25zM164.25 299.75h3v0.25h-3zM164.25 300h3.75v0.5h-3.75zM164.75 300.5h3.25v0.5h-3.25zM164.75 301h3.75v0.5h-3.75zM165 301.5h3.5v0.75h-3.5zM165.25 302.25h3.25v0.25h-3.25zM165.25 302.5h3v0.25h-3zM165.5 302.75h2.75v0.25h-2.75zM165.75 303h2.5v0.5h-2.5zM165.75 303.5h3v0.25h-3zM165.75 303.75h3.5v1h-3.5zM166.5 304.75h2.75v0.25h-2.75zM166.5 305h3.5v1.25h-3.5zM167 306.25h4.25v1.25h-4.25zM167.25 307.5h4v0.25h-4zM167.5 307.75h4.25v0.5h-4.25zM167.75 308.25h4v0.75h-4zM153.25 307.5h1.5v1.5h-1.5zM167.75 309h4.5v0.25h-4.5zM168.5 309.25h3.75v0.5h-3.75zM168.5 309.75h4v1h-4zM168.5 310.75h4.75v0.25h-4.75zM168.5 311h5.25v0.25h-5.25zM169 311.25h4.75v0.25h-4.75zM169.5 311.5h4.25v0.5h-4.25zM169.75 312h4.5v1h-4.5zM170 313h6v1.75h-6zM170.25 314.75h5.25v0.25h-5.25zM175.75 314.75h1.5v0.25h-1.5zM170.25 315h7v0.25h-7zM170.75 315.25h6.5v0.25h-6.5zM170.75 315.5h6.75v0.25h-6.75zM171.75 315.75h5.75v1.25h-5.75zM171.75 317h6v0.25h-6zM172.25 317.25h6v0.5h-6zM172.25 317.75h7.5v0.75h-7.5zM172.25 318.5h7.75v0.25h-7.75zM172.5 318.75h7.75v0.25h-7.75zM172.5 319h8.5v0.25h-8.5zM173.25 319.25h8v1h-8zM173.75 320.25h7.5v0.5h-7.5zM174 320.75h7.5v0.25h-7.5zM174 321h9v0.25h-9zM174.75 321.25h8.25v0.75h-8.25zM175 322h8v0.5h-8zM175 322.5h9.5v0.25h-9.5zM175.5 322.75h9v1h-9zM175.75 323.75h10v0.25h-10zM176.25 324h9.75v0.25h-9.75zM176.25 324.25h11v0.5h-11zM176.5 324.75h10.75v0.5h-10.75zM177 325.25h10.25v0.5h-10.25zM188.75 325.25h1.5v1h-1.5zM177.75 325.75h9v0.75h-9zM178.25 326.5h8.5v0.25h-8.5zM187.5 326.25h2.75v0.5h-2.75zM178.25 326.75h10.75v0.5h-10.75zM178.25 327.25h13v0.5h-13zM179 327.75h12.25v1h-12.25zM180.25 328.75h10.75v0.25h-10.75zM180.5 329h10.5v1h-10.5zM180.75 330h11.75v0.25h-11.75zM182 330.25h10.5v0.5h-10.5zM181 330.75h13.75v1.5h-13.75zM181.75 332.25h1.5v0.5h-1.5zM183.5 332.25h11.25v0.5h-11.25zM183.5 332.75h10.5v0.25h-10.5zM195 331.5h1.5v1.5h-1.5zM182.75 333h12.5v1h-12.5zM182.75 334h14.25v0.5h-14.25zM184.75 334.5h13.25v1h-13.25zM186.25 335.5h13.5v0.5h-13.5zM184.5 336h16.5v0.75h-16.5zM202 336h1.5v1.5h-1.5zM184.5 336.75h17.25v0.75h-17.25zM186.5 337.5h1.5v0.5h-1.5zM206.5 336.75h1.5v1.5h-1.5zM188.25 337.5h13.5v0.75h-13.5zM186.25 338h1.75v0.25h-1.75zM203.75 337.25h1.5v1.25h-1.5zM186.25 338.25h1.5v0.25h-1.5zM189.5 338.25h11.5v0.25h-11.5zM203.75 338.5h2.5v0.25h-2.5zM204.75 338.75h1.5v0.5h-1.5zM186.25 338.5h17v0.75h-17zM186.25 339.25h20v0.25h-20zM187.75 339.5h18.5v0.5h-18.5zM208.25 340h3v0.75h-3zM188.25 340h18.75v0.75h-18.75zM191.5 340.75h19.75v0.75h-19.75zM188.25 340.75h3v0.75h-3zM153.5 340h1.5v1.5h-1.5zM218.5 340h1.5v1.5h-1.5zM206.5 341.5h3.75v0.25h-3.75zM193.5 341.5h11.75v0.25h-11.75zM192 341.75h18.25v0.5h-18.25zM208.5 342.25h1.5v0.25h-1.5zM210.5 341.75h1.5v0.75h-1.5zM192 342.25h15v0.25h-15zM188.75 341.75h1.5v1.5h-1.5zM191.25 342.5h22.25v0.75h-22.25zM220.5 342.5h1.5v1h-1.5zM191.25 343.25h1.5v0.25h-1.5zM193.5 343.25h20v0.25h-20zM215.5 342.5h1.5v1h-1.5zM220.25 343.5h1.75v0.5h-1.75zM191.25 343.5h24v0.5h-24zM215.5 343.5h1.75v0.5h-1.75zM215.75 344h1.5v0.5h-1.5zM213.25 344h2v0.5h-2zM192.75 344h20v0.5h-20zM217.5 343.5h1.5v1h-1.5zM220.25 344h1.5v1h-1.5zM192.75 344.5h24.5v0.5h-24.5zM217.5 344.5h2.5v0.5h-2.5zM214 345h2.5v0.5h-2.5zM218.5 345h1.5v0.5h-1.5zM194 345h19.5v0.5h-19.5zM218.5 345.5h4.25v0.5h-4.25zM194 345.5h23.75v0.5h-23.75zM219.25 346h3.5v0.75h-3.5zM196 346h21.75v0.75h-21.75zM196 346.75h26.75v0.25h-26.75zM224.25 345.5h1.5v1.5h-1.5zM226.75 345.5h1.5v1.5h-1.5zM231.75 346.75h1.5v1.25h-1.5zM198.5 347h22.25v1h-22.25zM221.25 347h1.5v1h-1.5zM243 346.75h1.5v1.5h-1.5zM198.5 348h27.75v0.25h-27.75zM196.75 347h1.5v1.25h-1.5zM231.75 348h3.25v0.25h-3.25zM228.5 348h1.5v1.5h-1.5zM226.5 348h1.75v1.5h-1.75zM233 348.25h2v1.25h-2zM222.5 348.25h3.75v1.25h-3.75zM195 348h1.5v1.5h-1.5zM198.5 348.25h23.5v1.25h-23.5zM199.25 349.5h25.75v1.5h-25.75zM236.25 349.5h4v1.5h-4zM226.25 349.5h3.25v1.5h-3.25zM242.25 349.5h1.5v1.5h-1.5zM232.75 349.5h3v1.5h-3zM202.25 351h36v1.5h-36zM199.5 351h2.5v1.5h-2.5zM246.5 351h0.5v1.5h-0.5zM232.25 352.75h3.5v1.5h-3.5zM243.25 352.75h3.25v1.5h-3.25zM204.75 352.75h27.25v1.5h-27.25zM199.25 352.75h4v1.5h-4zM237.5 352.75h4.75v1.5h-4.75zM203 354.75h37.75v1.5h-37.75zM244.5 354.75h2.5v1.5h-2.5zM241.5 354.75h2.25v1.5h-2.25zM206.25 357h40.75v1.5h-40.75zM211 359.5h36v1.5h-36zM213 362.75h34v1.5h-34zM218.5 367h28.5v1.5h-28.5zM206 367h1.5v1.5h-1.5zM209 367h1.5v1.5h-1.5zM211.75 367h1.5v1.5h-1.5zM151.75 367h4v1.5h-4zM214.25 367h3v1.5h-3zM151.75 373h3.25v1.5h-3.25zM219.5 373h27.5v1.5h-27.5z" fill="#000"/>
</g>
<rect x="151.6" y="265.5" width="95.30000000000001" height="112.39999999999998" fill="none" stroke="#777" stroke-width="0.9"/>
<line x1="150.30" y1="266.80" x2="152.40" y2="266.80" stroke="#444" stroke-width="0.7"/>
<text x="149.10" y="269.00" font-size="6.0" text-anchor="end" fill="#333">10<tspan font-size="4.2" dy="-2.8">0</tspan></text>
<line x1="151.60" y1="290.33" x2="152.60" y2="290.33" stroke="#555" stroke-width="0.5"/>
<line x1="151.60" y1="284.41" x2="152.60" y2="284.41" stroke="#555" stroke-width="0.5"/>
<line x1="151.60" y1="280.20" x2="152.60" y2="280.20" stroke="#555" stroke-width="0.5"/>
<line x1="151.60" y1="276.94" x2="152.60" y2="276.94" stroke="#555" stroke-width="0.5"/>
<line x1="151.60" y1="274.27" x2="152.60" y2="274.27" stroke="#555" stroke-width="0.5"/>
<line x1="151.60" y1="272.02" x2="152.60" y2="272.02" stroke="#555" stroke-width="0.5"/>
<line x1="151.60" y1="270.06" x2="152.60" y2="270.06" stroke="#555" stroke-width="0.5"/>
<line x1="151.60" y1="268.34" x2="152.60" y2="268.34" stroke="#555" stroke-width="0.5"/>
<line x1="150.30" y1="300.47" x2="152.40" y2="300.47" stroke="#444" stroke-width="0.7"/>
<text x="149.10" y="302.67" font-size="6.0" text-anchor="end" fill="#333">10<tspan font-size="4.2" dy="-2.8">-1</tspan></text>
<line x1="151.60" y1="324.00" x2="152.60" y2="324.00" stroke="#555" stroke-width="0.5"/>
<line x1="151.60" y1="318.08" x2="152.60" y2="318.08" stroke="#555" stroke-width="0.5"/>
<line x1="151.60" y1="313.87" x2="152.60" y2="313.87" stroke="#555" stroke-width="0.5"/>
<line x1="151.60" y1="310.61" x2="152.60" y2="310.61" stroke="#555" stroke-width="0.5"/>
<line x1="151.60" y1="307.94" x2="152.60" y2="307.94" stroke="#555" stroke-width="0.5"/>
<line x1="151.60" y1="305.69" x2="152.60" y2="305.69" stroke="#555" stroke-width="0.5"/>
<line x1="151.60" y1="303.73" x2="152.60" y2="303.73" stroke="#555" stroke-width="0.5"/>
<line x1="151.60" y1="302.01" x2="152.60" y2="302.01" stroke="#555" stroke-width="0.5"/>
<line x1="150.30" y1="334.14" x2="152.40" y2="334.14" stroke="#444" stroke-width="0.7"/>
<text x="149.10" y="336.34" font-size="6.0" text-anchor="end" fill="#333">10<tspan font-size="4.2" dy="-2.8">-2</tspan></text>
<line x1="151.60" y1="357.67" x2="152.60" y2="357.67" stroke="#555" stroke-width="0.5"/>
<line x1="151.60" y1="351.75" x2="152.60" y2="351.75" stroke="#555" stroke-width="0.5"/>
<line x1="151.60" y1="347.54" x2="152.60" y2="347.54" stroke="#555" stroke-width="0.5"/>
<line x1="151.60" y1="344.28" x2="152.60" y2="344.28" stroke="#555" stroke-width="0.5"/>
<line x1="151.60" y1="341.61" x2="152.60" y2="341.61" stroke="#555" stroke-width="0.5"/>
<line x1="151.60" y1="339.36" x2="152.60" y2="339.36" stroke="#555" stroke-width="0.5"/>
<line x1="151.60" y1="337.40" x2="152.60" y2="337.40" stroke="#555" stroke-width="0.5"/>
<line x1="151.60" y1="335.68" x2="152.60" y2="335.68" stroke="#555" stroke-width="0.5"/>
<line x1="150.30" y1="367.81" x2="152.40" y2="367.81" stroke="#444" stroke-width="0.7"/>
<text x="149.10" y="370.01" font-size="6.0" text-anchor="end" fill="#333">10<tspan font-size="4.2" dy="-2.8">-3</tspan></text>
<line x1="151.60" y1="375.28" x2="152.60" y2="375.28" stroke="#555" stroke-width="0.5"/>
<line x1="151.60" y1="373.03" x2="152.60" y2="373.03" stroke="#555" stroke-width="0.5"/>
<line x1="151.60" y1="371.07" x2="152.60" y2="371.07" stroke="#555" stroke-width="0.5"/>
<line x1="151.60" y1="369.35" x2="152.60" y2="369.35" stroke="#555" stroke-width="0.5"/>
<line x1="167.50" y1="377.90" x2="167.50" y2="378.90" stroke="#444" stroke-width="0.7"/>
<text x="167.50" y="385.70" font-size="6.2" text-anchor="middle" fill="#222">100</text>
<line x1="187.35" y1="377.90" x2="187.35" y2="378.90" stroke="#444" stroke-width="0.7"/>
<text x="187.35" y="385.70" font-size="6.2" text-anchor="middle" fill="#222">200</text>
<line x1="207.20" y1="377.90" x2="207.20" y2="378.90" stroke="#444" stroke-width="0.7"/>
<text x="207.20" y="385.70" font-size="6.2" text-anchor="middle" fill="#222">300</text>
<line x1="227.05" y1="377.90" x2="227.05" y2="378.90" stroke="#444" stroke-width="0.7"/>
<text x="227.05" y="385.70" font-size="6.2" text-anchor="middle" fill="#222">400</text>
<line x1="246.90" y1="377.90" x2="246.90" y2="378.90" stroke="#444" stroke-width="0.7"/>
<text x="246.90" y="385.70" font-size="6.2" text-anchor="middle" fill="#222">500</text>
<line x1="157.57" y1="377.90" x2="157.57" y2="378.70" stroke="#555" stroke-width="0.6"/>
<line x1="177.43" y1="377.90" x2="177.43" y2="378.70" stroke="#555" stroke-width="0.6"/>
<line x1="197.28" y1="377.90" x2="197.28" y2="378.70" stroke="#555" stroke-width="0.6"/>
<line x1="217.12" y1="377.90" x2="217.12" y2="378.70" stroke="#555" stroke-width="0.6"/>
<line x1="236.97" y1="377.90" x2="236.97" y2="378.70" stroke="#555" stroke-width="0.6"/>
<text x="184.40" y="399.50" font-size="7.3" text-anchor="start" fill="#111">Time (ns)</text>
<text x="136.90" y="321.50" font-size="7.9" text-anchor="middle" fill="#111" transform="rotate(-90 136.90 321.50)">Normalized Intensity (a. u.)</text>
<text x="160.30" y="274.70" font-size="9.6" text-anchor="start" fill="#222">(e)</text>
<rect x="189.0" y="272.09999999999997" width="1.6" height="1.6" fill="#000"/>
<text x="197.20" y="275.20" font-size="6.2" text-anchor="start" fill="#000">Without TBP</text>
<rect x="188.9" y="280.70000000000005" width="1.8" height="1.8" fill="#ff0000"/>
<text x="197.20" y="283.90" font-size="6.2" text-anchor="start" fill="#000">With TBP</text>
<rect x="208.1" y="297.3" width="35.40" height="8.60" fill="#000"/>
<text x="225.80" y="303.80" font-size="6.6" class="w" text-anchor="middle" fill="#c8c8c8" font-family="'Liberation Serif', serif" textLength="30.4" lengthAdjust="spacingAndGlyphs">0.&#160;03 mmol</text>
<clipPath id="cpf"><rect x="277.6" y="265.5" width="96.0" height="112.39999999999998"/></clipPath>
<g clip-path="url(#cpf)">
<path d="M282.5 265.5h0.25v0.75h-0.25zM282.75 267h0.25v0.5h-0.25zM283 268h0.25v0.25h-0.25zM283.25 269h0.25v0.5h-0.25zM283.25 269.5h0.5v0.25h-0.5zM283.5 269.75h0.25v0.5h-0.25zM283.75 270.75h0.25v1h-0.25zM284 272h0.25v0.75h-0.25zM284.25 272.75h0.25v1.25h-0.25zM280.25 272.75h1.5v1.5h-1.5zM284.25 274h0.5v0.25h-0.5zM284.5 274.25h0.25v0.75h-0.25zM284.5 275h0.5v0.25h-0.5zM284.75 275.25h0.25v1.25h-0.25zM284.75 276.5h0.5v0.25h-0.5zM285 276.75h0.25v0.25h-0.25zM285.25 277h0.25v1.5h-0.25zM285.25 278.5h0.5v0.25h-0.5zM285.5 278.75h0.25v0.5h-0.25zM285.5 279.25h0.5v0.75h-0.5zM285.75 280h0.25v0.75h-0.25zM285.75 280.75h0.5v0.25h-0.5zM286.25 281.75h0.25v0.5h-0.25zM286.25 282.25h0.5v0.5h-0.5zM286.25 282.75h0.75v0.75h-0.75zM286.5 283.5h0.5v1h-0.5zM286.75 284.5h0.5v0.5h-0.5zM286.75 285h1v0.25h-1zM287 285.25h0.75v1.25h-0.75zM287.25 286.5h0.5v0.5h-0.5zM287.5 287h0.25v0.5h-0.25zM287.5 287.5h0.5v0.75h-0.5zM287.75 288.25h0.5v0.25h-0.5zM287.75 288.5h0.75v0.25h-0.75zM288 288.75h0.5v1h-0.5zM288.25 289.75h0.5v1h-0.5zM288.25 290.75h0.75v0.25h-0.75zM288.25 291h1v0.25h-1zM288.5 291.25h0.75v0.25h-0.75zM288.75 291.5h0.5v0.75h-0.5zM289 292.25h0.25v0.25h-0.25zM289 292.5h0.5v0.5h-0.5zM289 293h0.75v0.25h-0.75zM289.25 293.25h0.5v0.25h-0.5zM289.25 293.5h0.75v0.5h-0.75zM289.5 294h0.5v1h-0.5zM290 295h0.25v0.5h-0.25zM290 295.5h0.5v0.5h-0.5zM290 296h0.75v0.75h-0.75zM290.25 296.75h0.5v0.25h-0.5zM280.25 296.25h1.5v1.5h-1.5zM290.5 297h0.5v0.75h-0.5zM290.5 297.75h0.75v0.25h-0.75zM290.5 298h1v0.5h-1zM290.75 298.5h0.75v0.75h-0.75zM291 299.25h0.75v0.75h-0.75zM291.25 300h0.5v0.25h-0.5zM291.25 300.25h0.75v0.5h-0.75zM291.5 300.75h0.5v0.5h-0.5zM291.75 301.25h0.5v0.25h-0.5zM291.75 301.5h0.75v0.25h-0.75zM292 301.75h0.5v0.75h-0.5zM292 302.5h0.75v0.75h-0.75zM292.75 303.5h0.25v0.75h-0.25zM292.75 304.25h0.5v0.25h-0.5zM292.75 304.5h1v0.25h-1zM293 304.75h0.75v0.25h-0.75zM293 305h1v0.75h-1zM293.5 305.75h0.5v0.5h-0.5zM293.5 306.25h1v0.5h-1zM293.5 306.75h1.25v1h-1.25zM294.25 307.75h0.5v0.5h-0.5zM294.25 308.25h1v1.25h-1zM294.5 309.5h1v0.25h-1zM294.75 309.75h0.75v0.5h-0.75zM294.75 310.25h1.25v0.5h-1.25zM295.25 310.75h0.75v1.5h-0.75zM295.25 312.25h1v0.25h-1zM295.75 312.5h1.25v0.25h-1.25zM296 312.75h1v0.25h-1zM296 313h1.25v1.25h-1.25zM296.25 314.25h1.25v0.25h-1.25zM296.5 314.5h1v0.75h-1zM297.25 315.25h0.75v0.75h-0.75zM297.75 316h0.75v1.25h-0.75zM297.75 317.25h1v0.25h-1zM297.5 317.5h1.25v0.25h-1.25zM280.25 316.5h1.5v1.5h-1.5zM297.5 317.75h1.75v0.25h-1.75zM298 318h1.25v0.25h-1.25zM298 318.25h1.75v0.5h-1.75zM299.25 318.75h0.5v1h-0.5zM299.25 320h0.25v0.5h-0.25zM299.5 320.5h0.5v0.25h-0.5zM299.5 320.75h0.75v0.25h-0.75zM299.5 321h1.25v1h-1.25zM300.5 322h1.75v1.5h-1.75zM300.5 323.5h1.25v0.25h-1.25zM301 323.75h1.25v0.25h-1.25zM301 324h2v1h-2zM302.25 325h0.75v0.25h-0.75zM302.25 325.25h1.5v0.75h-1.5zM302.25 326h1.75v0.5h-1.75zM301.75 326.5h2.25v0.75h-2.25zM302.5 327.25h1.5v0.25h-1.5zM304.25 327.5h0.5v0.25h-0.5zM297.25 328h0.25v0.25h-0.25zM304.25 327.75h1.75v0.5h-1.75zM304.25 328.25h3.25v0.25h-3.25zM302.5 327.5h0.25v1h-0.25zM304.25 328.5h3.5v0.5h-3.5zM304.5 329h3.25v0.25h-3.25zM304 329h0.25v0.25h-0.25zM304 329.25h3.75v0.25h-3.75zM304.25 329.5h3.5v0.5h-3.5zM304.25 330h2.75v0.25h-2.75zM304.25 330.25h4.5v0.75h-4.5zM300 331h0.25v0.25h-0.25zM303.75 331h5v0.25h-5zM304.75 331.25h5v0.5h-5zM308.25 331.75h1.5v0.25h-1.5zM304.75 331.75h3.25v0.25h-3.25zM304.75 332h0.25v0.5h-0.25zM306.5 332h3.25v0.75h-3.25zM306.5 332.75h2.5v0.75h-2.5zM306.25 333.5h2.75v0.5h-2.75zM306.25 334h3.75v0.5h-3.75zM307.25 334.5h2.75v1h-2.75zM308.5 335.5h3.5v0.5h-3.5zM309 336h3v0.75h-3zM309 336.75h3.25v0.75h-3.25zM308.25 337.5h4v0.5h-4zM309.75 338h3v1.25h-3zM314.25 339.25h1.5v0.75h-1.5zM311 339.25h2.25v0.75h-2.25zM311 340h4.75v0.75h-4.75zM315.75 340.75h1.75v1h-1.75zM311.5 340.75h1.25v1.5h-1.25zM315.75 341.75h2v0.5h-2zM315.5 342.25h2.25v0.25h-2.25zM311.5 342.25h3.5v0.25h-3.5zM314.75 342.5h3v0.75h-3zM311.75 342.5h0.5v1h-0.5zM314.75 343.25h2.75v0.25h-2.75zM314.75 343.5h3.75v0.5h-3.75zM317 344h1.5v0.5h-1.5zM313.5 344h1.75v0.5h-1.75zM313.5 344.5h6v0.5h-6zM313.25 345h6.25v0.5h-6.25zM315.5 345.5h6v0.5h-6zM324.5 344.5h1.5v1.5h-1.5zM315.5 346h1.5v0.75h-1.5zM317.5 346h4v0.75h-4zM322.75 345.5h1.5v1.25h-1.5zM330.5 345.5h1.5v1.5h-1.5zM317.5 346.75h8v1.25h-8zM312.5 347h0.25v1h-0.25zM326.25 346.75h1.5v1.25h-1.5zM305.75 347h0.5v1.25h-0.5zM325.75 348h2v0.25h-2zM325.75 348.25h1.25v1.25h-1.25zM306.75 348.25h0.75v1.25h-0.75zM329.5 348h1.5v1.5h-1.5zM320.5 348h2.5v1.5h-2.5zM322.25 349.5h7.5v1.5h-7.5zM339.5 349.5h1.5v1.5h-1.5zM336.25 349.5h1.5v1.5h-1.5zM334 349.5h1.5v1.5h-1.5zM343.5 349.5h1.5v1.5h-1.5zM352 351h2v1.5h-2zM328.25 351h0.75v1.5h-0.75zM338.5 351h1.5v1.5h-1.5zM333.25 351h2.5v1.5h-2.5zM330.5 351h1.25v1.5h-1.25zM343.75 351h1.5v1.5h-1.5zM308.5 351h0.25v1.5h-0.25zM337.25 352.75h1.5v1.5h-1.5zM321.5 352.75h0.25v1.5h-0.25zM341.25 352.75h3.25v1.5h-3.25zM333.75 352.75h2.25v1.5h-2.25zM326.75 352.75h0.25v1.5h-0.25zM343.25 354.75h2.25v1.5h-2.25zM365.75 354.75h1.5v1.5h-1.5zM351.75 354.75h1v1.5h-1zM362.25 354.75h1.5v1.5h-1.5zM356.75 354.75h1.5v1.5h-1.5zM340.25 354.75h1.5v1.5h-1.5zM332 354.75h0.25v1.5h-0.25zM346 354.75h1.5v1.5h-1.5zM359.25 354.75h1.5v1.5h-1.5zM366.5 357h0.75v1.5h-0.75zM373 357h0.75v1.5h-0.75zM361 357h1.75v1.5h-1.75zM348 357h10.75v1.5h-10.75zM359.25 357h1.5v1.5h-1.5zM357.5 359.5h1.75v1.5h-1.75zM365.75 359.5h2.25v1.5h-2.25zM370.75 359.5h1.25v1.5h-1.25zM361.5 359.5h0.5v1.5h-0.5zM370.75 362.75h0.25v1.5h-0.25zM370 367h0.25v1.5h-0.25z" fill="#ff0000"/>
<path d="M280.75 265.5h1.75v0.75h-1.75zM280.75 266.25h2v0.5h-2zM281 266.75h1.75v0.75h-1.75zM281 267.5h2v0.75h-2zM281.25 268.25h2v1h-2zM281.5 269.25h1.75v0.5h-1.75zM281.5 269.75h2v0.5h-2zM281.75 270.25h2v1.5h-2zM282 271.75h2v0.75h-2zM282.25 272.5h1.75v0.25h-1.75zM282.25 272.75h2v0.75h-2zM282.5 273.5h1.75v0.75h-1.75zM282.5 274.25h2v0.25h-2zM282.75 274.5h1.75v0.75h-1.75zM282.75 275.25h2v0.25h-2zM283 275.5h1.75v1.25h-1.75zM283 276.75h2v0.25h-2zM283.25 277h2v1.25h-2zM283.5 278.25h1.75v0.5h-1.75zM283.5 278.75h2v0.75h-2zM283.75 279.5h1.75v0.5h-1.75zM283.75 280h2v0.75h-2zM284 280.75h1.75v0.25h-1.75zM284 281h2.25v0.75h-2.25zM284.25 281.75h2v0.75h-2zM280.25 281.25h1.5v1.5h-1.5zM284.5 282.5h1.75v1h-1.75zM284.5 283.5h2v0.5h-2zM284.75 284h1.75v0.5h-1.75zM284.75 284.5h2v0.75h-2zM284.75 285.25h2.25v0.25h-2.25zM285 285.5h2v1h-2zM285 286.5h2.25v0.5h-2.25zM285.25 287h2.25v1h-2.25zM285.5 288h2v0.25h-2zM285.5 288.25h2.25v0.25h-2.25zM285.75 288.5h2v0.25h-2zM285.75 288.75h2.25v1h-2.25zM286 289.75h2.25v1h-2.25zM286.25 290.75h2v0.5h-2zM286.25 291.25h2.25v0.25h-2.25zM286.25 291.5h2.5v0.25h-2.5zM286.5 291.75h2.25v0.5h-2.25zM280.25 291.25h1.5v1.5h-1.5zM286.5 292.25h2.5v0.5h-2.5zM286.75 292.75h2.25v0.25h-2.25zM287 293h2v0.25h-2zM287 293.25h2.25v0.75h-2.25zM287 294h2.5v0.5h-2.5zM287.25 294.5h2.25v0.25h-2.25zM287.5 294.75h2v0.25h-2zM287.5 295h2.5v0.25h-2.5zM287.75 295.25h2.25v1.5h-2.25zM287.75 296.75h2.5v0.25h-2.5zM288 297h2.5v0.75h-2.5zM288.25 297.75h2.25v0.25h-2.25zM288.5 298h2v0.5h-2zM288.5 298.5h2.25v0.75h-2.25zM288.75 299.25h2.25v0.75h-2.25zM289 300h2.25v0.75h-2.25zM289.25 300.75h2.25v0.5h-2.25zM289.25 301.25h2.5v0.5h-2.5zM289.25 301.75h2.75v0.75h-2.75zM289.5 302.5h2.5v0.5h-2.5zM289.75 303h2.25v0.25h-2.25zM289.75 303.25h3v0.75h-3zM290 304h2.75v0.25h-2.75zM290.25 304.25h2.5v0.5h-2.5zM290.25 304.75h2.75v0.75h-2.75zM290.5 305.5h2.5v0.25h-2.5zM290.5 305.75h3v2h-3zM290.75 307.75h3.5v0.25h-3.5zM291 308h3.25v0.75h-3.25zM291.25 308.75h3v0.25h-3zM291.75 309h2.5v0.5h-2.5zM280.25 308.25h1.5v1.5h-1.5zM291.75 309.5h2.75v0.25h-2.75zM292 309.75h2.75v0.5h-2.75zM291.5 310.25h3.25v0.5h-3.25zM291.5 310.75h3.75v1h-3.75zM292.25 311.75h3v0.25h-3zM292.5 312h2.75v0.25h-2.75zM292.75 312.25h2.5v0.25h-2.5zM292.75 312.5h3v0.25h-3zM292.75 312.75h3.25v1.5h-3.25zM292.75 314.25h3.5v0.25h-3.5zM293.5 314.5h3v0.75h-3zM293.5 315.25h3.75v0.75h-3.75zM294 316h3.75v1.25h-3.75zM294.25 317.25h3.5v0.25h-3.5zM294.25 317.5h3.25v0.5h-3.25zM294.25 318h3.75v0.5h-3.75zM294.75 318.5h3.25v0.25h-3.25zM295 318.75h4.25v0.25h-4.25zM294.75 319h4.5v1.5h-4.5zM295.25 320.5h4.25v1.5h-4.25zM295.25 322h5.25v0.75h-5.25zM295.75 322.75h4.75v1h-4.75zM296 323.75h5v1h-5zM296.5 324.75h4.5v0.25h-4.5zM296.5 325h5.75v0.25h-5.75zM297.25 325.25h5v1.25h-5zM297.25 326.5h4.5v0.75h-4.5zM297.25 327.25h5.25v0.75h-5.25zM297.5 328h5v0.5h-5zM302.75 327.5h1.5v1h-1.5zM297.5 328.5h6.75v0.25h-6.75zM297.25 328.75h7v0.25h-7zM297.25 329h6.75v0.5h-6.75zM297.25 329.5h7v0.75h-7zM298.5 330.25h5.75v0.5h-5.75zM299.25 330.75h5v0.25h-5zM300.25 331h3.5v0.25h-3.5zM299.75 331.25h5v0.25h-5zM280 330h1.5v1.5h-1.5zM299 331.5h5.75v1h-5.75zM305 332h1.5v0.5h-1.5zM299 332.5h7.5v1h-7.5zM300.25 333.5h6v1h-6zM299.75 334.5h7.5v1h-7.5zM299.75 335.5h8.75v0.5h-8.75zM301.25 336h7.75v0.5h-7.75zM301.5 336.5h7.5v1h-7.5zM302 337.5h6.25v0.5h-6.25zM302 338h7.75v0.25h-7.75zM302.25 338.25h7.5v0.5h-7.5zM302.75 338.75h7v0.5h-7zM301 339.25h10v1.5h-10zM312.75 340.75h3v1.5h-3zM303.75 340.75h7.75v1.75h-7.75zM303.75 342.5h8v0.75h-8zM305.25 343.25h6.5v0.25h-6.5zM312.25 342.5h2.5v1h-2.5zM305.25 343.5h9.5v0.5h-9.5zM305.25 344h8.25v1h-8.25zM305.25 345h8v0.5h-8zM305.25 345.5h10.25v0.5h-10.25zM305.5 346h1.5v0.75h-1.5zM307.25 346h8.25v0.75h-8.25zM305.5 346.75h12v0.25h-12zM306.25 347h6.25v1h-6.25zM312.75 347h4.75v1h-4.75zM306.25 348h14.25v0.25h-14.25zM323 348h2.75v1.5h-2.75zM307.5 348.25h13v1.25h-13zM307 349.5h15.25v1.5h-15.25zM332 349.5h1.5v1.5h-1.5zM306 351h1.5v1.5h-1.5zM340.25 351h1.5v1.5h-1.5zM331.75 351h1.5v1.5h-1.5zM329 351h1.5v1.5h-1.5zM308.75 351h19.5v1.5h-19.5zM321.75 352.75h5v1.5h-5zM345.5 352.75h1.5v1.5h-1.5zM309.5 352.75h12v1.5h-12zM327 352.75h6.5v1.5h-6.5zM332.25 354.75h8v1.5h-8zM341.75 354.75h1.5v1.5h-1.5zM308.5 354.75h23.5v1.5h-23.5zM352.75 354.75h1.5v1.5h-1.5zM365 357h1.5v1.5h-1.5zM309.5 357h38.5v1.5h-38.5zM367.5 357h1.5v1.5h-1.5zM372.25 359.5h1.5v1.5h-1.5zM362 359.5h3.75v1.5h-3.75zM368 359.5h2.75v1.5h-2.75zM359.25 359.5h2v1.5h-2zM310 359.5h47.5v1.5h-47.5zM308.25 359.5h1.5v1.5h-1.5zM371 362.75h2.75v1.5h-2.75zM278 362.75h2v1.5h-2zM312.25 362.75h58.5v1.5h-58.5zM370.25 367h3.5v1.5h-3.5zM277.75 367h4v1.5h-4zM313.5 367h56.5v1.5h-56.5zM316 373h57.75v1.5h-57.75zM277.75 373h4.5v1.5h-4.5z" fill="#000"/>
</g>
<rect x="277.6" y="265.5" width="96.0" height="112.39999999999998" fill="none" stroke="#777" stroke-width="0.9"/>
<line x1="276.30" y1="266.80" x2="278.40" y2="266.80" stroke="#444" stroke-width="0.7"/>
<text x="275.10" y="269.00" font-size="6.0" text-anchor="end" fill="#333">10<tspan font-size="4.2" dy="-2.8">0</tspan></text>
<line x1="277.60" y1="290.33" x2="278.60" y2="290.33" stroke="#555" stroke-width="0.5"/>
<line x1="277.60" y1="284.41" x2="278.60" y2="284.41" stroke="#555" stroke-width="0.5"/>
<line x1="277.60" y1="280.20" x2="278.60" y2="280.20" stroke="#555" stroke-width="0.5"/>
<line x1="277.60" y1="276.94" x2="278.60" y2="276.94" stroke="#555" stroke-width="0.5"/>
<line x1="277.60" y1="274.27" x2="278.60" y2="274.27" stroke="#555" stroke-width="0.5"/>
<line x1="277.60" y1="272.02" x2="278.60" y2="272.02" stroke="#555" stroke-width="0.5"/>
<line x1="277.60" y1="270.06" x2="278.60" y2="270.06" stroke="#555" stroke-width="0.5"/>
<line x1="277.60" y1="268.34" x2="278.60" y2="268.34" stroke="#555" stroke-width="0.5"/>
<line x1="276.30" y1="300.47" x2="278.40" y2="300.47" stroke="#444" stroke-width="0.7"/>
<text x="275.10" y="302.67" font-size="6.0" text-anchor="end" fill="#333">10<tspan font-size="4.2" dy="-2.8">-1</tspan></text>
<line x1="277.60" y1="324.00" x2="278.60" y2="324.00" stroke="#555" stroke-width="0.5"/>
<line x1="277.60" y1="318.08" x2="278.60" y2="318.08" stroke="#555" stroke-width="0.5"/>
<line x1="277.60" y1="313.87" x2="278.60" y2="313.87" stroke="#555" stroke-width="0.5"/>
<line x1="277.60" y1="310.61" x2="278.60" y2="310.61" stroke="#555" stroke-width="0.5"/>
<line x1="277.60" y1="307.94" x2="278.60" y2="307.94" stroke="#555" stroke-width="0.5"/>
<line x1="277.60" y1="305.69" x2="278.60" y2="305.69" stroke="#555" stroke-width="0.5"/>
<line x1="277.60" y1="303.73" x2="278.60" y2="303.73" stroke="#555" stroke-width="0.5"/>
<line x1="277.60" y1="302.01" x2="278.60" y2="302.01" stroke="#555" stroke-width="0.5"/>
<line x1="276.30" y1="334.14" x2="278.40" y2="334.14" stroke="#444" stroke-width="0.7"/>
<text x="275.10" y="336.34" font-size="6.0" text-anchor="end" fill="#333">10<tspan font-size="4.2" dy="-2.8">-2</tspan></text>
<line x1="277.60" y1="357.67" x2="278.60" y2="357.67" stroke="#555" stroke-width="0.5"/>
<line x1="277.60" y1="351.75" x2="278.60" y2="351.75" stroke="#555" stroke-width="0.5"/>
<line x1="277.60" y1="347.54" x2="278.60" y2="347.54" stroke="#555" stroke-width="0.5"/>
<line x1="277.60" y1="344.28" x2="278.60" y2="344.28" stroke="#555" stroke-width="0.5"/>
<line x1="277.60" y1="341.61" x2="278.60" y2="341.61" stroke="#555" stroke-width="0.5"/>
<line x1="277.60" y1="339.36" x2="278.60" y2="339.36" stroke="#555" stroke-width="0.5"/>
<line x1="277.60" y1="337.40" x2="278.60" y2="337.40" stroke="#555" stroke-width="0.5"/>
<line x1="277.60" y1="335.68" x2="278.60" y2="335.68" stroke="#555" stroke-width="0.5"/>
<line x1="276.30" y1="367.81" x2="278.40" y2="367.81" stroke="#444" stroke-width="0.7"/>
<text x="275.10" y="370.01" font-size="6.0" text-anchor="end" fill="#333">10<tspan font-size="4.2" dy="-2.8">-3</tspan></text>
<line x1="277.60" y1="375.28" x2="278.60" y2="375.28" stroke="#555" stroke-width="0.5"/>
<line x1="277.60" y1="373.03" x2="278.60" y2="373.03" stroke="#555" stroke-width="0.5"/>
<line x1="277.60" y1="371.07" x2="278.60" y2="371.07" stroke="#555" stroke-width="0.5"/>
<line x1="277.60" y1="369.35" x2="278.60" y2="369.35" stroke="#555" stroke-width="0.5"/>
<line x1="294.20" y1="377.90" x2="294.20" y2="378.90" stroke="#444" stroke-width="0.7"/>
<text x="294.20" y="385.70" font-size="6.2" text-anchor="middle" fill="#222">100</text>
<line x1="314.05" y1="377.90" x2="314.05" y2="378.90" stroke="#444" stroke-width="0.7"/>
<text x="314.05" y="385.70" font-size="6.2" text-anchor="middle" fill="#222">200</text>
<line x1="333.90" y1="377.90" x2="333.90" y2="378.90" stroke="#444" stroke-width="0.7"/>
<text x="333.90" y="385.70" font-size="6.2" text-anchor="middle" fill="#222">300</text>
<line x1="353.75" y1="377.90" x2="353.75" y2="378.90" stroke="#444" stroke-width="0.7"/>
<text x="353.75" y="385.70" font-size="6.2" text-anchor="middle" fill="#222">400</text>
<line x1="373.60" y1="377.90" x2="373.60" y2="378.90" stroke="#444" stroke-width="0.7"/>
<text x="373.60" y="385.70" font-size="6.2" text-anchor="middle" fill="#222">500</text>
<line x1="284.28" y1="377.90" x2="284.28" y2="378.70" stroke="#555" stroke-width="0.6"/>
<line x1="304.12" y1="377.90" x2="304.12" y2="378.70" stroke="#555" stroke-width="0.6"/>
<line x1="323.98" y1="377.90" x2="323.98" y2="378.70" stroke="#555" stroke-width="0.6"/>
<line x1="343.83" y1="377.90" x2="343.83" y2="378.70" stroke="#555" stroke-width="0.6"/>
<line x1="363.68" y1="377.90" x2="363.68" y2="378.70" stroke="#555" stroke-width="0.6"/>
<text x="310.40" y="399.50" font-size="7.3" text-anchor="start" fill="#111">Time (ns)</text>
<text x="262.90" y="321.50" font-size="7.9" text-anchor="middle" fill="#111" transform="rotate(-90 262.90 321.50)">Normalized Intensity (a. u.)</text>
<text x="289.50" y="275.10" font-size="9.6" font-family="'Liberation Serif', serif" fill="#222">(f)</text>
<rect x="319.5" y="273.0" width="1.6" height="1.6" fill="#000"/>
<text x="328.90" y="276.10" font-size="6.2" text-anchor="start" fill="#000">Without TBP</text>
<rect x="319.40000000000003" y="279.8" width="1.8" height="1.8" fill="#ff0000"/>
<text x="328.90" y="283.00" font-size="6.2" text-anchor="start" fill="#000">With TBP</text>
<rect x="333.1" y="297.5" width="35.00" height="8.30" fill="#000"/>
<text x="350.60" y="303.85" font-size="6.6" class="w" text-anchor="middle" fill="#c8c8c8" font-family="'Liberation Serif', serif" textLength="30.0" lengthAdjust="spacingAndGlyphs">0.&#160;05 mmol</text>
<clipPath id="cpg"><rect x="26.5" y="411.2" width="96.1" height="112.69999999999999"/></clipPath>
<g clip-path="url(#cpg)">
<path d="M31.25 411.25h1v1.25h-1zM31.5 412.5h1v2h-1zM31.5 414.5h1.25v0.25h-1.25zM31.75 414.75h1v1h-1zM31.75 415.75h1.25v0.75h-1.25zM32 416.5h1v0.5h-1zM32 417h1.25v1.5h-1.25zM32.25 418.5h1.25v1.5h-1.25zM32.25 420h1.5v0.75h-1.5zM32.5 420.75h1.25v0.75h-1.25zM32.5 421.5h1.5v1h-1.5zM32.5 422.5h1.75v0.5h-1.75zM32.75 423h1.5v1.5h-1.5zM33 424.5h1.5v1h-1.5zM33 425.5h1.75v1.25h-1.75zM33.25 426.75h1.5v0.25h-1.5zM33.25 427h1.75v1.25h-1.75zM33.25 428.25h2v0.5h-2zM33.5 428.75h1.75v0.75h-1.75zM33.75 429.5h1.5v0.75h-1.5zM29.5 429.75h1.5v1.5h-1.5zM33.75 430.25h1.75v1.25h-1.75zM33.75 431.5h2v1h-2zM34 432.5h2v1h-2zM34.25 433.5h1.75v0.5h-1.75zM34.25 434h2v1.25h-2zM34.5 435.25h1.75v0.75h-1.75zM34.75 436h1.75v0.75h-1.75zM34.75 436.75h2v1.25h-2zM35 438h2v0.75h-2zM35.25 438.75h1.75v0.5h-1.75zM35.25 439.25h2v1h-2zM35.25 440.25h2.25v0.25h-2.25zM35.5 440.5h2v1.25h-2zM35.75 441.75h1.75v0.25h-1.75zM35.75 442h2v0.5h-2zM35.75 442.5h2.25v1.25h-2.25zM36 443.75h2v1.25h-2zM36.25 445h2v0.75h-2zM36.5 445.75h2v2.25h-2zM36.5 448h2.25v0.5h-2.25zM37 448.5h1.75v0.5h-1.75zM37 449h2v1h-2zM37 450h2.25v0.5h-2.25zM37 450.5h2.5v0.25h-2.5zM37.25 450.75h2.25v1.5h-2.25zM37.25 452.25h2.5v0.25h-2.5zM37.5 452.5h2.25v0.5h-2.25zM37.5 453h2.5v0.5h-2.5zM37.75 453.5h2.25v0.5h-2.25zM38 454h2.25v1.5h-2.25zM38 455.5h2.75v0.75h-2.75zM38.25 456.25h2.5v1.25h-2.5zM38.25 457.5h2.75v0.75h-2.75zM38.75 458.25h2.75v0.5h-2.75zM29.5 458h1.5v1.5h-1.5zM39 458.75h2.5v1h-2.5zM39 459.75h2.25v0.25h-2.25zM39 460h2.5v0.5h-2.5zM39.25 460.5h2.25v1h-2.25zM39.25 461.5h2.5v0.5h-2.5zM39.5 462h2.25v0.25h-2.25zM39.5 462.25h2.75v2h-2.75zM40 464.25h2.25v0.5h-2.25zM40 464.75h2.5v0.25h-2.5zM40.25 465h2.25v0.25h-2.25zM40.25 465.25h2.75v0.5h-2.75zM40.5 465.75h2.5v0.25h-2.5zM41 466h2v1.5h-2zM40.75 467.5h2.25v0.5h-2.25zM40.75 468h2.5v0.25h-2.5zM40.75 468.25h3v0.5h-3zM41 468.75h2.75v0.75h-2.75zM42 469.5h2v0.25h-2zM42 469.75h2.25v0.75h-2.25zM42 470.5h3.25v1.25h-3.25zM41.75 471.75h3.5v0.25h-3.5zM41.75 472h3.25v0.25h-3.25zM42.5 472.25h3.5v1h-3.5zM42.5 473.25h4.25v0.5h-4.25zM42.25 473.75h4.5v0.25h-4.5zM42.5 474h4.75v0.5h-4.75zM43 474.5h4.25v1.5h-4.25zM42.5 476h4.75v0.5h-4.75zM44 476.5h3.25v0.25h-3.25zM44 476.75h3v0.5h-3zM44 477.25h3.75v0.5h-3.75zM44 477.75h4.5v0.25h-4.5zM43.5 478h5v0.75h-5zM43.75 478.75h4.75v0.5h-4.75zM44.5 479.25h4.25v1h-4.25zM44.5 480.25h5.75v0.5h-5.75zM29.5 479.25h1.5v1.5h-1.5zM44.75 480.75h5.5v0.5h-5.5zM45.25 481.25h5v0.5h-5zM45.5 481.75h5.5v1.5h-5.5zM45 483.25h6v0.5h-6zM45 483.75h6.25v0.75h-6.25zM46 484.5h5.75v0.5h-5.75zM55.25 484.5h1.5v1.5h-1.5zM46.5 485h6v1.5h-6zM52.75 485.75h2v1h-2zM47.25 486.5h5.25v0.25h-5.25zM51.5 486.75h3.25v0.5h-3.25zM51.5 487.25h1.25v0.25h-1.25zM53 487.25h1.5v0.25h-1.5zM47 486.75h3v0.75h-3zM48.25 487.5h1.75v0.75h-1.75zM51.5 487.5h3v0.75h-3zM48.25 488.25h6v0.25h-6zM48.5 488.5h8.5v0.75h-8.5zM48.75 489.25h8.25v0.75h-8.25zM48.75 490h7.5v0.25h-7.5zM50.25 490.25h6.25v1.25h-6.25zM59.75 490.25h1.5v1.25h-1.5zM59 491.5h2.25v0.25h-2.25zM59 491.75h1.5v0.75h-1.5zM51.25 491.5h6.75v1.5h-6.75zM64.5 491.5h1.5v1.5h-1.5zM59 492.5h2.25v1.25h-2.25zM49.5 493h8v0.75h-8zM55 493.75h10.75v0.25h-10.75zM51.5 493.75h2v1.5h-2zM55 494h4v1.25h-4zM59.25 494h6.5v1.25h-6.5zM74.25 495.25h1.5v1.5h-1.5zM54.5 495.25h8.5v1.5h-8.5zM69 495.25h1.5v1.5h-1.5zM52.5 495.25h0.5v1.5h-0.5zM71 496.75h1.5v1.5h-1.5zM52.25 496.75h0.25v1.5h-0.25zM54 496.75h10.5v1.5h-10.5zM68 496.75h1.5v1.5h-1.5zM64.75 496.75h1.5v1.5h-1.5zM73 498.5h1.5v1.5h-1.5zM56.75 498.5h12.25v1.5h-12.25zM74 500.5h2.5v1.5h-2.5zM58 500.5h14.5v1.5h-14.5zM102.75 500.5h1.5v1.5h-1.5zM80.25 502.75h5.25v1.5h-5.25zM89.5 502.75h2.25v1.5h-2.25zM62 502.75h17.25v1.5h-17.25zM93.25 502.75h1.5v1.5h-1.5zM60.25 502.75h0.25v1.5h-0.25zM85.75 502.75h3.5v1.5h-3.5zM58.5 502.75h0.25v1.5h-0.25zM84.25 505.5h4.5v1.5h-4.5zM65 505.5h2v1.5h-2zM108.5 505.5h1.75v1.5h-1.75zM112.75 505.5h1.5v1.5h-1.5zM76 505.5h2v1.5h-2zM92.25 505.5h5.75v1.5h-5.75zM80 505.5h2.75v1.5h-2.75zM61.25 505.5h0.25v1.5h-0.25zM90.25 505.5h0.5v1.5h-0.5zM71.75 505.5h1.25v1.5h-1.25zM111 505.5h1.5v1.5h-1.5zM69.25 505.5h1v1.5h-1zM94.75 508.75h0.25v1.5h-0.25zM109 508.75h3v1.5h-3zM89.75 508.75h1v1.5h-1zM113 508.75h3v1.5h-3zM117.5 508.75h2.5v1.5h-2.5zM26.75 508.75h1.5v1.5h-1.5zM81 508.75h1v1.5h-1zM73.25 508.75h0.75v1.5h-0.75zM92.5 508.75h0.75v1.5h-0.75zM96.5 508.75h8v1.5h-8zM122 508.75h0.75v1.5h-0.75zM87 508.75h1.25v1.5h-1.25zM29.5 508.75h1.5v1.5h-1.5zM106.75 508.75h0.75v1.5h-0.75zM85 508.75h0.5v1.5h-0.5zM30 512.75h1.5v1.5h-1.5zM83.5 512.75h0.25v1.5h-0.25zM26.5 512.75h0.25v1.5h-0.25zM78.25 512.75h0.5v1.5h-0.5zM104.5 512.75h1.5v1.5h-1.5zM28.25 512.75h0.25v1.5h-0.25zM76 512.75h0.75v1.5h-0.75zM120.75 512.75h1.75v1.5h-1.75zM31 518.75h0.75v1.5h-0.75z" fill="#ff0000"/>
<path d="M29.5 411.25h1.75v1h-1.75zM29.75 412.25h1.5v0.25h-1.5zM29.75 412.5h1.75v1.5h-1.75zM30 414h1.5v0.75h-1.5zM30 414.75h1.75v1.5h-1.75zM30.25 416.25h1.5v0.25h-1.5zM30.25 416.5h1.75v1.5h-1.75zM30.5 418h1.5v0.5h-1.5zM30.5 418.5h1.75v2h-1.75zM30.75 420.5h1.5v0.25h-1.5zM30.75 420.75h1.75v1.5h-1.75zM31 422.25h1.5v0.75h-1.5zM28.75 422h1.5v1.5h-1.5zM31 423h1.75v1.5h-1.75zM31 424.5h2v0.5h-2zM31.25 425h1.75v1h-1.75zM31.5 426h1.5v0.75h-1.5zM31.5 426.75h1.75v1.75h-1.75zM31.75 428.5h1.5v0.25h-1.5zM31.75 428.75h1.75v0.75h-1.75zM31.75 429.5h2v1.25h-2zM32 430.75h1.75v1.75h-1.75zM32 432.5h2v0.25h-2zM32.25 432.75h1.75v2h-1.75zM32.25 434.75h2v0.25h-2zM32.5 435h1.75v1.25h-1.75zM32.5 436.25h2v0.25h-2zM32.75 436.5h1.75v1.25h-1.75zM32.75 437.75h2v0.25h-2zM33 438h1.75v1h-1.75zM28.75 438.75h1.5v1.5h-1.5zM33 439h2v2h-2zM33.25 441h1.75v0.25h-1.75zM33.5 441.25h1.5v0.5h-1.5zM33.5 441.75h1.75v1.25h-1.75zM33.75 443h1.5v0.5h-1.5zM33.75 443.5h1.75v0.5h-1.75zM33.75 444h2v0.75h-2zM33.75 444.75h2.25v0.5h-2.25zM34 445.25h2v1.25h-2zM34 446.5h2.25v0.25h-2.25zM34.25 446.75h2v1.5h-2zM34.5 448.25h1.75v1h-1.75zM34.5 449.25h2v1.25h-2zM34.75 450.5h1.75v0.25h-1.75zM34.75 450.75h2v1.25h-2zM34.75 452h2.5v0.5h-2.5zM35 452.5h2.25v1.5h-2.25zM35 454h2.5v0.75h-2.5zM35.25 454.75h2.25v0.25h-2.25zM35.25 455h2.5v0.75h-2.5zM35.5 455.75h2.25v0.25h-2.25zM35.75 456h2v0.5h-2zM35.75 456.5h2.25v1h-2.25zM28.75 456.25h1.5v1.5h-1.5zM35.75 457.5h2.5v1h-2.5zM36 458.5h2.25v0.75h-2.25zM36.25 459.25h2v0.5h-2zM36 459.75h2.5v0.25h-2.5zM36 460h2.75v1.25h-2.75zM36.5 461.25h2.75v0.75h-2.75zM36.5 462h3v0.75h-3zM36.75 462.75h2.75v0.75h-2.75zM36.75 463.5h2.5v0.5h-2.5zM36.75 464h2.75v0.25h-2.75zM37.5 464.25h2v0.25h-2zM37 464.5h2.5v0.25h-2.5zM37 464.75h3v1.25h-3zM37.25 466h3.75v0.25h-3.75zM37.75 466.25h3.25v0.25h-3.25zM37.5 466.5h3.5v1h-3.5zM37.5 467.5h2.75v0.5h-2.75zM37.75 468h2.5v0.5h-2.5zM37.75 468.5h2.75v0.25h-2.75zM38 468.75h2.5v0.75h-2.5zM38 469.5h4v1.25h-4zM38.5 470.75h3.5v1h-3.5zM38.5 471.75h3.25v0.5h-3.25zM38.5 472.25h4v0.5h-4zM39 472.75h3.5v1h-3.5zM39.25 473.75h3v0.25h-3zM38.75 474h3.75v0.5h-3.75zM38.75 474.5h4.25v1h-4.25zM39.75 475.5h3.25v0.5h-3.25zM39.25 476h3.25v0.5h-3.25zM39.25 476.5h4.75v1h-4.75zM39.75 477.5h4.25v0.5h-4.25zM39.75 478h3.75v0.75h-3.75zM28.75 477.5h1.5v1.5h-1.5zM40 478.75h3.75v0.5h-3.75zM40 479.25h4.5v1h-4.5zM40.75 480.25h3.75v0.5h-3.75zM40.25 480.75h4.5v0.5h-4.5zM40.25 481.25h5v0.5h-5zM40.25 481.75h5.25v0.5h-5.25zM40.5 482.25h5v1h-5zM42 483.25h3v1.25h-3zM42 484.5h4v0.5h-4zM41.75 485h4.75v1.5h-4.75zM42.25 486.5h4v0.25h-4zM41.5 486.75h5.5v0.75h-5.5zM50 486.75h1.5v1.5h-1.5zM41.5 487.5h6.75v0.75h-6.75zM42.75 488.25h5.5v0.25h-5.5zM42.75 488.5h5.75v0.75h-5.75zM42 489.25h6.75v1h-6.75zM42 490.25h8.25v0.5h-8.25zM42.5 490.75h7.75v0.75h-7.75zM42.5 491.5h8.75v0.25h-8.75zM43.25 491.75h8v1.25h-8zM43.5 493h6v0.75h-6zM43.25 493.75h8.25v1.5h-8.25zM53.5 493.75h1.5v1.5h-1.5zM53 495.25h1.5v1.5h-1.5zM43.25 495.25h9.25v1.5h-9.25zM44.25 496.75h8v1.5h-8zM52.5 496.75h1.5v1.5h-1.5zM45.25 498.5h11.5v1.5h-11.5zM44.75 500.5h13.25v1.5h-13.25zM72.5 500.5h1.5v1.5h-1.5zM60.5 502.75h1.5v1.5h-1.5zM58.75 502.75h1.5v1.5h-1.5zM45.75 502.75h12.75v1.5h-12.75zM46.75 505.5h14.5v1.5h-14.5zM70.25 505.5h1.5v1.5h-1.5zM61.5 505.5h3.5v1.5h-3.5zM67 505.5h2.25v1.5h-2.25zM90.75 505.5h1.5v1.5h-1.5zM82.75 505.5h1.5v1.5h-1.5zM78 505.5h2v1.5h-2zM101.75 505.5h1.5v1.5h-1.5zM73 505.5h3v1.5h-3zM88.75 505.5h1.5v1.5h-1.5zM49 508.75h24.25v1.5h-24.25zM85.5 508.75h1.5v1.5h-1.5zM90.75 508.75h1.75v1.5h-1.75zM95 508.75h1.5v1.5h-1.5zM74 508.75h7v1.5h-7zM104.5 508.75h2.25v1.5h-2.25zM107.5 508.75h1.5v1.5h-1.5zM116 508.75h1.5v1.5h-1.5zM88.25 508.75h1.5v1.5h-1.5zM82 508.75h3v1.5h-3zM120 508.75h1.5v1.5h-1.5zM93.25 508.75h1.5v1.5h-1.5zM48.25 512.75h27.75v1.5h-27.75zM106 512.75h14.75v1.5h-14.75zM28.5 512.75h1.5v1.5h-1.5zM26.75 512.75h1.5v1.5h-1.5zM78.75 512.75h4.75v1.5h-4.75zM83.75 512.75h20.75v1.5h-20.75zM122.5 512.75h0.25v1.5h-0.25zM76.75 512.75h1.5v1.5h-1.5zM48.5 518.75h74.25v1.5h-74.25zM26.5 518.75h4.5v1.5h-4.5z" fill="#000"/>
</g>
<rect x="26.5" y="411.2" width="96.1" height="112.69999999999999" fill="none" stroke="#777" stroke-width="0.9"/>
<line x1="25.20" y1="412.60" x2="27.30" y2="412.60" stroke="#444" stroke-width="0.7"/>
<text x="24.00" y="414.80" font-size="6.0" text-anchor="end" fill="#333">10<tspan font-size="4.2" dy="-2.8">0</tspan></text>
<line x1="26.50" y1="436.13" x2="27.50" y2="436.13" stroke="#555" stroke-width="0.5"/>
<line x1="26.50" y1="430.21" x2="27.50" y2="430.21" stroke="#555" stroke-width="0.5"/>
<line x1="26.50" y1="426.00" x2="27.50" y2="426.00" stroke="#555" stroke-width="0.5"/>
<line x1="26.50" y1="422.74" x2="27.50" y2="422.74" stroke="#555" stroke-width="0.5"/>
<line x1="26.50" y1="420.07" x2="27.50" y2="420.07" stroke="#555" stroke-width="0.5"/>
<line x1="26.50" y1="417.82" x2="27.50" y2="417.82" stroke="#555" stroke-width="0.5"/>
<line x1="26.50" y1="415.86" x2="27.50" y2="415.86" stroke="#555" stroke-width="0.5"/>
<line x1="26.50" y1="414.14" x2="27.50" y2="414.14" stroke="#555" stroke-width="0.5"/>
<line x1="25.20" y1="446.27" x2="27.30" y2="446.27" stroke="#444" stroke-width="0.7"/>
<text x="24.00" y="448.47" font-size="6.0" text-anchor="end" fill="#333">10<tspan font-size="4.2" dy="-2.8">-1</tspan></text>
<line x1="26.50" y1="469.80" x2="27.50" y2="469.80" stroke="#555" stroke-width="0.5"/>
<line x1="26.50" y1="463.88" x2="27.50" y2="463.88" stroke="#555" stroke-width="0.5"/>
<line x1="26.50" y1="459.67" x2="27.50" y2="459.67" stroke="#555" stroke-width="0.5"/>
<line x1="26.50" y1="456.41" x2="27.50" y2="456.41" stroke="#555" stroke-width="0.5"/>
<line x1="26.50" y1="453.74" x2="27.50" y2="453.74" stroke="#555" stroke-width="0.5"/>
<line x1="26.50" y1="451.49" x2="27.50" y2="451.49" stroke="#555" stroke-width="0.5"/>
<line x1="26.50" y1="449.53" x2="27.50" y2="449.53" stroke="#555" stroke-width="0.5"/>
<line x1="26.50" y1="447.81" x2="27.50" y2="447.81" stroke="#555" stroke-width="0.5"/>
<line x1="25.20" y1="479.94" x2="27.30" y2="479.94" stroke="#444" stroke-width="0.7"/>
<text x="24.00" y="482.14" font-size="6.0" text-anchor="end" fill="#333">10<tspan font-size="4.2" dy="-2.8">-2</tspan></text>
<line x1="26.50" y1="503.47" x2="27.50" y2="503.47" stroke="#555" stroke-width="0.5"/>
<line x1="26.50" y1="497.55" x2="27.50" y2="497.55" stroke="#555" stroke-width="0.5"/>
<line x1="26.50" y1="493.34" x2="27.50" y2="493.34" stroke="#555" stroke-width="0.5"/>
<line x1="26.50" y1="490.08" x2="27.50" y2="490.08" stroke="#555" stroke-width="0.5"/>
<line x1="26.50" y1="487.41" x2="27.50" y2="487.41" stroke="#555" stroke-width="0.5"/>
<line x1="26.50" y1="485.16" x2="27.50" y2="485.16" stroke="#555" stroke-width="0.5"/>
<line x1="26.50" y1="483.20" x2="27.50" y2="483.20" stroke="#555" stroke-width="0.5"/>
<line x1="26.50" y1="481.48" x2="27.50" y2="481.48" stroke="#555" stroke-width="0.5"/>
<line x1="25.20" y1="513.61" x2="27.30" y2="513.61" stroke="#444" stroke-width="0.7"/>
<text x="24.00" y="515.81" font-size="6.0" text-anchor="end" fill="#333">10<tspan font-size="4.2" dy="-2.8">-3</tspan></text>
<line x1="26.50" y1="523.75" x2="27.50" y2="523.75" stroke="#555" stroke-width="0.5"/>
<line x1="26.50" y1="521.08" x2="27.50" y2="521.08" stroke="#555" stroke-width="0.5"/>
<line x1="26.50" y1="518.83" x2="27.50" y2="518.83" stroke="#555" stroke-width="0.5"/>
<line x1="26.50" y1="516.87" x2="27.50" y2="516.87" stroke="#555" stroke-width="0.5"/>
<line x1="26.50" y1="515.15" x2="27.50" y2="515.15" stroke="#555" stroke-width="0.5"/>
<line x1="43.20" y1="523.90" x2="43.20" y2="524.90" stroke="#444" stroke-width="0.7"/>
<text x="43.20" y="531.70" font-size="6.2" text-anchor="middle" fill="#222">100</text>
<line x1="63.05" y1="523.90" x2="63.05" y2="524.90" stroke="#444" stroke-width="0.7"/>
<text x="63.05" y="531.70" font-size="6.2" text-anchor="middle" fill="#222">200</text>
<line x1="82.90" y1="523.90" x2="82.90" y2="524.90" stroke="#444" stroke-width="0.7"/>
<text x="82.90" y="531.70" font-size="6.2" text-anchor="middle" fill="#222">300</text>
<line x1="102.75" y1="523.90" x2="102.75" y2="524.90" stroke="#444" stroke-width="0.7"/>
<text x="102.75" y="531.70" font-size="6.2" text-anchor="middle" fill="#222">400</text>
<line x1="122.60" y1="523.90" x2="122.60" y2="524.90" stroke="#444" stroke-width="0.7"/>
<text x="122.60" y="531.70" font-size="6.2" text-anchor="middle" fill="#222">500</text>
<line x1="33.27" y1="523.90" x2="33.27" y2="524.70" stroke="#555" stroke-width="0.6"/>
<line x1="53.12" y1="523.90" x2="53.12" y2="524.70" stroke="#555" stroke-width="0.6"/>
<line x1="72.97" y1="523.90" x2="72.97" y2="524.70" stroke="#555" stroke-width="0.6"/>
<line x1="92.82" y1="523.90" x2="92.82" y2="524.70" stroke="#555" stroke-width="0.6"/>
<line x1="112.67" y1="523.90" x2="112.67" y2="524.70" stroke="#555" stroke-width="0.6"/>
<text x="59.30" y="545.50" font-size="7.3" text-anchor="start" fill="#111">Time (ns)</text>
<text x="11.80" y="467.20" font-size="7.9" text-anchor="middle" fill="#111" transform="rotate(-90 11.80 467.20)">Normalized Intensity (a. u.)</text>
<text x="35.30" y="421.70" font-size="9.6" text-anchor="start" fill="#222">(g)</text>
<rect x="66.0" y="419.3" width="1.6" height="1.6" fill="#000"/>
<text x="75.80" y="422.40" font-size="6.8" text-anchor="start" fill="#000">Without TBP</text>
<rect x="65.89999999999999" y="428.40000000000003" width="1.8" height="1.8" fill="#ff0000"/>
<text x="75.80" y="431.60" font-size="6.8" text-anchor="start" fill="#000">With TBP</text>
<rect x="86.6" y="442.9" width="34.00" height="7.30" fill="#000"/>
<text x="103.60" y="448.75" font-size="6.6" class="w" text-anchor="middle" fill="#c8c8c8" font-family="'Liberation Serif', serif" textLength="29.0" lengthAdjust="spacingAndGlyphs">0.&#160;08 mmol</text>
<clipPath id="cph"><rect x="152.2" y="411.2" width="95.10000000000002" height="112.69999999999999"/></clipPath>
<g clip-path="url(#cph)">
<path d="M155.75 411.25h1v0.25h-1zM156 411.5h0.75v0.5h-0.75zM156 412h1v0.5h-1zM156 412.5h1.25v1.75h-1.25zM156 414.25h1.5v0.5h-1.5zM156 414.75h1.75v1.25h-1.75zM156 416h2v0.5h-2zM156.25 416.5h1.75v0.5h-1.75zM156.25 417h2v0.75h-2zM156.25 417.75h2.25v0.25h-2.25zM156.5 418h2v0.75h-2zM156.5 418.75h2.25v0.25h-2.25zM156.75 419h2v0.75h-2zM157 419.75h2v0.75h-2zM157.25 420.5h1.75v0.5h-1.75zM157.25 421h2v0.75h-2zM157.5 421.75h2v1h-2zM157.5 422.75h2.25v0.75h-2.25zM157.75 423.5h2.25v0.25h-2.25zM158 423.75h2v0.75h-2zM158.25 424.5h1.75v0.75h-1.75zM158.25 425.25h2v0.25h-2zM158.5 425.5h1.75v0.5h-1.75zM158.5 426h2v0.75h-2zM158.75 426.75h1.75v0.5h-1.75zM158.75 427.25h2v0.75h-2zM158.75 428h2.25v0.25h-2.25zM159 428.25h2v0.75h-2zM159.25 429h2v1h-2zM159.25 430h2.25v0.5h-2.25zM159.5 430.5h2v0.25h-2zM159.75 430.75h1.75v0.75h-1.75zM160 431.5h1.75v0.75h-1.75zM160 432.25h2.25v1h-2.25zM154.25 432h1.25v1.5h-1.25zM160.25 433.25h2.25v0.75h-2.25zM160.5 434h2v1h-2zM160.5 435h2.25v0.5h-2.25zM160.75 435.5h2v0.25h-2zM160.75 435.75h2.25v0.75h-2.25zM161 436.5h2v0.75h-2zM161.25 437.25h2v0.75h-2zM161.25 438h2.25v0.5h-2.25zM161.5 438.5h2.25v1.5h-2.25zM161.75 440h2.25v0.5h-2.25zM161.75 440.5h2.5v0.25h-2.5zM162 440.75h2.25v1h-2.25zM162 441.75h2.5v0.5h-2.5zM162.25 442.25h2.25v0.5h-2.25zM162.25 442.75h2.5v0.25h-2.5zM162.5 443h2.25v0.5h-2.25zM162.75 443.5h2v0.75h-2zM162.75 444.25h2.25v0.75h-2.25zM162.75 445h2.75v1.5h-2.75zM163.25 446.5h2.5v1.25h-2.5zM163.5 447.75h2.25v0.25h-2.25zM163.5 448h2.75v0.25h-2.75zM163.75 448.25h2.5v1h-2.5zM164 449.25h2.5v1.25h-2.5zM164.25 450.5h2.25v1h-2.25zM164.25 451.5h2.5v0.25h-2.5zM164.25 451.75h2.75v0.25h-2.75zM164.75 452h2.5v1h-2.5zM164.75 453h2.75v0.75h-2.75zM164.75 453.75h3v0.25h-3zM165.25 454h2.5v0.5h-2.5zM165.25 454.5h2.75v1h-2.75zM165.5 455.5h2.5v0.5h-2.5zM165.5 456h3v1h-3zM165.75 457h2.75v1h-2.75zM165.75 458h3v0.25h-3zM166.25 458.25h2.5v1h-2.5zM166.5 459.25h2.75v0.25h-2.75zM154.25 459h1.5v1.5h-1.5zM166.75 459.5h2.5v1h-2.5zM167 460.5h2.75v1.5h-2.75zM167 462h2.5v0.5h-2.5zM167 462.5h2.75v0.25h-2.75zM167.5 462.75h2.25v0.25h-2.25zM167.5 463h2.75v0.25h-2.75zM167.25 463.25h3.25v2h-3.25zM168 465.25h2.75v0.5h-2.75zM168.25 465.75h2.5v0.5h-2.5zM168.5 466.25h2.25v0.25h-2.25zM168.5 466.5h2.5v1.75h-2.5zM168.5 468.25h3v0.75h-3zM168.5 469h3.25v0.25h-3.25zM169 469.25h2.75v0.25h-2.75zM169.25 469.5h2.5v0.75h-2.5zM168.75 470.25h3v0.5h-3zM168.75 470.75h3.5v1h-3.5zM169.75 471.75h2.5v0.25h-2.5zM169.75 472h3.25v0.25h-3.25zM169.25 472.25h3.75v1h-3.75zM169.25 473.25h4v0.5h-4zM169.5 473.75h3.75v0.5h-3.75zM169.5 474.25h4.25v0.75h-4.25zM170.25 475h3.5v0.25h-3.5zM170.25 475.25h4.25v0.75h-4.25zM170.25 476h5.25v0.5h-5.25zM170.5 476.5h5v1h-5zM170.5 477.5h4.5v1.75h-4.5zM171.5 479.25h3.5v0.5h-3.5zM171.75 479.75h4v0.5h-4zM171.75 480.25h4.25v0.5h-4.25zM171.25 480.75h4.75v0.5h-4.75zM171.25 481.25h5.25v0.5h-5.25zM171.25 481.75h5.75v0.5h-5.75zM171.5 482.25h5.5v0.25h-5.5zM171.5 482.5h5.75v0.75h-5.75zM172 483.25h5.25v0.5h-5.25zM171.75 483.75h7.25v1.5h-7.25zM173 485.25h5.25v0.5h-5.25zM171.75 485.75h6.5v0.75h-6.5zM171.75 486.5h5.25v0.25h-5.25zM180.25 485.75h1.5v1.5h-1.5zM171.75 486.75h8.25v0.5h-8.25zM154 486h1.5v1.5h-1.5zM173.75 487.25h6.25v0.25h-6.25zM172.25 487.5h8.75v0.75h-8.75zM179.5 488.25h1.5v0.25h-1.5zM172.25 488.25h1.5v0.25h-1.5zM174 488.25h5.25v0.25h-5.25zM172.25 488.5h9v0.5h-9zM172.75 489h8.5v1h-8.5zM182 488.5h1.5v1.5h-1.5zM174.5 490h5.5v0.25h-5.5zM174 490.25h8v0.5h-8zM174 490.75h1.5v0.75h-1.5zM175.75 490.75h6.25v0.75h-6.25zM183.25 490.25h1.5v1.25h-1.5zM174 491.5h10.75v0.25h-10.75zM185 491.5h1.5v1h-1.5zM174.5 491.75h9.5v0.75h-9.5zM174.5 492.5h12.25v0.5h-12.25zM188.25 492.5h1.5v1.5h-1.5zM175.25 493h11.5v1h-11.5zM177.25 494h9v1.25h-9zM175.25 494h1.75v1.25h-1.75zM199.75 495.25h1.5v1.5h-1.5zM189.75 495.25h1.5v1.5h-1.5zM197.75 495.25h1.5v1.5h-1.5zM176.5 495.25h12v1.5h-12zM203.5 495.25h1.5v1.5h-1.5zM212.25 496.75h1.5v1.5h-1.5zM176.75 496.75h15v1.5h-15zM202.5 496.75h2v1.5h-2zM179.75 498.5h23.75v1.5h-23.75zM205 498.5h1.5v1.5h-1.5zM176.5 498.5h1.75v1.5h-1.75zM181.75 500.5h1.5v1.5h-1.5zM231 500.5h1.5v1.5h-1.5zM218.25 500.5h2.5v1.5h-2.5zM197 500.5h9.5v1.5h-9.5zM209.75 500.5h1.5v1.5h-1.5zM236.5 500.5h1.5v1.5h-1.5zM213.75 500.5h1.5v1.5h-1.5zM186 500.5h10.75v1.5h-10.75zM207.75 500.5h1.5v1.5h-1.5zM224.5 500.5h1.5v1.5h-1.5zM179.75 500.5h0.5v1.5h-0.5zM195 502.75h11.75v1.5h-11.75zM220 502.75h1.25v1.5h-1.25zM182.5 502.75h3.25v1.5h-3.25zM216.25 502.75h2.25v1.5h-2.25zM231.75 502.75h0.5v1.5h-0.5zM222 502.75h4.5v1.5h-4.5zM152.25 502.75h1v1.5h-1zM230 502.75h1.5v1.5h-1.5zM214.5 502.75h1.5v1.5h-1.5zM208.25 502.75h5v1.5h-5zM187.25 502.75h4.5v1.5h-4.5zM225.5 505.5h3.5v1.5h-3.5zM244.75 505.5h1.5v1.5h-1.5zM230.75 505.5h8.5v1.5h-8.5zM223.5 505.5h1.5v1.5h-1.5zM215 505.5h4.25v1.5h-4.25zM199.75 505.5h0.25v1.5h-0.25zM201.5 505.5h12v1.5h-12zM220 505.5h3.25v1.5h-3.25zM241.75 505.5h1.5v1.5h-1.5zM205 508.75h3.5v1.5h-3.5zM228 508.75h0.5v1.5h-0.5zM153.75 508.75h1.5v1.5h-1.5zM210.5 508.75h0.25v1.5h-0.25zM221 508.75h0.75v1.5h-0.75zM217.5 508.75h2v1.5h-2zM199 508.75h0.25v1.5h-0.25zM223.25 508.75h3.25v1.5h-3.25zM231.5 508.75h11.75v1.5h-11.75zM244.75 508.75h2.75v1.5h-2.75zM212.25 508.75h3.75v1.5h-3.75zM201 508.75h0.5v1.5h-0.5zM155.25 512.75h0.75v1.5h-0.75zM231.75 512.75h1.25v1.5h-1.25zM152.25 512.75h0.25v1.5h-0.25zM244.75 512.75h2v1.5h-2zM241.75 512.75h0.75v1.5h-0.75zM236 512.75h3.5v1.5h-3.5zM229.5 512.75h0.5v1.5h-0.5zM226.5 512.75h0.5v1.5h-0.5zM155.5 518.75h0.75v1.5h-0.75z" fill="#ff0000"/>
<path d="M154.25 411.25h1.5v0.25h-1.5zM154.25 411.5h1.75v1.5h-1.75zM154.5 413h1.5v3.5h-1.5zM154.5 416.5h1.75v1h-1.75zM154.75 417.5h1.5v2.75h-1.5zM153.5 420.25h2.75v1.5h-2.75zM154.75 421.75h1.75v1h-1.75zM155 422.75h1.5v2.5h-1.5zM155 425.25h1.75v1.75h-1.75zM155.25 427h1.5v3.25h-1.5zM155.25 430.25h1.75v1h-1.75zM155.5 431.25h1.5v2.25h-1.5zM155.5 433.5h1.75v1.25h-1.75zM155.75 434.75h1.5v3.5h-1.5zM155.75 438.25h1.75v1h-1.75zM153.5 438.75h1.5v1.5h-1.5zM156 439.25h1.5v3h-1.5zM156 442.25h1.75v1.25h-1.75zM156.25 443.5h1.5v1h-1.5zM156.25 444.5h1.75v1.5h-1.75zM156.25 446h2v0.25h-2zM156.5 446.25h1.75v1.25h-1.75zM156.5 447.5h2v1.75h-2zM156.5 449.25h2.25v0.25h-2.25zM156.75 449.5h2v0.75h-2zM157 450.25h1.75v1.5h-1.75zM157 451.75h2v1h-2zM157 452.75h2.25v0.5h-2.25zM157.25 453.25h2v1h-2zM157.5 454.25h1.75v0.5h-1.75zM157.5 454.75h2v1.5h-2zM157.5 456.25h1.75v0.75h-1.75zM157.5 457h2v0.25h-2zM157.75 457.25h1.75v1.5h-1.75zM158 458.75h1.5v0.25h-1.5zM157.75 459h1.75v0.25h-1.75zM157.75 459.25h2.25v0.75h-2.25zM157.75 460h2.5v0.5h-2.5zM158 460.5h2.25v1h-2.25zM158 461.5h2v0.25h-2zM158.25 461.75h1.75v0.25h-1.75zM158.25 462h2.25v1.5h-2.25zM153.75 462.25h1.5v1.5h-1.5zM158.25 463.5h2v0.25h-2zM158.5 463.75h1.75v0.25h-1.75zM158.25 464h2.25v0.5h-2.25zM158.25 464.5h2.5v1.25h-2.5zM158.75 465.75h2v0.25h-2zM159 466h2v0.75h-2zM158.75 466.75h2.5v1.25h-2.5zM158.75 468h2.75v0.25h-2.75zM159 468.25h2.5v1h-2.5zM159.25 469.25h2.25v0.25h-2.25zM159.25 469.5h2.5v0.5h-2.5zM159.5 470h2.25v0.5h-2.25zM159.75 470.5h2v0.25h-2zM159.25 470.75h2.5v0.5h-2.5zM159.25 471.25h2.25v0.5h-2.25zM159.25 471.75h2.75v0.5h-2.75zM159.5 472.25h2.5v0.5h-2.5zM159.5 472.75h2.75v0.75h-2.75zM159.75 473.5h2.5v0.75h-2.5zM159.75 474.25h2.25v1h-2.25zM159.75 475.25h2.5v0.5h-2.5zM160 475.75h2.75v0.75h-2.75zM160.75 476.5h2v0.75h-2zM160.5 477.25h2.25v0.25h-2.25zM160.5 477.5h2v0.25h-2zM160.5 477.75h2.5v1.5h-2.5zM160.5 479.25h3v0.5h-3zM160.5 479.75h3.25v0.5h-3.25zM160.75 480.25h4v0.5h-4zM161 480.75h3.75v0.5h-3.75zM153.75 480.75h1.5v1.5h-1.5zM161 481.25h4.25v1.5h-4.25zM161 482.75h3.75v0.5h-3.75zM161.25 483.25h3.25v1.25h-3.25zM161.5 484.5h3.5v0.5h-3.5zM161.25 485h4.75v0.75h-4.75zM161.25 485.75h5.5v0.75h-5.5zM161.5 486.5h5.25v0.25h-5.25zM161.5 486.75h5.75v0.5h-5.75zM162.25 487.25h5v0.25h-5zM162.25 487.5h5.25v0.75h-5.25zM166 488.25h1.5v0.25h-1.5zM162.5 488.25h3v0.25h-3zM161.5 488.5h6v0.5h-6zM163.5 489h3.25v0.25h-3.25zM161.5 489h1.75v0.25h-1.75zM161.5 489.25h5.75v0.75h-5.75zM163 490h4.25v0.25h-4.25zM163 490.25h5.25v0.5h-5.25zM163.5 490.75h4.75v0.75h-4.75zM163 491.5h7v0.25h-7zM163 491.75h4.25v0.75h-4.25zM168 491.75h2v0.75h-2zM162.5 492.5h7.5v0.5h-7.5zM162.5 493h6v0.75h-6zM161.75 493.75h9.5v1.5h-9.5zM164 495.25h8.25v1.5h-8.25zM174.5 496.75h2.25v1.5h-2.25zM171 496.75h3v1.5h-3zM164 496.75h6.5v1.5h-6.5zM165 498.5h9.75v1.5h-9.75zM178.25 498.5h1.5v1.5h-1.5zM180.25 500.5h1.5v1.5h-1.5zM178.25 500.5h1.5v1.5h-1.5zM165 500.5h11.5v1.5h-11.5zM183.25 500.5h2.75v1.5h-2.75zM206.75 502.75h1.5v1.5h-1.5zM166 502.75h16.5v1.5h-16.5zM191.75 502.75h3.25v1.5h-3.25zM218.5 502.75h1.5v1.5h-1.5zM232.25 502.75h1.5v1.5h-1.5zM185.75 502.75h1.5v1.5h-1.5zM229.25 505.5h1.5v1.5h-1.5zM200 505.5h1.5v1.5h-1.5zM213.5 505.5h1.5v1.5h-1.5zM164.75 505.5h35v1.5h-35zM239.25 505.5h1.5v1.5h-1.5zM228.5 508.75h3v1.5h-3zM210.75 508.75h1.5v1.5h-1.5zM201.5 508.75h3.5v1.5h-3.5zM199.25 508.75h1.75v1.5h-1.75zM219.5 508.75h1.5v1.5h-1.5zM243.25 508.75h1.5v1.5h-1.5zM208.5 508.75h2v1.5h-2zM216 508.75h1.5v1.5h-1.5zM221.75 508.75h1.5v1.5h-1.5zM226.5 508.75h1.5v1.5h-1.5zM166.25 508.75h32.75v1.5h-32.75zM242.5 512.75h2.25v1.5h-2.25zM230 512.75h1.75v1.5h-1.75zM165.75 512.75h60.75v1.5h-60.75zM246.75 512.75h0.75v1.5h-0.75zM239.5 512.75h2.25v1.5h-2.25zM152.5 512.75h2.75v1.5h-2.75zM227 512.75h2.5v1.5h-2.5zM233 512.75h3v1.5h-3zM167.25 518.75h80.25v1.5h-80.25zM152.25 518.75h3.25v1.5h-3.25z" fill="#000"/>
</g>
<rect x="152.2" y="411.2" width="95.10000000000002" height="112.69999999999999" fill="none" stroke="#777" stroke-width="0.9"/>
<line x1="150.90" y1="412.60" x2="153.00" y2="412.60" stroke="#444" stroke-width="0.7"/>
<text x="149.70" y="414.80" font-size="6.0" text-anchor="end" fill="#333">10<tspan font-size="4.2" dy="-2.8">0</tspan></text>
<line x1="152.20" y1="436.13" x2="153.20" y2="436.13" stroke="#555" stroke-width="0.5"/>
<line x1="152.20" y1="430.21" x2="153.20" y2="430.21" stroke="#555" stroke-width="0.5"/>
<line x1="152.20" y1="426.00" x2="153.20" y2="426.00" stroke="#555" stroke-width="0.5"/>
<line x1="152.20" y1="422.74" x2="153.20" y2="422.74" stroke="#555" stroke-width="0.5"/>
<line x1="152.20" y1="420.07" x2="153.20" y2="420.07" stroke="#555" stroke-width="0.5"/>
<line x1="152.20" y1="417.82" x2="153.20" y2="417.82" stroke="#555" stroke-width="0.5"/>
<line x1="152.20" y1="415.86" x2="153.20" y2="415.86" stroke="#555" stroke-width="0.5"/>
<line x1="152.20" y1="414.14" x2="153.20" y2="414.14" stroke="#555" stroke-width="0.5"/>
<line x1="150.90" y1="446.27" x2="153.00" y2="446.27" stroke="#444" stroke-width="0.7"/>
<text x="149.70" y="448.47" font-size="6.0" text-anchor="end" fill="#333">10<tspan font-size="4.2" dy="-2.8">-1</tspan></text>
<line x1="152.20" y1="469.80" x2="153.20" y2="469.80" stroke="#555" stroke-width="0.5"/>
<line x1="152.20" y1="463.88" x2="153.20" y2="463.88" stroke="#555" stroke-width="0.5"/>
<line x1="152.20" y1="459.67" x2="153.20" y2="459.67" stroke="#555" stroke-width="0.5"/>
<line x1="152.20" y1="456.41" x2="153.20" y2="456.41" stroke="#555" stroke-width="0.5"/>
<line x1="152.20" y1="453.74" x2="153.20" y2="453.74" stroke="#555" stroke-width="0.5"/>
<line x1="152.20" y1="451.49" x2="153.20" y2="451.49" stroke="#555" stroke-width="0.5"/>
<line x1="152.20" y1="449.53" x2="153.20" y2="449.53" stroke="#555" stroke-width="0.5"/>
<line x1="152.20" y1="447.81" x2="153.20" y2="447.81" stroke="#555" stroke-width="0.5"/>
<line x1="150.90" y1="479.94" x2="153.00" y2="479.94" stroke="#444" stroke-width="0.7"/>
<text x="149.70" y="482.14" font-size="6.0" text-anchor="end" fill="#333">10<tspan font-size="4.2" dy="-2.8">-2</tspan></text>
<line x1="152.20" y1="503.47" x2="153.20" y2="503.47" stroke="#555" stroke-width="0.5"/>
<line x1="152.20" y1="497.55" x2="153.20" y2="497.55" stroke="#555" stroke-width="0.5"/>
<line x1="152.20" y1="493.34" x2="153.20" y2="493.34" stroke="#555" stroke-width="0.5"/>
<line x1="152.20" y1="490.08" x2="153.20" y2="490.08" stroke="#555" stroke-width="0.5"/>
<line x1="152.20" y1="487.41" x2="153.20" y2="487.41" stroke="#555" stroke-width="0.5"/>
<line x1="152.20" y1="485.16" x2="153.20" y2="485.16" stroke="#555" stroke-width="0.5"/>
<line x1="152.20" y1="483.20" x2="153.20" y2="483.20" stroke="#555" stroke-width="0.5"/>
<line x1="152.20" y1="481.48" x2="153.20" y2="481.48" stroke="#555" stroke-width="0.5"/>
<line x1="150.90" y1="513.61" x2="153.00" y2="513.61" stroke="#444" stroke-width="0.7"/>
<text x="149.70" y="515.81" font-size="6.0" text-anchor="end" fill="#333">10<tspan font-size="4.2" dy="-2.8">-3</tspan></text>
<line x1="152.20" y1="523.75" x2="153.20" y2="523.75" stroke="#555" stroke-width="0.5"/>
<line x1="152.20" y1="521.08" x2="153.20" y2="521.08" stroke="#555" stroke-width="0.5"/>
<line x1="152.20" y1="518.83" x2="153.20" y2="518.83" stroke="#555" stroke-width="0.5"/>
<line x1="152.20" y1="516.87" x2="153.20" y2="516.87" stroke="#555" stroke-width="0.5"/>
<line x1="152.20" y1="515.15" x2="153.20" y2="515.15" stroke="#555" stroke-width="0.5"/>
<line x1="167.90" y1="523.90" x2="167.90" y2="524.90" stroke="#444" stroke-width="0.7"/>
<text x="167.90" y="531.70" font-size="6.2" text-anchor="middle" fill="#222">100</text>
<line x1="187.75" y1="523.90" x2="187.75" y2="524.90" stroke="#444" stroke-width="0.7"/>
<text x="187.75" y="531.70" font-size="6.2" text-anchor="middle" fill="#222">200</text>
<line x1="207.60" y1="523.90" x2="207.60" y2="524.90" stroke="#444" stroke-width="0.7"/>
<text x="207.60" y="531.70" font-size="6.2" text-anchor="middle" fill="#222">300</text>
<line x1="227.45" y1="523.90" x2="227.45" y2="524.90" stroke="#444" stroke-width="0.7"/>
<text x="227.45" y="531.70" font-size="6.2" text-anchor="middle" fill="#222">400</text>
<line x1="247.30" y1="523.90" x2="247.30" y2="524.90" stroke="#444" stroke-width="0.7"/>
<text x="247.30" y="531.70" font-size="6.2" text-anchor="middle" fill="#222">500</text>
<line x1="157.98" y1="523.90" x2="157.98" y2="524.70" stroke="#555" stroke-width="0.6"/>
<line x1="177.82" y1="523.90" x2="177.82" y2="524.70" stroke="#555" stroke-width="0.6"/>
<line x1="197.68" y1="523.90" x2="197.68" y2="524.70" stroke="#555" stroke-width="0.6"/>
<line x1="217.53" y1="523.90" x2="217.53" y2="524.70" stroke="#555" stroke-width="0.6"/>
<line x1="237.38" y1="523.90" x2="237.38" y2="524.70" stroke="#555" stroke-width="0.6"/>
<text x="185.00" y="545.50" font-size="7.3" text-anchor="start" fill="#111">Time (ns)</text>
<text x="137.50" y="467.20" font-size="7.9" text-anchor="middle" fill="#111" transform="rotate(-90 137.50 467.20)">Normalized Intensity (a. u.)</text>
<text x="160.00" y="420.40" font-size="9.6" text-anchor="start" fill="#222">(h)</text>
<rect x="188.39999999999998" y="419.0" width="1.6" height="1.6" fill="#000"/>
<text x="197.60" y="422.10" font-size="6.2" text-anchor="start" fill="#000">Without TBP</text>
<rect x="188.29999999999998" y="426.90000000000003" width="1.8" height="1.8" fill="#ff0000"/>
<text x="197.60" y="430.10" font-size="6.2" text-anchor="start" fill="#000">With TBP</text>
<rect x="209.6" y="442.5" width="34.50" height="7.30" fill="#000"/>
<text x="226.85" y="448.35" font-size="6.6" class="w" text-anchor="middle" fill="#c8c8c8" font-family="'Liberation Serif', serif" textLength="29.5" lengthAdjust="spacingAndGlyphs">0.&#160;13 mmol</text>
<clipPath id="cpi"><rect x="277.5" y="411.2" width="95.89999999999998" height="112.69999999999999"/></clipPath>
<g clip-path="url(#cpi)">
<path d="M280.5 411.25h2v0.5h-2zM280.5 411.75h2.25v0.5h-2.25zM280.75 412.25h2v0.5h-2zM281 412.75h1.75v0.25h-1.75zM281 413h2v0.75h-2zM281.25 413.75h1.75v0.25h-1.75zM281.25 414h2v0.75h-2zM281.5 414.75h2v0.75h-2zM281.75 415.5h2v1h-2zM282 416.5h1.75v0.5h-1.75zM282 417h2v0.5h-2zM282.25 417.5h1.75v0.5h-1.75zM282.25 418h2.25v0.25h-2.25zM282.5 418.25h2v1h-2zM282.75 419.25h2v1.25h-2zM283 420.5h2v0.75h-2zM279.75 420h1.5v1.5h-1.5zM283.25 421.25h2v1.25h-2zM283.5 422.5h1.75v0.25h-1.75zM283.5 422.75h2v0.5h-2zM283.5 423.25h2.25v0.25h-2.25zM283.75 423.5h2v1h-2zM284 424.5h2v0.75h-2zM284.25 425.25h1.75v0.5h-1.75zM284.25 425.75h2v0.75h-2zM284.5 426.5h1.75v0.25h-1.75zM284.5 426.75h2v0.5h-2zM284.75 427.25h1.75v0.75h-1.75zM284.75 428h2v0.5h-2zM285 428.5h1.75v1h-1.75zM285 429.5h2v0.5h-2zM285.25 430h1.75v0.5h-1.75zM279.75 429.75h1.5v1.5h-1.5zM285.25 430.5h2v0.75h-2zM285.5 431.25h1.75v0.5h-1.75zM285.5 431.75h2v1.25h-2zM285.5 433h2.25v0.5h-2.25zM285.75 433.5h2v0.5h-2zM286 434h1.75v0.5h-1.75zM286 434.5h2v0.5h-2zM286.25 435h1.75v0.75h-1.75zM286.25 435.75h2v0.5h-2zM286.25 436.25h2.25v0.25h-2.25zM286.5 436.5h2v1h-2zM286.5 437.5h2.25v0.5h-2.25zM286.75 438h2v1.25h-2zM286.75 439.25h2.25v0.25h-2.25zM287 439.5h2v0.25h-2zM287.25 439.75h1.75v0.5h-1.75zM287.25 440.25h2v1.5h-2zM287.25 441.75h2.25v0.25h-2.25zM287.5 442h2v0.75h-2zM287.5 442.75h2.25v0.5h-2.25zM287.75 443.25h2v0.5h-2zM287.75 443.75h2.25v0.75h-2.25zM288 444.5h2.5v1h-2.5zM279.75 444.25h1.5v1.5h-1.5zM288.25 445.5h2.25v0.5h-2.25zM288.25 446h2.5v0.5h-2.5zM288.5 446.5h2.25v1h-2.25zM288.75 447.5h2.5v1.25h-2.5zM288.75 448.75h2.75v0.25h-2.75zM289 449h2.5v1h-2.5zM289.25 450h2.5v0.5h-2.5zM289.5 450.5h2.25v0.5h-2.25zM289.5 451h2.5v0.5h-2.5zM289.75 451.5h2.25v0.75h-2.25zM289.75 452.25h2.75v0.75h-2.75zM289.75 453h3v0.5h-3zM290 453.5h2.75v0.25h-2.75zM290 453.75h3v1h-3zM290.5 454.75h2.5v0.5h-2.5zM290.5 455.25h2.25v0.5h-2.25zM290.5 455.75h3v0.5h-3zM290.75 456.25h2.75v0.25h-2.75zM291.25 456.5h2.5v0.25h-2.5zM291 456.75h2.75v1.5h-2.75zM291 458.25h3v0.5h-3zM291.5 458.75h2.5v0.5h-2.5zM291.75 459.25h2.25v0.25h-2.25zM291.5 459.5h2.5v1h-2.5zM291.5 460.5h3.75v0.5h-3.75zM280 460.25h1.5v1.5h-1.5zM292 461h3.25v1h-3.25zM292.25 462h3v0.75h-3zM292.5 462.75h2.75v0.75h-2.75zM292.5 463.5h3v0.5h-3zM292.5 464h3.25v0.25h-3.25zM292.5 464.25h3.5v0.75h-3.5zM292.5 465h3.75v0.75h-3.75zM293 465.75h3.25v1.25h-3.25zM293.25 467h3v0.5h-3zM293.25 467.5h3.5v0.5h-3.5zM293.25 468h3.75v0.25h-3.75zM293.75 468.25h3.25v0.75h-3.25zM293.75 469h3.75v0.25h-3.75zM293.75 469.25h4v0.5h-4zM294.5 469.75h3.25v1h-3.25zM294.5 470.75h3.75v0.75h-3.75zM294.5 471.5h4.5v0.25h-4.5zM295 471.75h4v1h-4zM295.25 472.75h3.75v0.25h-3.75zM295 473h4.75v1.25h-4.75zM295 474.25h5.25v0.25h-5.25zM295.25 474.5h5v0.5h-5zM295.5 475h5.5v1.5h-5.5zM296.25 476.5h3.75v0.5h-3.75zM296.25 477h4v1.25h-4zM296.25 478.25h5.25v0.25h-5.25zM296.5 478.5h5v0.75h-5zM296.5 479.25h5.75v0.5h-5.75zM297 479.75h6.25v0.5h-6.25zM297.25 480.25h6v1h-6zM297.25 481.25h5.5v0.5h-5.5zM297.25 481.75h6.5v0.5h-6.5zM298 482.25h5.75v0.25h-5.75zM298 482.5h6.25v0.25h-6.25zM298.25 482.75h6v0.25h-6zM298 483h6.25v0.75h-6.25zM280 483.5h1.5v1.5h-1.5zM297.75 483.75h6.5v1.25h-6.5zM297.5 485h6.75v0.75h-6.75zM297.5 485.75h8.25v0.75h-8.25zM299 486.5h6.75v0.75h-6.75zM299.5 487.25h5.75v0.25h-5.75zM299.5 487.5h8.25v0.75h-8.25zM299.75 488.25h8v0.25h-8zM299 488.5h8.75v0.5h-8.75zM299 489h7.75v0.25h-7.75zM299 489.25h10v0.75h-10zM299.25 490h9.75v0.25h-9.75zM299.25 490.25h10.25v0.5h-10.25zM280 489.75h1.5v1.5h-1.5zM300 490.75h7.5v0.75h-7.5zM308 490.75h1.5v0.75h-1.5zM299.25 491.5h11v0.25h-11zM311.5 491.5h1.5v1h-1.5zM303 491.75h7.25v0.75h-7.25zM299.25 491.75h3.5v0.75h-3.5zM299.25 492.5h13.75v0.5h-13.75zM302 493h6.75v0.75h-6.75zM309.25 493h3v0.75h-3zM317.25 493.75h1.5v1.5h-1.5zM301.75 493.75h11.5v1.5h-11.5zM299.75 493.75h1.5v1.5h-1.5zM302 495.25h13.75v1.5h-13.75zM332.25 495.25h1.5v1.5h-1.5zM316 495.25h4.25v1.5h-4.25zM349.25 495.25h1.5v1.5h-1.5zM302.25 496.75h12.75v1.5h-12.75zM320.5 496.75h1.5v1.5h-1.5zM318 496.75h1.75v1.5h-1.75zM315.75 496.75h2v1.5h-2zM353 498.5h1.5v1.5h-1.5zM319.25 498.5h1.5v1.5h-1.5zM304.5 498.5h13.75v1.5h-13.75zM331 498.5h1.5v1.5h-1.5zM326.25 498.5h1.5v1.5h-1.5zM301.75 498.5h2.25v1.5h-2.25zM328 500.5h2.5v1.5h-2.5zM301.5 500.5h1.5v1.5h-1.5zM304.25 500.5h14.75v1.5h-14.75zM331.5 500.5h1.5v1.5h-1.5zM319.25 500.5h8.25v1.5h-8.25zM347.25 502.75h4v1.5h-4zM339.75 502.75h4v1.5h-4zM335.5 502.75h2.5v1.5h-2.5zM362 502.75h2.5v1.5h-2.5zM370.25 502.75h1.5v1.5h-1.5zM303.75 502.75h31.5v1.5h-31.5zM344.25 502.75h1.5v1.5h-1.5zM359.5 505.5h1.5v1.5h-1.5zM370.5 505.5h1.5v1.5h-1.5zM304.5 505.5h50v1.5h-50zM365.5 505.5h3.25v1.5h-3.25zM361.25 505.5h3v1.5h-3zM356 505.5h3.25v1.5h-3.25zM305 508.75h57.5v1.5h-57.5zM363 508.75h10.5v1.5h-10.5zM277.5 512.75h3.5v1.5h-3.5zM305.75 512.75h67.75v1.5h-67.75zM277.5 518.75h4.25v1.5h-4.25zM310.75 518.75h62.75v1.5h-62.75zM306.25 518.75h1.5v1.5h-1.5z" fill="#ff0000"/>
</g>
<rect x="277.5" y="411.2" width="95.89999999999998" height="112.69999999999999" fill="none" stroke="#777" stroke-width="0.9"/>
<line x1="276.20" y1="412.60" x2="278.30" y2="412.60" stroke="#444" stroke-width="0.7"/>
<text x="275.00" y="414.80" font-size="6.0" text-anchor="end" fill="#333">10<tspan font-size="4.2" dy="-2.8">0</tspan></text>
<line x1="277.50" y1="436.13" x2="278.50" y2="436.13" stroke="#555" stroke-width="0.5"/>
<line x1="277.50" y1="430.21" x2="278.50" y2="430.21" stroke="#555" stroke-width="0.5"/>
<line x1="277.50" y1="426.00" x2="278.50" y2="426.00" stroke="#555" stroke-width="0.5"/>
<line x1="277.50" y1="422.74" x2="278.50" y2="422.74" stroke="#555" stroke-width="0.5"/>
<line x1="277.50" y1="420.07" x2="278.50" y2="420.07" stroke="#555" stroke-width="0.5"/>
<line x1="277.50" y1="417.82" x2="278.50" y2="417.82" stroke="#555" stroke-width="0.5"/>
<line x1="277.50" y1="415.86" x2="278.50" y2="415.86" stroke="#555" stroke-width="0.5"/>
<line x1="277.50" y1="414.14" x2="278.50" y2="414.14" stroke="#555" stroke-width="0.5"/>
<line x1="276.20" y1="446.27" x2="278.30" y2="446.27" stroke="#444" stroke-width="0.7"/>
<text x="275.00" y="448.47" font-size="6.0" text-anchor="end" fill="#333">10<tspan font-size="4.2" dy="-2.8">-1</tspan></text>
<line x1="277.50" y1="469.80" x2="278.50" y2="469.80" stroke="#555" stroke-width="0.5"/>
<line x1="277.50" y1="463.88" x2="278.50" y2="463.88" stroke="#555" stroke-width="0.5"/>
<line x1="277.50" y1="459.67" x2="278.50" y2="459.67" stroke="#555" stroke-width="0.5"/>
<line x1="277.50" y1="456.41" x2="278.50" y2="456.41" stroke="#555" stroke-width="0.5"/>
<line x1="277.50" y1="453.74" x2="278.50" y2="453.74" stroke="#555" stroke-width="0.5"/>
<line x1="277.50" y1="451.49" x2="278.50" y2="451.49" stroke="#555" stroke-width="0.5"/>
<line x1="277.50" y1="449.53" x2="278.50" y2="449.53" stroke="#555" stroke-width="0.5"/>
<line x1="277.50" y1="447.81" x2="278.50" y2="447.81" stroke="#555" stroke-width="0.5"/>
<line x1="276.20" y1="479.94" x2="278.30" y2="479.94" stroke="#444" stroke-width="0.7"/>
<text x="275.00" y="482.14" font-size="6.0" text-anchor="end" fill="#333">10<tspan font-size="4.2" dy="-2.8">-2</tspan></text>
<line x1="277.50" y1="503.47" x2="278.50" y2="503.47" stroke="#555" stroke-width="0.5"/>
<line x1="277.50" y1="497.55" x2="278.50" y2="497.55" stroke="#555" stroke-width="0.5"/>
<line x1="277.50" y1="493.34" x2="278.50" y2="493.34" stroke="#555" stroke-width="0.5"/>
<line x1="277.50" y1="490.08" x2="278.50" y2="490.08" stroke="#555" stroke-width="0.5"/>
<line x1="277.50" y1="487.41" x2="278.50" y2="487.41" stroke="#555" stroke-width="0.5"/>
<line x1="277.50" y1="485.16" x2="278.50" y2="485.16" stroke="#555" stroke-width="0.5"/>
<line x1="277.50" y1="483.20" x2="278.50" y2="483.20" stroke="#555" stroke-width="0.5"/>
<line x1="277.50" y1="481.48" x2="278.50" y2="481.48" stroke="#555" stroke-width="0.5"/>
<line x1="276.20" y1="513.61" x2="278.30" y2="513.61" stroke="#444" stroke-width="0.7"/>
<text x="275.00" y="515.81" font-size="6.0" text-anchor="end" fill="#333">10<tspan font-size="4.2" dy="-2.8">-3</tspan></text>
<line x1="277.50" y1="523.75" x2="278.50" y2="523.75" stroke="#555" stroke-width="0.5"/>
<line x1="277.50" y1="521.08" x2="278.50" y2="521.08" stroke="#555" stroke-width="0.5"/>
<line x1="277.50" y1="518.83" x2="278.50" y2="518.83" stroke="#555" stroke-width="0.5"/>
<line x1="277.50" y1="516.87" x2="278.50" y2="516.87" stroke="#555" stroke-width="0.5"/>
<line x1="277.50" y1="515.15" x2="278.50" y2="515.15" stroke="#555" stroke-width="0.5"/>
<line x1="294.00" y1="523.90" x2="294.00" y2="524.90" stroke="#444" stroke-width="0.7"/>
<text x="294.00" y="531.70" font-size="6.2" text-anchor="middle" fill="#222">100</text>
<line x1="313.85" y1="523.90" x2="313.85" y2="524.90" stroke="#444" stroke-width="0.7"/>
<text x="313.85" y="531.70" font-size="6.2" text-anchor="middle" fill="#222">200</text>
<line x1="333.70" y1="523.90" x2="333.70" y2="524.90" stroke="#444" stroke-width="0.7"/>
<text x="333.70" y="531.70" font-size="6.2" text-anchor="middle" fill="#222">300</text>
<line x1="353.55" y1="523.90" x2="353.55" y2="524.90" stroke="#444" stroke-width="0.7"/>
<text x="353.55" y="531.70" font-size="6.2" text-anchor="middle" fill="#222">400</text>
<line x1="373.40" y1="523.90" x2="373.40" y2="524.90" stroke="#444" stroke-width="0.7"/>
<text x="373.40" y="531.70" font-size="6.2" text-anchor="middle" fill="#222">500</text>
<line x1="284.07" y1="523.90" x2="284.07" y2="524.70" stroke="#555" stroke-width="0.6"/>
<line x1="303.92" y1="523.90" x2="303.92" y2="524.70" stroke="#555" stroke-width="0.6"/>
<line x1="323.77" y1="523.90" x2="323.77" y2="524.70" stroke="#555" stroke-width="0.6"/>
<line x1="343.62" y1="523.90" x2="343.62" y2="524.70" stroke="#555" stroke-width="0.6"/>
<line x1="363.47" y1="523.90" x2="363.47" y2="524.70" stroke="#555" stroke-width="0.6"/>
<text x="310.30" y="545.50" font-size="7.3" text-anchor="start" fill="#111">Time (ns)</text>
<text x="262.80" y="467.20" font-size="7.9" text-anchor="middle" fill="#111" transform="rotate(-90 262.80 467.20)">Normalized Intensity (a. u.)</text>
<text x="291.50" y="421.20" font-size="9.6" font-family="'Liberation Serif', serif" fill="#222">(i)</text>
<rect x="326.3" y="422.1" width="1.8" height="1.8" fill="#ff0000"/>
<text x="335.60" y="425.30" font-size="6.2" text-anchor="start" fill="#000">With TBP</text>
<rect x="333.1" y="442.5" width="31.20" height="7.70" fill="#000"/>
<text x="348.70" y="448.55" font-size="6.6" class="w" text-anchor="middle" fill="#c8c8c8" font-family="'Liberation Serif', serif" textLength="26.2" lengthAdjust="spacingAndGlyphs">0.&#160;2 mmol</text>
</svg></body></html>
